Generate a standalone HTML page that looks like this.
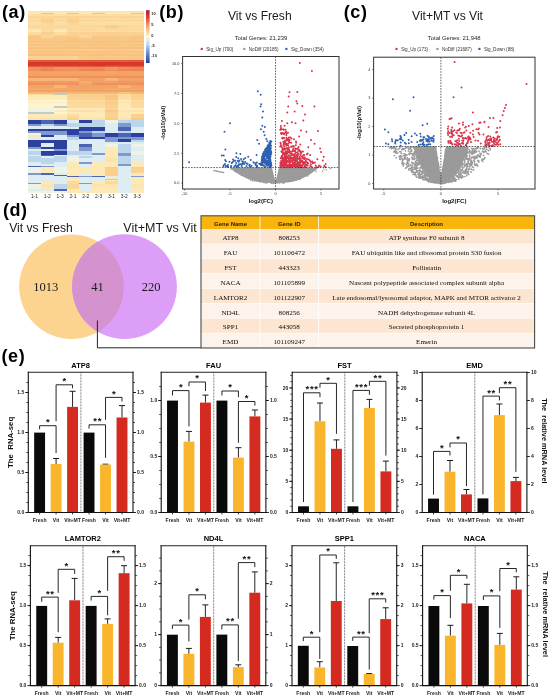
<!DOCTYPE html>
<html><head><meta charset="utf-8"><style>
html,body{margin:0;padding:0;background:#fff;overflow:hidden;}
svg{display:block;filter:blur(0.3px);}
</style></head><body>
<svg width="550" height="699" viewBox="0 0 550 699">
<rect x="0" y="0" width="550" height="699" fill="#fff"/>
<text x="2.00" y="17.90" font-size="18" font-weight="bold" text-anchor="start" font-family="'Liberation Sans', sans-serif" fill="#000" letter-spacing="0.6">(a)</text>
<text x="159.20" y="17.70" font-size="18" font-weight="bold" text-anchor="start" font-family="'Liberation Sans', sans-serif" fill="#000" letter-spacing="0.6">(b)</text>
<text x="343.70" y="17.90" font-size="18" font-weight="bold" text-anchor="start" font-family="'Liberation Sans', sans-serif" fill="#000" letter-spacing="0.6">(c)</text>
<text x="2.90" y="215.70" font-size="18" font-weight="bold" text-anchor="start" font-family="'Liberation Sans', sans-serif" fill="#000" letter-spacing="0.6">(d)</text>
<text x="1.50" y="362.20" font-size="18" font-weight="bold" text-anchor="start" font-family="'Liberation Sans', sans-serif" fill="#000" letter-spacing="0.6">(e)</text>
<filter id="hb" x="-2%" y="-2%" width="104%" height="104%"><feGaussianBlur stdDeviation="0.6"/></filter>
<g filter="url(#hb)" shape-rendering="crispEdges">
<rect x="28.00" y="10.50" width="13.03" height="1.60" fill="#fce1ac" />
<rect x="40.83" y="10.50" width="13.03" height="1.60" fill="#fce3ae" />
<rect x="53.67" y="10.50" width="13.03" height="1.60" fill="#fce2ae" />
<rect x="66.50" y="10.50" width="13.03" height="1.60" fill="#fce0ab" />
<rect x="79.33" y="10.50" width="13.03" height="1.60" fill="#fce2ad" />
<rect x="92.17" y="10.50" width="13.03" height="1.60" fill="#fce2ad" />
<rect x="105.00" y="10.50" width="13.03" height="1.60" fill="#fce0ac" />
<rect x="117.83" y="10.50" width="13.03" height="1.60" fill="#fce3ae" />
<rect x="130.67" y="10.50" width="13.03" height="1.60" fill="#fce0ab" />
<rect x="28.00" y="11.90" width="13.03" height="1.60" fill="#fde7b2" />
<rect x="40.83" y="11.90" width="13.03" height="1.60" fill="#fde7b2" />
<rect x="53.67" y="11.90" width="13.03" height="1.60" fill="#fde8b3" />
<rect x="66.50" y="11.90" width="13.03" height="1.60" fill="#fde8b3" />
<rect x="79.33" y="11.90" width="13.03" height="1.60" fill="#fde9b4" />
<rect x="92.17" y="11.90" width="13.03" height="1.60" fill="#fde6b1" />
<rect x="105.00" y="11.90" width="13.03" height="1.60" fill="#fde8b3" />
<rect x="117.83" y="11.90" width="13.03" height="1.60" fill="#fde8b3" />
<rect x="130.67" y="11.90" width="13.03" height="1.60" fill="#fde6b1" />
<rect x="28.00" y="13.30" width="13.03" height="1.20" fill="#fde9b4" />
<rect x="40.83" y="13.30" width="13.03" height="1.20" fill="#bfcccc" />
<rect x="53.67" y="13.30" width="13.03" height="1.20" fill="#fde9b4" />
<rect x="66.50" y="13.30" width="13.03" height="1.20" fill="#bfcccc" />
<rect x="79.33" y="13.30" width="13.03" height="1.20" fill="#fde9b4" />
<rect x="92.17" y="13.30" width="13.03" height="1.20" fill="#bfcccc" />
<rect x="105.00" y="13.30" width="13.03" height="1.20" fill="#fde9b4" />
<rect x="117.83" y="13.30" width="13.03" height="1.20" fill="#fde9b4" />
<rect x="130.67" y="13.30" width="13.03" height="1.20" fill="#bfcccc" />
<rect x="28.00" y="14.30" width="13.03" height="2.05" fill="#fcdea5" />
<rect x="40.83" y="14.30" width="13.03" height="2.05" fill="#fcdea5" />
<rect x="53.67" y="14.30" width="13.03" height="2.05" fill="#fde0a8" />
<rect x="66.50" y="14.30" width="13.03" height="2.05" fill="#fcdfa6" />
<rect x="79.33" y="14.30" width="13.03" height="2.05" fill="#fcdea6" />
<rect x="92.17" y="14.30" width="13.03" height="2.05" fill="#fcdfa7" />
<rect x="105.00" y="14.30" width="13.03" height="2.05" fill="#fcdda3" />
<rect x="117.83" y="14.30" width="13.03" height="2.05" fill="#fcdfa7" />
<rect x="130.67" y="14.30" width="13.03" height="2.05" fill="#fcdea5" />
<rect x="28.00" y="16.15" width="13.03" height="2.05" fill="#fbd597" />
<rect x="40.83" y="16.15" width="13.03" height="2.05" fill="#fbd698" />
<rect x="53.67" y="16.15" width="13.03" height="2.05" fill="#fbd396" />
<rect x="66.50" y="16.15" width="13.03" height="2.05" fill="#fbd497" />
<rect x="79.33" y="16.15" width="13.03" height="2.05" fill="#fbd396" />
<rect x="92.17" y="16.15" width="13.03" height="2.05" fill="#fbd598" />
<rect x="105.00" y="16.15" width="13.03" height="2.05" fill="#fbd597" />
<rect x="117.83" y="16.15" width="13.03" height="2.05" fill="#fbd396" />
<rect x="130.67" y="16.15" width="13.03" height="2.05" fill="#fbd598" />
<rect x="28.00" y="18.00" width="13.03" height="1.70" fill="#fcdca0" />
<rect x="40.83" y="18.00" width="13.03" height="1.70" fill="#fbd294" />
<rect x="53.67" y="18.00" width="13.03" height="1.70" fill="#fcdb9f" />
<rect x="66.50" y="18.00" width="13.03" height="1.70" fill="#fbd294" />
<rect x="79.33" y="18.00" width="13.03" height="1.70" fill="#fcdca1" />
<rect x="92.17" y="18.00" width="13.03" height="1.70" fill="#fcda9d" />
<rect x="105.00" y="18.00" width="13.03" height="1.70" fill="#fcdca1" />
<rect x="117.83" y="18.00" width="13.03" height="1.70" fill="#fcdb9f" />
<rect x="130.67" y="18.00" width="13.03" height="1.70" fill="#fcdb9f" />
<rect x="28.00" y="19.50" width="13.03" height="1.70" fill="#fbd698" />
<rect x="40.83" y="19.50" width="13.03" height="1.70" fill="#faca8a" />
<rect x="53.67" y="19.50" width="13.03" height="1.70" fill="#fbd699" />
<rect x="66.50" y="19.50" width="13.03" height="1.70" fill="#faca8a" />
<rect x="79.33" y="19.50" width="13.03" height="1.70" fill="#fbd598" />
<rect x="92.17" y="19.50" width="13.03" height="1.70" fill="#fbd497" />
<rect x="105.00" y="19.50" width="13.03" height="1.70" fill="#fbd598" />
<rect x="117.83" y="19.50" width="13.03" height="1.70" fill="#fbd496" />
<rect x="130.67" y="19.50" width="13.03" height="1.70" fill="#fbd496" />
<rect x="28.00" y="21.00" width="13.03" height="2.00" fill="#fcdda3" />
<rect x="40.83" y="21.00" width="13.03" height="2.00" fill="#fbd295" />
<rect x="53.67" y="21.00" width="13.03" height="2.00" fill="#fcdda3" />
<rect x="66.50" y="21.00" width="13.03" height="2.00" fill="#fbd192" />
<rect x="79.33" y="21.00" width="13.03" height="2.00" fill="#fcdda3" />
<rect x="92.17" y="21.00" width="13.03" height="2.00" fill="#fcdc9f" />
<rect x="105.00" y="21.00" width="13.03" height="2.00" fill="#fcdea4" />
<rect x="117.83" y="21.00" width="13.03" height="2.00" fill="#fcdda2" />
<rect x="130.67" y="21.00" width="13.03" height="2.00" fill="#fcdda2" />
<rect x="28.00" y="22.80" width="13.03" height="2.00" fill="#fcdfa7" />
<rect x="40.83" y="22.80" width="13.03" height="2.00" fill="#fcd69c" />
<rect x="53.67" y="22.80" width="13.03" height="2.00" fill="#fcdda3" />
<rect x="66.50" y="22.80" width="13.03" height="2.00" fill="#fcd599" />
<rect x="79.33" y="22.80" width="13.03" height="2.00" fill="#fcdda3" />
<rect x="92.17" y="22.80" width="13.03" height="2.00" fill="#fcdea4" />
<rect x="105.00" y="22.80" width="13.03" height="2.00" fill="#fcdea4" />
<rect x="117.83" y="22.80" width="13.03" height="2.00" fill="#fddfa8" />
<rect x="130.67" y="22.80" width="13.03" height="2.00" fill="#fcdea4" />
<rect x="28.00" y="24.60" width="13.03" height="1.67" fill="#fbd799" />
<rect x="40.83" y="24.60" width="13.03" height="1.67" fill="#fcd89b" />
<rect x="53.67" y="24.60" width="13.03" height="1.67" fill="#fcd99b" />
<rect x="66.50" y="24.60" width="13.03" height="1.67" fill="#fcd89a" />
<rect x="79.33" y="24.60" width="13.03" height="1.67" fill="#fbd698" />
<rect x="92.17" y="24.60" width="13.03" height="1.67" fill="#fcd79a" />
<rect x="105.00" y="24.60" width="13.03" height="1.67" fill="#fbcd8c" />
<rect x="117.83" y="24.60" width="13.03" height="1.67" fill="#fbd598" />
<rect x="130.67" y="24.60" width="13.03" height="1.67" fill="#fcd89a" />
<rect x="28.00" y="26.07" width="13.03" height="1.67" fill="#fcd89b" />
<rect x="40.83" y="26.07" width="13.03" height="1.67" fill="#fcd99b" />
<rect x="53.67" y="26.07" width="13.03" height="1.67" fill="#fcd99b" />
<rect x="66.50" y="26.07" width="13.03" height="1.67" fill="#fcd89a" />
<rect x="79.33" y="26.07" width="13.03" height="1.67" fill="#fcd89a" />
<rect x="92.17" y="26.07" width="13.03" height="1.67" fill="#fbd799" />
<rect x="105.00" y="26.07" width="13.03" height="1.67" fill="#fbcd8d" />
<rect x="117.83" y="26.07" width="13.03" height="1.67" fill="#fbd799" />
<rect x="130.67" y="26.07" width="13.03" height="1.67" fill="#fcd89a" />
<rect x="28.00" y="27.53" width="13.03" height="1.67" fill="#fcdb9e" />
<rect x="40.83" y="27.53" width="13.03" height="1.67" fill="#fcda9c" />
<rect x="53.67" y="27.53" width="13.03" height="1.67" fill="#fcd99b" />
<rect x="66.50" y="27.53" width="13.03" height="1.67" fill="#fcda9d" />
<rect x="79.33" y="27.53" width="13.03" height="1.67" fill="#fcd99b" />
<rect x="92.17" y="27.53" width="13.03" height="1.67" fill="#fcdb9e" />
<rect x="105.00" y="27.53" width="13.03" height="1.67" fill="#fbcf8e" />
<rect x="117.83" y="27.53" width="13.03" height="1.67" fill="#fcda9c" />
<rect x="130.67" y="27.53" width="13.03" height="1.67" fill="#fcdb9f" />
<rect x="28.00" y="29.00" width="13.03" height="1.70" fill="#fde7b2" />
<rect x="40.83" y="29.00" width="13.03" height="1.70" fill="#fcd89a" />
<rect x="53.67" y="29.00" width="13.03" height="1.70" fill="#fde7b2" />
<rect x="66.50" y="29.00" width="13.03" height="1.70" fill="#fbd799" />
<rect x="79.33" y="29.00" width="13.03" height="1.70" fill="#fcd99b" />
<rect x="92.17" y="29.00" width="13.03" height="1.70" fill="#fcda9c" />
<rect x="105.00" y="29.00" width="13.03" height="1.70" fill="#fcd99b" />
<rect x="117.83" y="29.00" width="13.03" height="1.70" fill="#fcd99b" />
<rect x="130.67" y="29.00" width="13.03" height="1.70" fill="#fcda9c" />
<rect x="28.00" y="30.50" width="13.03" height="1.70" fill="#fdebb9" />
<rect x="40.83" y="30.50" width="13.03" height="1.70" fill="#fcdea5" />
<rect x="53.67" y="30.50" width="13.03" height="1.70" fill="#fdebba" />
<rect x="66.50" y="30.50" width="13.03" height="1.70" fill="#fcdda2" />
<rect x="79.33" y="30.50" width="13.03" height="1.70" fill="#fcdda3" />
<rect x="92.17" y="30.50" width="13.03" height="1.70" fill="#fcdda2" />
<rect x="105.00" y="30.50" width="13.03" height="1.70" fill="#fcdda2" />
<rect x="117.83" y="30.50" width="13.03" height="1.70" fill="#fcdda3" />
<rect x="130.67" y="30.50" width="13.03" height="1.70" fill="#fcdda2" />
<rect x="28.00" y="32.00" width="13.03" height="1.70" fill="#fcdb9f" />
<rect x="40.83" y="32.00" width="13.03" height="1.70" fill="#fbcf8e" />
<rect x="53.67" y="32.00" width="13.03" height="1.70" fill="#fcdb9e" />
<rect x="66.50" y="32.00" width="13.03" height="1.70" fill="#fbd090" />
<rect x="79.33" y="32.00" width="13.03" height="1.70" fill="#fbd192" />
<rect x="92.17" y="32.00" width="13.03" height="1.70" fill="#fbcf8e" />
<rect x="105.00" y="32.00" width="13.03" height="1.70" fill="#fbcf8f" />
<rect x="117.83" y="32.00" width="13.03" height="1.70" fill="#fbd191" />
<rect x="130.67" y="32.00" width="13.03" height="1.70" fill="#fbd090" />
<rect x="28.00" y="33.50" width="13.03" height="1.70" fill="#fcdb9f" />
<rect x="40.83" y="33.50" width="13.03" height="1.70" fill="#fbd090" />
<rect x="53.67" y="33.50" width="13.03" height="1.70" fill="#fcdda2" />
<rect x="66.50" y="33.50" width="13.03" height="1.70" fill="#fbd090" />
<rect x="79.33" y="33.50" width="13.03" height="1.70" fill="#fbd090" />
<rect x="92.17" y="33.50" width="13.03" height="1.70" fill="#fbd091" />
<rect x="105.00" y="33.50" width="13.03" height="1.70" fill="#fbd191" />
<rect x="117.83" y="33.50" width="13.03" height="1.70" fill="#fbd090" />
<rect x="130.67" y="33.50" width="13.03" height="1.70" fill="#fbd192" />
<rect x="28.00" y="35.00" width="13.03" height="2.20" fill="#fac989" />
<rect x="40.83" y="35.00" width="13.03" height="2.20" fill="#fbd498" />
<rect x="53.67" y="35.00" width="13.03" height="2.20" fill="#facc8d" />
<rect x="66.50" y="35.00" width="13.03" height="2.20" fill="#facd8f" />
<rect x="79.33" y="35.00" width="13.03" height="2.20" fill="#fcd69c" />
<rect x="92.17" y="35.00" width="13.03" height="2.20" fill="#faca89" />
<rect x="105.00" y="35.00" width="13.03" height="2.20" fill="#facb8c" />
<rect x="117.83" y="35.00" width="13.03" height="2.20" fill="#facd8f" />
<rect x="130.67" y="35.00" width="13.03" height="2.20" fill="#fac988" />
<rect x="28.00" y="37.00" width="13.03" height="2.20" fill="#f9c47f" />
<rect x="40.83" y="37.00" width="13.03" height="2.20" fill="#fbd192" />
<rect x="53.67" y="37.00" width="13.03" height="2.20" fill="#f9c785" />
<rect x="66.50" y="37.00" width="13.03" height="2.20" fill="#f9c682" />
<rect x="79.33" y="37.00" width="13.03" height="2.20" fill="#fbce8e" />
<rect x="92.17" y="37.00" width="13.03" height="2.20" fill="#f9c47f" />
<rect x="105.00" y="37.00" width="13.03" height="2.20" fill="#f9c581" />
<rect x="117.83" y="37.00" width="13.03" height="2.20" fill="#f9c784" />
<rect x="130.67" y="37.00" width="13.03" height="2.20" fill="#f9c480" />
<rect x="28.00" y="39.00" width="13.03" height="1.87" fill="#f9c683" />
<rect x="40.83" y="39.00" width="13.03" height="1.87" fill="#f9c682" />
<rect x="53.67" y="39.00" width="13.03" height="1.87" fill="#f9c886" />
<rect x="66.50" y="39.00" width="13.03" height="1.87" fill="#f9c682" />
<rect x="79.33" y="39.00" width="13.03" height="1.87" fill="#f9c683" />
<rect x="92.17" y="39.00" width="13.03" height="1.87" fill="#f9c886" />
<rect x="105.00" y="39.00" width="13.03" height="1.87" fill="#f9c784" />
<rect x="117.83" y="39.00" width="13.03" height="1.87" fill="#f9c886" />
<rect x="130.67" y="39.00" width="13.03" height="1.87" fill="#f9c784" />
<rect x="28.00" y="40.67" width="13.03" height="1.87" fill="#f8c07c" />
<rect x="40.83" y="40.67" width="13.03" height="1.87" fill="#f8c17d" />
<rect x="53.67" y="40.67" width="13.03" height="1.87" fill="#f8c07c" />
<rect x="66.50" y="40.67" width="13.03" height="1.87" fill="#f9c27d" />
<rect x="79.33" y="40.67" width="13.03" height="1.87" fill="#f8bf7b" />
<rect x="92.17" y="40.67" width="13.03" height="1.87" fill="#f8c07c" />
<rect x="105.00" y="40.67" width="13.03" height="1.87" fill="#f8c17d" />
<rect x="117.83" y="40.67" width="13.03" height="1.87" fill="#f8c17d" />
<rect x="130.67" y="40.67" width="13.03" height="1.87" fill="#f8c07c" />
<rect x="28.00" y="42.33" width="13.03" height="1.87" fill="#f9c887" />
<rect x="40.83" y="42.33" width="13.03" height="1.87" fill="#f9c785" />
<rect x="53.67" y="42.33" width="13.03" height="1.87" fill="#f9c784" />
<rect x="66.50" y="42.33" width="13.03" height="1.87" fill="#f9c784" />
<rect x="79.33" y="42.33" width="13.03" height="1.87" fill="#f9c785" />
<rect x="92.17" y="42.33" width="13.03" height="1.87" fill="#f9c682" />
<rect x="105.00" y="42.33" width="13.03" height="1.87" fill="#f9c785" />
<rect x="117.83" y="42.33" width="13.03" height="1.87" fill="#f9c785" />
<rect x="130.67" y="42.33" width="13.03" height="1.87" fill="#f9c886" />
<rect x="28.00" y="44.00" width="13.03" height="1.87" fill="#f9c27e" />
<rect x="40.83" y="44.00" width="13.03" height="1.87" fill="#f9c47f" />
<rect x="53.67" y="44.00" width="13.03" height="1.87" fill="#f9c581" />
<rect x="66.50" y="44.00" width="13.03" height="1.87" fill="#f9c480" />
<rect x="79.33" y="44.00" width="13.03" height="1.87" fill="#f9c480" />
<rect x="92.17" y="44.00" width="13.03" height="1.87" fill="#f9c37f" />
<rect x="105.00" y="44.00" width="13.03" height="1.87" fill="#f9c37f" />
<rect x="117.83" y="44.00" width="13.03" height="1.87" fill="#f9c580" />
<rect x="130.67" y="44.00" width="13.03" height="1.87" fill="#f9c27e" />
<rect x="28.00" y="45.67" width="13.03" height="1.87" fill="#facc8d" />
<rect x="40.83" y="45.67" width="13.03" height="1.87" fill="#facc8d" />
<rect x="53.67" y="45.67" width="13.03" height="1.87" fill="#f9c887" />
<rect x="66.50" y="45.67" width="13.03" height="1.87" fill="#f9c887" />
<rect x="79.33" y="45.67" width="13.03" height="1.87" fill="#facc8d" />
<rect x="92.17" y="45.67" width="13.03" height="1.87" fill="#faca89" />
<rect x="105.00" y="45.67" width="13.03" height="1.87" fill="#fac988" />
<rect x="117.83" y="45.67" width="13.03" height="1.87" fill="#fac989" />
<rect x="130.67" y="45.67" width="13.03" height="1.87" fill="#facb8b" />
<rect x="28.00" y="47.33" width="13.03" height="1.87" fill="#f8c07c" />
<rect x="40.83" y="47.33" width="13.03" height="1.87" fill="#f8c17c" />
<rect x="53.67" y="47.33" width="13.03" height="1.87" fill="#f8c17d" />
<rect x="66.50" y="47.33" width="13.03" height="1.87" fill="#f8bf7b" />
<rect x="79.33" y="47.33" width="13.03" height="1.87" fill="#f8c17d" />
<rect x="92.17" y="47.33" width="13.03" height="1.87" fill="#f8c07c" />
<rect x="105.00" y="47.33" width="13.03" height="1.87" fill="#f8c07c" />
<rect x="117.83" y="47.33" width="13.03" height="1.87" fill="#f8c07c" />
<rect x="130.67" y="47.33" width="13.03" height="1.87" fill="#f8bf7c" />
<rect x="28.00" y="49.00" width="13.03" height="1.82" fill="#fac988" />
<rect x="40.83" y="49.00" width="13.03" height="1.82" fill="#faca8b" />
<rect x="53.67" y="49.00" width="13.03" height="1.82" fill="#fac988" />
<rect x="66.50" y="49.00" width="13.03" height="1.82" fill="#facb8b" />
<rect x="79.33" y="49.00" width="13.03" height="1.82" fill="#facc8e" />
<rect x="92.17" y="49.00" width="13.03" height="1.82" fill="#facc8d" />
<rect x="105.00" y="49.00" width="13.03" height="1.82" fill="#fac988" />
<rect x="117.83" y="49.00" width="13.03" height="1.82" fill="#facb8b" />
<rect x="130.67" y="49.00" width="13.03" height="1.82" fill="#facc8d" />
<rect x="28.00" y="50.62" width="13.03" height="1.82" fill="#f8c07c" />
<rect x="40.83" y="50.62" width="13.03" height="1.82" fill="#f8c17d" />
<rect x="53.67" y="50.62" width="13.03" height="1.82" fill="#f9c17d" />
<rect x="66.50" y="50.62" width="13.03" height="1.82" fill="#f8c07c" />
<rect x="79.33" y="50.62" width="13.03" height="1.82" fill="#f8c17d" />
<rect x="92.17" y="50.62" width="13.03" height="1.82" fill="#f8c17d" />
<rect x="105.00" y="50.62" width="13.03" height="1.82" fill="#f8c07c" />
<rect x="117.83" y="50.62" width="13.03" height="1.82" fill="#f8c17d" />
<rect x="130.67" y="50.62" width="13.03" height="1.82" fill="#f8c17d" />
<rect x="28.00" y="52.25" width="13.03" height="1.82" fill="#f9c785" />
<rect x="40.83" y="52.25" width="13.03" height="1.82" fill="#f9c684" />
<rect x="53.67" y="52.25" width="13.03" height="1.82" fill="#f9c784" />
<rect x="66.50" y="52.25" width="13.03" height="1.82" fill="#fac988" />
<rect x="79.33" y="52.25" width="13.03" height="1.82" fill="#f9c682" />
<rect x="92.17" y="52.25" width="13.03" height="1.82" fill="#f9c682" />
<rect x="105.00" y="52.25" width="13.03" height="1.82" fill="#f9c581" />
<rect x="117.83" y="52.25" width="13.03" height="1.82" fill="#fac988" />
<rect x="130.67" y="52.25" width="13.03" height="1.82" fill="#fac989" />
<rect x="28.00" y="53.88" width="13.03" height="1.82" fill="#f8c07c" />
<rect x="40.83" y="53.88" width="13.03" height="1.82" fill="#f8c07c" />
<rect x="53.67" y="53.88" width="13.03" height="1.82" fill="#f9c17d" />
<rect x="66.50" y="53.88" width="13.03" height="1.82" fill="#f8c17d" />
<rect x="79.33" y="53.88" width="13.03" height="1.82" fill="#f9c27d" />
<rect x="92.17" y="53.88" width="13.03" height="1.82" fill="#f8c07c" />
<rect x="105.00" y="53.88" width="13.03" height="1.82" fill="#f9c27e" />
<rect x="117.83" y="53.88" width="13.03" height="1.82" fill="#f8c17d" />
<rect x="130.67" y="53.88" width="13.03" height="1.82" fill="#f9c27d" />
<rect x="28.00" y="55.50" width="13.03" height="1.77" fill="#fbd498" />
<rect x="40.83" y="55.50" width="13.03" height="1.77" fill="#fbd396" />
<rect x="53.67" y="55.50" width="13.03" height="1.77" fill="#fbd396" />
<rect x="66.50" y="55.50" width="13.03" height="1.77" fill="#fbd396" />
<rect x="79.33" y="55.50" width="13.03" height="1.77" fill="#f9c885" />
<rect x="92.17" y="55.50" width="13.03" height="1.77" fill="#fac988" />
<rect x="105.00" y="55.50" width="13.03" height="1.77" fill="#facb8b" />
<rect x="117.83" y="55.50" width="13.03" height="1.77" fill="#facb8b" />
<rect x="130.67" y="55.50" width="13.03" height="1.77" fill="#f9c784" />
<rect x="28.00" y="57.07" width="13.03" height="1.77" fill="#fbd191" />
<rect x="40.83" y="57.07" width="13.03" height="1.77" fill="#fbd090" />
<rect x="53.67" y="57.07" width="13.03" height="1.77" fill="#fbd090" />
<rect x="66.50" y="57.07" width="13.03" height="1.77" fill="#fbd294" />
<rect x="79.33" y="57.07" width="13.03" height="1.77" fill="#fac987" />
<rect x="92.17" y="57.07" width="13.03" height="1.77" fill="#f9c784" />
<rect x="105.00" y="57.07" width="13.03" height="1.77" fill="#f9c683" />
<rect x="117.83" y="57.07" width="13.03" height="1.77" fill="#f9c784" />
<rect x="130.67" y="57.07" width="13.03" height="1.77" fill="#f9c886" />
<rect x="28.00" y="58.63" width="13.03" height="1.77" fill="#fbd191" />
<rect x="40.83" y="58.63" width="13.03" height="1.77" fill="#fbd192" />
<rect x="53.67" y="58.63" width="13.03" height="1.77" fill="#fbd397" />
<rect x="66.50" y="58.63" width="13.03" height="1.77" fill="#fbd294" />
<rect x="79.33" y="58.63" width="13.03" height="1.77" fill="#fac987" />
<rect x="92.17" y="58.63" width="13.03" height="1.77" fill="#fac988" />
<rect x="105.00" y="58.63" width="13.03" height="1.77" fill="#fac987" />
<rect x="117.83" y="58.63" width="13.03" height="1.77" fill="#fac988" />
<rect x="130.67" y="58.63" width="13.03" height="1.77" fill="#f9c887" />
<rect x="28.00" y="60.20" width="13.03" height="1.50" fill="#e4583a" />
<rect x="40.83" y="60.20" width="13.03" height="1.50" fill="#e4583a" />
<rect x="53.67" y="60.20" width="13.03" height="1.50" fill="#e4583a" />
<rect x="66.50" y="60.20" width="13.03" height="1.50" fill="#e4583a" />
<rect x="79.33" y="60.20" width="13.03" height="1.50" fill="#e4583a" />
<rect x="92.17" y="60.20" width="13.03" height="1.50" fill="#e4583a" />
<rect x="105.00" y="60.20" width="13.03" height="1.50" fill="#e4583a" />
<rect x="117.83" y="60.20" width="13.03" height="1.50" fill="#e4583a" />
<rect x="130.67" y="60.20" width="13.03" height="1.50" fill="#e4583a" />
<rect x="28.00" y="61.50" width="13.03" height="1.70" fill="#d6382b" />
<rect x="40.83" y="61.50" width="13.03" height="1.70" fill="#d63a2c" />
<rect x="53.67" y="61.50" width="13.03" height="1.70" fill="#d6392b" />
<rect x="66.50" y="61.50" width="13.03" height="1.70" fill="#d6382b" />
<rect x="79.33" y="61.50" width="13.03" height="1.70" fill="#d63a2c" />
<rect x="92.17" y="61.50" width="13.03" height="1.70" fill="#d63a2c" />
<rect x="105.00" y="61.50" width="13.03" height="1.70" fill="#d6392b" />
<rect x="117.83" y="61.50" width="13.03" height="1.70" fill="#d63a2c" />
<rect x="130.67" y="61.50" width="13.03" height="1.70" fill="#d6392b" />
<rect x="28.00" y="63.00" width="13.03" height="1.70" fill="#d6392c" />
<rect x="40.83" y="63.00" width="13.03" height="1.70" fill="#d6382b" />
<rect x="53.67" y="63.00" width="13.03" height="1.70" fill="#d6392d" />
<rect x="66.50" y="63.00" width="13.03" height="1.70" fill="#d6382b" />
<rect x="79.33" y="63.00" width="13.03" height="1.70" fill="#d6392c" />
<rect x="92.17" y="63.00" width="13.03" height="1.70" fill="#d5372a" />
<rect x="105.00" y="63.00" width="13.03" height="1.70" fill="#d5362a" />
<rect x="117.83" y="63.00" width="13.03" height="1.70" fill="#d6382b" />
<rect x="130.67" y="63.00" width="13.03" height="1.70" fill="#d5372a" />
<rect x="28.00" y="64.50" width="13.03" height="1.70" fill="#d84236" />
<rect x="40.83" y="64.50" width="13.03" height="1.70" fill="#d84538" />
<rect x="53.67" y="64.50" width="13.03" height="1.70" fill="#d63b2f" />
<rect x="66.50" y="64.50" width="13.03" height="1.70" fill="#d73f32" />
<rect x="79.33" y="64.50" width="13.03" height="1.70" fill="#d84235" />
<rect x="92.17" y="64.50" width="13.03" height="1.70" fill="#d6392d" />
<rect x="105.00" y="64.50" width="13.03" height="1.70" fill="#d84639" />
<rect x="117.83" y="64.50" width="13.03" height="1.70" fill="#d73f33" />
<rect x="130.67" y="64.50" width="13.03" height="1.70" fill="#d63c30" />
<rect x="28.00" y="66.00" width="13.03" height="1.20" fill="#e4583a" />
<rect x="40.83" y="66.00" width="13.03" height="1.20" fill="#e4583a" />
<rect x="53.67" y="66.00" width="13.03" height="1.20" fill="#e4583a" />
<rect x="66.50" y="66.00" width="13.03" height="1.20" fill="#e4583a" />
<rect x="79.33" y="66.00" width="13.03" height="1.20" fill="#e4583a" />
<rect x="92.17" y="66.00" width="13.03" height="1.20" fill="#e4583a" />
<rect x="105.00" y="66.00" width="13.03" height="1.20" fill="#e4583a" />
<rect x="117.83" y="66.00" width="13.03" height="1.20" fill="#e4583a" />
<rect x="130.67" y="66.00" width="13.03" height="1.20" fill="#e4583a" />
<rect x="28.00" y="67.00" width="13.03" height="2.05" fill="#f1915b" />
<rect x="40.83" y="67.00" width="13.03" height="2.05" fill="#ee8656" />
<rect x="53.67" y="67.00" width="13.03" height="2.05" fill="#f1935e" />
<rect x="66.50" y="67.00" width="13.03" height="2.05" fill="#f1935e" />
<rect x="79.33" y="67.00" width="13.03" height="2.05" fill="#ef8b5b" />
<rect x="92.17" y="67.00" width="13.03" height="2.05" fill="#ef895a" />
<rect x="105.00" y="67.00" width="13.03" height="2.05" fill="#f29864" />
<rect x="117.83" y="67.00" width="13.03" height="2.05" fill="#ef8a5b" />
<rect x="130.67" y="67.00" width="13.03" height="2.05" fill="#ee8656" />
<rect x="28.00" y="68.85" width="13.03" height="2.05" fill="#f18f59" />
<rect x="40.83" y="68.85" width="13.03" height="2.05" fill="#ee8352" />
<rect x="53.67" y="68.85" width="13.03" height="2.05" fill="#f18f5a" />
<rect x="66.50" y="68.85" width="13.03" height="2.05" fill="#f1905a" />
<rect x="79.33" y="68.85" width="13.03" height="2.05" fill="#ee8352" />
<rect x="92.17" y="68.85" width="13.03" height="2.05" fill="#ee8352" />
<rect x="105.00" y="68.85" width="13.03" height="2.05" fill="#f1905a" />
<rect x="117.83" y="68.85" width="13.03" height="2.05" fill="#ee8352" />
<rect x="130.67" y="68.85" width="13.03" height="2.05" fill="#ee8351" />
<rect x="28.00" y="70.70" width="13.03" height="1.97" fill="#f4a264" />
<rect x="40.83" y="70.70" width="13.03" height="1.97" fill="#f3a164" />
<rect x="53.67" y="70.70" width="13.03" height="1.97" fill="#f3a164" />
<rect x="66.50" y="70.70" width="13.03" height="1.97" fill="#f3a164" />
<rect x="79.33" y="70.70" width="13.03" height="1.97" fill="#f4a264" />
<rect x="92.17" y="70.70" width="13.03" height="1.97" fill="#f3a063" />
<rect x="105.00" y="70.70" width="13.03" height="1.97" fill="#f4a265" />
<rect x="117.83" y="70.70" width="13.03" height="1.97" fill="#f4a265" />
<rect x="130.67" y="70.70" width="13.03" height="1.97" fill="#f3a164" />
<rect x="28.00" y="72.47" width="13.03" height="1.97" fill="#f4a366" />
<rect x="40.83" y="72.47" width="13.03" height="1.97" fill="#f4a466" />
<rect x="53.67" y="72.47" width="13.03" height="1.97" fill="#f4a365" />
<rect x="66.50" y="72.47" width="13.03" height="1.97" fill="#f4a466" />
<rect x="79.33" y="72.47" width="13.03" height="1.97" fill="#f4a669" />
<rect x="92.17" y="72.47" width="13.03" height="1.97" fill="#f4a466" />
<rect x="105.00" y="72.47" width="13.03" height="1.97" fill="#f4a568" />
<rect x="117.83" y="72.47" width="13.03" height="1.97" fill="#f4a365" />
<rect x="130.67" y="72.47" width="13.03" height="1.97" fill="#f4a669" />
<rect x="28.00" y="74.23" width="13.03" height="1.97" fill="#f3a164" />
<rect x="40.83" y="74.23" width="13.03" height="1.97" fill="#f4a264" />
<rect x="53.67" y="74.23" width="13.03" height="1.97" fill="#f3a164" />
<rect x="66.50" y="74.23" width="13.03" height="1.97" fill="#f3a164" />
<rect x="79.33" y="74.23" width="13.03" height="1.97" fill="#f3a164" />
<rect x="92.17" y="74.23" width="13.03" height="1.97" fill="#f4a265" />
<rect x="105.00" y="74.23" width="13.03" height="1.97" fill="#f3a164" />
<rect x="117.83" y="74.23" width="13.03" height="1.97" fill="#f3a164" />
<rect x="130.67" y="74.23" width="13.03" height="1.97" fill="#f4a265" />
<rect x="28.00" y="76.00" width="13.03" height="2.20" fill="#f1905a" />
<rect x="40.83" y="76.00" width="13.03" height="2.20" fill="#f1905a" />
<rect x="53.67" y="76.00" width="13.03" height="2.20" fill="#f1905a" />
<rect x="66.50" y="76.00" width="13.03" height="2.20" fill="#f1905a" />
<rect x="79.33" y="76.00" width="13.03" height="2.20" fill="#f1905a" />
<rect x="92.17" y="76.00" width="13.03" height="2.20" fill="#f1905a" />
<rect x="105.00" y="76.00" width="13.03" height="2.20" fill="#f1905a" />
<rect x="117.83" y="76.00" width="13.03" height="2.20" fill="#f1905a" />
<rect x="130.67" y="76.00" width="13.03" height="2.20" fill="#f1905a" />
<rect x="28.00" y="78.00" width="13.03" height="1.70" fill="#f7b673" />
<rect x="40.83" y="78.00" width="13.03" height="1.70" fill="#f7b874" />
<rect x="53.67" y="78.00" width="13.03" height="1.70" fill="#f7b774" />
<rect x="66.50" y="78.00" width="13.03" height="1.70" fill="#f7b773" />
<rect x="79.33" y="78.00" width="13.03" height="1.70" fill="#f4a365" />
<rect x="92.17" y="78.00" width="13.03" height="1.70" fill="#f4a365" />
<rect x="105.00" y="78.00" width="13.03" height="1.70" fill="#f7b874" />
<rect x="117.83" y="78.00" width="13.03" height="1.70" fill="#f4a365" />
<rect x="130.67" y="78.00" width="13.03" height="1.70" fill="#f4a265" />
<rect x="28.00" y="79.50" width="13.03" height="1.70" fill="#f6b471" />
<rect x="40.83" y="79.50" width="13.03" height="1.70" fill="#f6b571" />
<rect x="53.67" y="79.50" width="13.03" height="1.70" fill="#f6b471" />
<rect x="66.50" y="79.50" width="13.03" height="1.70" fill="#f6b572" />
<rect x="79.33" y="79.50" width="13.03" height="1.70" fill="#f3a164" />
<rect x="92.17" y="79.50" width="13.03" height="1.70" fill="#f3a164" />
<rect x="105.00" y="79.50" width="13.03" height="1.70" fill="#f6b371" />
<rect x="117.83" y="79.50" width="13.03" height="1.70" fill="#f3a164" />
<rect x="130.67" y="79.50" width="13.03" height="1.70" fill="#f3a164" />
<rect x="28.00" y="81.00" width="13.03" height="1.95" fill="#f29864" />
<rect x="40.83" y="81.00" width="13.03" height="1.95" fill="#f29864" />
<rect x="53.67" y="81.00" width="13.03" height="1.95" fill="#f39c6a" />
<rect x="66.50" y="81.00" width="13.03" height="1.95" fill="#f29a66" />
<rect x="79.33" y="81.00" width="13.03" height="1.95" fill="#f5ac71" />
<rect x="92.17" y="81.00" width="13.03" height="1.95" fill="#f39f6d" />
<rect x="105.00" y="81.00" width="13.03" height="1.95" fill="#f39e6c" />
<rect x="117.83" y="81.00" width="13.03" height="1.95" fill="#f29864" />
<rect x="130.67" y="81.00" width="13.03" height="1.95" fill="#f29864" />
<rect x="28.00" y="82.75" width="13.03" height="1.95" fill="#f1905a" />
<rect x="40.83" y="82.75" width="13.03" height="1.95" fill="#f1905a" />
<rect x="53.67" y="82.75" width="13.03" height="1.95" fill="#f1915b" />
<rect x="66.50" y="82.75" width="13.03" height="1.95" fill="#f1915c" />
<rect x="79.33" y="82.75" width="13.03" height="1.95" fill="#f4a669" />
<rect x="92.17" y="82.75" width="13.03" height="1.95" fill="#f1905a" />
<rect x="105.00" y="82.75" width="13.03" height="1.95" fill="#f1915b" />
<rect x="117.83" y="82.75" width="13.03" height="1.95" fill="#f1905a" />
<rect x="130.67" y="82.75" width="13.03" height="1.95" fill="#f1905a" />
<rect x="28.00" y="84.50" width="13.03" height="1.95" fill="#f3a063" />
<rect x="40.83" y="84.50" width="13.03" height="1.95" fill="#f4a264" />
<rect x="53.67" y="84.50" width="13.03" height="1.95" fill="#f6b371" />
<rect x="66.50" y="84.50" width="13.03" height="1.95" fill="#f3a164" />
<rect x="79.33" y="84.50" width="13.03" height="1.95" fill="#f3a164" />
<rect x="92.17" y="84.50" width="13.03" height="1.95" fill="#f3a163" />
<rect x="105.00" y="84.50" width="13.03" height="1.95" fill="#f3a063" />
<rect x="117.83" y="84.50" width="13.03" height="1.95" fill="#f6b370" />
<rect x="130.67" y="84.50" width="13.03" height="1.95" fill="#f4a264" />
<rect x="28.00" y="86.25" width="13.03" height="1.95" fill="#f4a365" />
<rect x="40.83" y="86.25" width="13.03" height="1.95" fill="#f4a365" />
<rect x="53.67" y="86.25" width="13.03" height="1.95" fill="#f7b773" />
<rect x="66.50" y="86.25" width="13.03" height="1.95" fill="#f4a365" />
<rect x="79.33" y="86.25" width="13.03" height="1.95" fill="#f4a365" />
<rect x="92.17" y="86.25" width="13.03" height="1.95" fill="#f4a365" />
<rect x="105.00" y="86.25" width="13.03" height="1.95" fill="#f4a365" />
<rect x="117.83" y="86.25" width="13.03" height="1.95" fill="#f7b773" />
<rect x="130.67" y="86.25" width="13.03" height="1.95" fill="#f4a365" />
<rect x="28.00" y="88.00" width="13.03" height="2.20" fill="#f5a96d" />
<rect x="40.83" y="88.00" width="13.03" height="2.20" fill="#f5a96d" />
<rect x="53.67" y="88.00" width="13.03" height="2.20" fill="#f4a466" />
<rect x="66.50" y="88.00" width="13.03" height="2.20" fill="#f4a568" />
<rect x="79.33" y="88.00" width="13.03" height="2.20" fill="#f4a466" />
<rect x="92.17" y="88.00" width="13.03" height="2.20" fill="#f4a568" />
<rect x="105.00" y="88.00" width="13.03" height="2.20" fill="#f5a86c" />
<rect x="117.83" y="88.00" width="13.03" height="2.20" fill="#f4a76b" />
<rect x="130.67" y="88.00" width="13.03" height="2.20" fill="#f4a66a" />
<rect x="28.00" y="90.00" width="13.03" height="2.20" fill="#f4a264" />
<rect x="40.83" y="90.00" width="13.03" height="2.20" fill="#f3a164" />
<rect x="53.67" y="90.00" width="13.03" height="2.20" fill="#f3a164" />
<rect x="66.50" y="90.00" width="13.03" height="2.20" fill="#f4a264" />
<rect x="79.33" y="90.00" width="13.03" height="2.20" fill="#f3a063" />
<rect x="92.17" y="90.00" width="13.03" height="2.20" fill="#f3a164" />
<rect x="105.00" y="90.00" width="13.03" height="2.20" fill="#f4a264" />
<rect x="117.83" y="90.00" width="13.03" height="2.20" fill="#f3a063" />
<rect x="130.67" y="90.00" width="13.03" height="2.20" fill="#f3a164" />
<rect x="28.00" y="92.00" width="13.03" height="1.70" fill="#f7b874" />
<rect x="40.83" y="92.00" width="13.03" height="1.70" fill="#f7b874" />
<rect x="53.67" y="92.00" width="13.03" height="1.70" fill="#f7b874" />
<rect x="66.50" y="92.00" width="13.03" height="1.70" fill="#f7b874" />
<rect x="79.33" y="92.00" width="13.03" height="1.70" fill="#f7b874" />
<rect x="92.17" y="92.00" width="13.03" height="1.70" fill="#f7b874" />
<rect x="105.00" y="92.00" width="13.03" height="1.70" fill="#f7b874" />
<rect x="117.83" y="92.00" width="13.03" height="1.70" fill="#f9c47f" />
<rect x="130.67" y="92.00" width="13.03" height="1.70" fill="#f7b874" />
<rect x="28.00" y="93.50" width="13.03" height="1.70" fill="#fcda9c" />
<rect x="40.83" y="93.50" width="13.03" height="1.70" fill="#fcda9c" />
<rect x="53.67" y="93.50" width="13.03" height="1.70" fill="#bfcccc" />
<rect x="66.50" y="93.50" width="13.03" height="1.70" fill="#fbcf8e" />
<rect x="79.33" y="93.50" width="13.03" height="1.70" fill="#fbcf8e" />
<rect x="92.17" y="93.50" width="13.03" height="1.70" fill="#fbcf8e" />
<rect x="105.00" y="93.50" width="13.03" height="1.70" fill="#fbcf8e" />
<rect x="117.83" y="93.50" width="13.03" height="1.70" fill="#fcda9c" />
<rect x="130.67" y="93.50" width="13.03" height="1.70" fill="#fbcf8e" />
<rect x="28.00" y="95.00" width="13.03" height="1.87" fill="#fde8b3" />
<rect x="40.83" y="95.00" width="13.03" height="1.87" fill="#fde9b4" />
<rect x="53.67" y="95.00" width="13.03" height="1.87" fill="#fdeab6" />
<rect x="66.50" y="95.00" width="13.03" height="1.87" fill="#fbd08f" />
<rect x="79.33" y="95.00" width="13.03" height="1.87" fill="#fbcf8e" />
<rect x="92.17" y="95.00" width="13.03" height="1.87" fill="#fbce8e" />
<rect x="105.00" y="95.00" width="13.03" height="1.87" fill="#f9c480" />
<rect x="117.83" y="95.00" width="13.03" height="1.87" fill="#fcdca0" />
<rect x="130.67" y="95.00" width="13.03" height="1.87" fill="#fbcf8e" />
<rect x="28.00" y="96.67" width="13.03" height="1.87" fill="#fdeab6" />
<rect x="40.83" y="96.67" width="13.03" height="1.87" fill="#fdeab5" />
<rect x="53.67" y="96.67" width="13.03" height="1.87" fill="#fde9b4" />
<rect x="66.50" y="96.67" width="13.03" height="1.87" fill="#fbd090" />
<rect x="79.33" y="96.67" width="13.03" height="1.87" fill="#fbce8d" />
<rect x="92.17" y="96.67" width="13.03" height="1.87" fill="#fbd08f" />
<rect x="105.00" y="96.67" width="13.03" height="1.87" fill="#f9c47f" />
<rect x="117.83" y="96.67" width="13.03" height="1.87" fill="#fcdb9f" />
<rect x="130.67" y="96.67" width="13.03" height="1.87" fill="#fbd192" />
<rect x="28.00" y="98.33" width="13.03" height="1.87" fill="#fdeab7" />
<rect x="40.83" y="98.33" width="13.03" height="1.87" fill="#fdebb9" />
<rect x="53.67" y="98.33" width="13.03" height="1.87" fill="#fdebb9" />
<rect x="66.50" y="98.33" width="13.03" height="1.87" fill="#fbd294" />
<rect x="79.33" y="98.33" width="13.03" height="1.87" fill="#fbd295" />
<rect x="92.17" y="98.33" width="13.03" height="1.87" fill="#fbd192" />
<rect x="105.00" y="98.33" width="13.03" height="1.87" fill="#f9c784" />
<rect x="117.83" y="98.33" width="13.03" height="1.87" fill="#fcdda3" />
<rect x="130.67" y="98.33" width="13.03" height="1.87" fill="#fbd192" />
<rect x="28.00" y="100.00" width="13.03" height="1.70" fill="#fef4cc" />
<rect x="40.83" y="100.00" width="13.03" height="1.70" fill="#fef4cd" />
<rect x="53.67" y="100.00" width="13.03" height="1.70" fill="#fef4cd" />
<rect x="66.50" y="100.00" width="13.03" height="1.70" fill="#fcdca1" />
<rect x="79.33" y="100.00" width="13.03" height="1.70" fill="#fcdb9d" />
<rect x="92.17" y="100.00" width="13.03" height="1.70" fill="#fcdb9d" />
<rect x="105.00" y="100.00" width="13.03" height="1.70" fill="#fbd090" />
<rect x="117.83" y="100.00" width="13.03" height="1.70" fill="#fdeab6" />
<rect x="130.67" y="100.00" width="13.03" height="1.70" fill="#fcdca0" />
<rect x="28.00" y="101.50" width="13.03" height="1.70" fill="#fdecc3" />
<rect x="40.83" y="101.50" width="13.03" height="1.70" fill="#fdebc2" />
<rect x="53.67" y="101.50" width="13.03" height="1.70" fill="#fdecc3" />
<rect x="66.50" y="101.50" width="13.03" height="1.70" fill="#fbd598" />
<rect x="79.33" y="101.50" width="13.03" height="1.70" fill="#fbd699" />
<rect x="92.17" y="101.50" width="13.03" height="1.70" fill="#fbd699" />
<rect x="105.00" y="101.50" width="13.03" height="1.70" fill="#fac889" />
<rect x="117.83" y="101.50" width="13.03" height="1.70" fill="#fce2ad" />
<rect x="130.67" y="101.50" width="13.03" height="1.70" fill="#fbd698" />
<rect x="28.00" y="103.00" width="13.03" height="1.70" fill="#fef3cb" />
<rect x="40.83" y="103.00" width="13.03" height="1.70" fill="#fef4cd" />
<rect x="53.67" y="103.00" width="13.03" height="1.70" fill="#fef4cd" />
<rect x="66.50" y="103.00" width="13.03" height="1.70" fill="#fcd99b" />
<rect x="79.33" y="103.00" width="13.03" height="1.70" fill="#fcda9c" />
<rect x="92.17" y="103.00" width="13.03" height="1.70" fill="#fcd99b" />
<rect x="105.00" y="103.00" width="13.03" height="1.70" fill="#fbce8d" />
<rect x="117.83" y="103.00" width="13.03" height="1.70" fill="#fde9b4" />
<rect x="130.67" y="103.00" width="13.03" height="1.70" fill="#fcd99b" />
<rect x="28.00" y="104.50" width="13.03" height="1.70" fill="#fef4ce" />
<rect x="40.83" y="104.50" width="13.03" height="1.70" fill="#fef4cd" />
<rect x="53.67" y="104.50" width="13.03" height="1.70" fill="#fef5ce" />
<rect x="66.50" y="104.50" width="13.03" height="1.70" fill="#fcdca1" />
<rect x="79.33" y="104.50" width="13.03" height="1.70" fill="#fcdca0" />
<rect x="92.17" y="104.50" width="13.03" height="1.70" fill="#fcdea5" />
<rect x="105.00" y="104.50" width="13.03" height="1.70" fill="#fbd293" />
<rect x="117.83" y="104.50" width="13.03" height="1.70" fill="#fdeab7" />
<rect x="130.67" y="104.50" width="13.03" height="1.70" fill="#fcdda2" />
<rect x="28.00" y="106.00" width="13.03" height="2.20" fill="#fef4cc" />
<rect x="40.83" y="106.00" width="13.03" height="2.20" fill="#fef4cc" />
<rect x="53.67" y="106.00" width="13.03" height="2.20" fill="#bfcccc" />
<rect x="66.50" y="106.00" width="13.03" height="2.20" fill="#fcda9c" />
<rect x="79.33" y="106.00" width="13.03" height="2.20" fill="#fcda9c" />
<rect x="92.17" y="106.00" width="13.03" height="2.20" fill="#fcda9c" />
<rect x="105.00" y="106.00" width="13.03" height="2.20" fill="#fbcf8e" />
<rect x="117.83" y="106.00" width="13.03" height="2.20" fill="#fde9b4" />
<rect x="130.67" y="106.00" width="13.03" height="2.20" fill="#fcda9c" />
<rect x="28.00" y="108.00" width="13.03" height="2.20" fill="#eef3e4" />
<rect x="40.83" y="108.00" width="13.03" height="2.20" fill="#eef3e4" />
<rect x="53.67" y="108.00" width="13.03" height="2.20" fill="#fef4cd" />
<rect x="66.50" y="108.00" width="13.03" height="2.20" fill="#fdeab6" />
<rect x="79.33" y="108.00" width="13.03" height="2.20" fill="#fdebba" />
<rect x="92.17" y="108.00" width="13.03" height="2.20" fill="#fdeab8" />
<rect x="105.00" y="108.00" width="13.03" height="2.20" fill="#fbd498" />
<rect x="117.83" y="108.00" width="13.03" height="2.20" fill="#fdebb9" />
<rect x="130.67" y="108.00" width="13.03" height="2.20" fill="#fdebb9" />
<rect x="28.00" y="110.00" width="13.03" height="2.20" fill="#eef3e4" />
<rect x="40.83" y="110.00" width="13.03" height="2.20" fill="#eef3e4" />
<rect x="53.67" y="110.00" width="13.03" height="2.20" fill="#fdecc3" />
<rect x="66.50" y="110.00" width="13.03" height="2.20" fill="#fbdfaa" />
<rect x="79.33" y="110.00" width="13.03" height="2.20" fill="#fbdfaa" />
<rect x="92.17" y="110.00" width="13.03" height="2.20" fill="#fce3ae" />
<rect x="105.00" y="110.00" width="13.03" height="2.20" fill="#fac888" />
<rect x="117.83" y="110.00" width="13.03" height="2.20" fill="#fce2ad" />
<rect x="130.67" y="110.00" width="13.03" height="2.20" fill="#fce1ac" />
<rect x="28.00" y="112.00" width="13.03" height="2.20" fill="#bfcccc" />
<rect x="40.83" y="112.00" width="13.03" height="2.20" fill="#bfcccc" />
<rect x="53.67" y="112.00" width="13.03" height="2.20" fill="#fef4cc" />
<rect x="66.50" y="112.00" width="13.03" height="2.20" fill="#fde9b4" />
<rect x="79.33" y="112.00" width="13.03" height="2.20" fill="#fde9b4" />
<rect x="92.17" y="112.00" width="13.03" height="2.20" fill="#fde9b4" />
<rect x="105.00" y="112.00" width="13.03" height="2.20" fill="#fbcf8e" />
<rect x="117.83" y="112.00" width="13.03" height="2.20" fill="#fde9b4" />
<rect x="130.67" y="112.00" width="13.03" height="2.20" fill="#fde9b4" />
<rect x="28.00" y="114.00" width="13.03" height="2.03" fill="#fdeab8" />
<rect x="40.83" y="114.00" width="13.03" height="2.03" fill="#fdeab6" />
<rect x="53.67" y="114.00" width="13.03" height="2.03" fill="#fdeab7" />
<rect x="66.50" y="114.00" width="13.03" height="2.03" fill="#fcdca1" />
<rect x="79.33" y="114.00" width="13.03" height="2.03" fill="#fdeab6" />
<rect x="92.17" y="114.00" width="13.03" height="2.03" fill="#fdeab6" />
<rect x="105.00" y="114.00" width="13.03" height="2.03" fill="#fbd191" />
<rect x="117.83" y="114.00" width="13.03" height="2.03" fill="#fdeab6" />
<rect x="130.67" y="114.00" width="13.03" height="2.03" fill="#fbd08f" />
<rect x="28.00" y="115.83" width="13.03" height="2.03" fill="#fde9b4" />
<rect x="40.83" y="115.83" width="13.03" height="2.03" fill="#fde7b2" />
<rect x="53.67" y="115.83" width="13.03" height="2.03" fill="#fde7b2" />
<rect x="66.50" y="115.83" width="13.03" height="2.03" fill="#fcd89a" />
<rect x="79.33" y="115.83" width="13.03" height="2.03" fill="#fde9b4" />
<rect x="92.17" y="115.83" width="13.03" height="2.03" fill="#fde9b5" />
<rect x="105.00" y="115.83" width="13.03" height="2.03" fill="#fbcf8f" />
<rect x="117.83" y="115.83" width="13.03" height="2.03" fill="#fde9b4" />
<rect x="130.67" y="115.83" width="13.03" height="2.03" fill="#fbcf8e" />
<rect x="28.00" y="117.67" width="13.03" height="2.03" fill="#fce3ae" />
<rect x="40.83" y="117.67" width="13.03" height="2.03" fill="#fce1ad" />
<rect x="53.67" y="117.67" width="13.03" height="2.03" fill="#fce2ae" />
<rect x="66.50" y="117.67" width="13.03" height="2.03" fill="#fbd295" />
<rect x="79.33" y="117.67" width="13.03" height="2.03" fill="#fce3ae" />
<rect x="92.17" y="117.67" width="13.03" height="2.03" fill="#fce0ab" />
<rect x="105.00" y="117.67" width="13.03" height="2.03" fill="#facb8b" />
<rect x="117.83" y="117.67" width="13.03" height="2.03" fill="#fce2ae" />
<rect x="130.67" y="117.67" width="13.03" height="2.03" fill="#fac989" />
<rect x="28.00" y="119.50" width="13.03" height="1.00" fill="#ddedf2" />
<rect x="40.83" y="119.50" width="13.03" height="1.00" fill="#ddedf2" />
<rect x="53.67" y="119.50" width="13.03" height="1.00" fill="#ddedf2" />
<rect x="66.50" y="119.50" width="13.03" height="1.00" fill="#ddedf2" />
<rect x="79.33" y="119.50" width="13.03" height="1.00" fill="#ddedf2" />
<rect x="92.17" y="119.50" width="13.03" height="1.00" fill="#eef3e4" />
<rect x="105.00" y="119.50" width="13.03" height="1.00" fill="#eef3e4" />
<rect x="117.83" y="119.50" width="13.03" height="1.00" fill="#ddedf2" />
<rect x="130.67" y="119.50" width="13.03" height="1.00" fill="#ddedf2" />
<rect x="28.00" y="120.30" width="13.03" height="1.65" fill="#2e3f9e" />
<rect x="40.83" y="120.30" width="13.03" height="1.65" fill="#4b63b5" />
<rect x="53.67" y="120.30" width="13.03" height="1.65" fill="#2e3f9e" />
<rect x="66.50" y="120.30" width="13.03" height="1.65" fill="#ddedf2" />
<rect x="79.33" y="120.30" width="13.03" height="1.65" fill="#2e3f9e" />
<rect x="92.17" y="120.30" width="13.03" height="1.65" fill="#bbd5ea" />
<rect x="105.00" y="120.30" width="13.03" height="1.65" fill="#eef3e4" />
<rect x="117.83" y="120.30" width="13.03" height="1.65" fill="#bbd5ea" />
<rect x="130.67" y="120.30" width="13.03" height="1.65" fill="#bbd5ea" />
<rect x="28.00" y="121.75" width="13.03" height="1.65" fill="#2e3f9e" />
<rect x="40.83" y="121.75" width="13.03" height="1.65" fill="#4b63b5" />
<rect x="53.67" y="121.75" width="13.03" height="1.65" fill="#2e3f9e" />
<rect x="66.50" y="121.75" width="13.03" height="1.65" fill="#ddedf2" />
<rect x="79.33" y="121.75" width="13.03" height="1.65" fill="#2e3f9e" />
<rect x="92.17" y="121.75" width="13.03" height="1.65" fill="#bbd5ea" />
<rect x="105.00" y="121.75" width="13.03" height="1.65" fill="#eef3e4" />
<rect x="117.83" y="121.75" width="13.03" height="1.65" fill="#bbd5ea" />
<rect x="130.67" y="121.75" width="13.03" height="1.65" fill="#bbd5ea" />
<rect x="28.00" y="123.20" width="13.03" height="1.30" fill="#2e3f9e" />
<rect x="40.83" y="123.20" width="13.03" height="1.30" fill="#4b63b5" />
<rect x="53.67" y="123.20" width="13.03" height="1.30" fill="#2e3f9e" />
<rect x="66.50" y="123.20" width="13.03" height="1.30" fill="#bbd5ea" />
<rect x="79.33" y="123.20" width="13.03" height="1.30" fill="#bbd5ea" />
<rect x="92.17" y="123.20" width="13.03" height="1.30" fill="#bbd5ea" />
<rect x="105.00" y="123.20" width="13.03" height="1.30" fill="#ddedf2" />
<rect x="117.83" y="123.20" width="13.03" height="1.30" fill="#7f98cd" />
<rect x="130.67" y="123.20" width="13.03" height="1.30" fill="#bbd5ea" />
<rect x="28.00" y="124.30" width="13.03" height="1.90" fill="#7f98cd" />
<rect x="40.83" y="124.30" width="13.03" height="1.90" fill="#bbd5ea" />
<rect x="53.67" y="124.30" width="13.03" height="1.90" fill="#7f98cd" />
<rect x="66.50" y="124.30" width="13.03" height="1.90" fill="#bbd5ea" />
<rect x="79.33" y="124.30" width="13.03" height="1.90" fill="#bbd5ea" />
<rect x="92.17" y="124.30" width="13.03" height="1.90" fill="#bbd5ea" />
<rect x="105.00" y="124.30" width="13.03" height="1.90" fill="#ddedf2" />
<rect x="117.83" y="124.30" width="13.03" height="1.90" fill="#7f98cd" />
<rect x="130.67" y="124.30" width="13.03" height="1.90" fill="#bbd5ea" />
<rect x="28.00" y="126.00" width="13.03" height="1.20" fill="#ddedf2" />
<rect x="40.83" y="126.00" width="13.03" height="1.20" fill="#ddedf2" />
<rect x="53.67" y="126.00" width="13.03" height="1.20" fill="#ddedf2" />
<rect x="66.50" y="126.00" width="13.03" height="1.20" fill="#bbd5ea" />
<rect x="79.33" y="126.00" width="13.03" height="1.20" fill="#bbd5ea" />
<rect x="92.17" y="126.00" width="13.03" height="1.20" fill="#bbd5ea" />
<rect x="105.00" y="126.00" width="13.03" height="1.20" fill="#ddedf2" />
<rect x="117.83" y="126.00" width="13.03" height="1.20" fill="#7f98cd" />
<rect x="130.67" y="126.00" width="13.03" height="1.20" fill="#bbd5ea" />
<rect x="28.00" y="127.00" width="13.03" height="2.20" fill="#ddedf2" />
<rect x="40.83" y="127.00" width="13.03" height="2.20" fill="#ddedf2" />
<rect x="53.67" y="127.00" width="13.03" height="2.20" fill="#ddedf2" />
<rect x="66.50" y="127.00" width="13.03" height="2.20" fill="#ddedf2" />
<rect x="79.33" y="127.00" width="13.03" height="2.20" fill="#2e3f9e" />
<rect x="92.17" y="127.00" width="13.03" height="2.20" fill="#2e3f9e" />
<rect x="105.00" y="127.00" width="13.03" height="2.20" fill="#ddedf2" />
<rect x="117.83" y="127.00" width="13.03" height="2.20" fill="#4b63b5" />
<rect x="130.67" y="127.00" width="13.03" height="2.20" fill="#ddedf2" />
<rect x="28.00" y="129.00" width="13.03" height="2.00" fill="#2e3f9e" />
<rect x="40.83" y="129.00" width="13.03" height="2.00" fill="#2e3f9e" />
<rect x="53.67" y="129.00" width="13.03" height="2.00" fill="#2e3f9e" />
<rect x="66.50" y="129.00" width="13.03" height="2.00" fill="#2e3f9e" />
<rect x="79.33" y="129.00" width="13.03" height="2.00" fill="#2e3f9e" />
<rect x="92.17" y="129.00" width="13.03" height="2.00" fill="#2e3f9e" />
<rect x="105.00" y="129.00" width="13.03" height="2.00" fill="#ddedf2" />
<rect x="117.83" y="129.00" width="13.03" height="2.00" fill="#4b63b5" />
<rect x="130.67" y="129.00" width="13.03" height="2.00" fill="#ddedf2" />
<rect x="28.00" y="130.80" width="13.03" height="2.40" fill="#7f98cd" />
<rect x="40.83" y="130.80" width="13.03" height="2.40" fill="#7f98cd" />
<rect x="53.67" y="130.80" width="13.03" height="2.40" fill="#7f98cd" />
<rect x="66.50" y="130.80" width="13.03" height="2.40" fill="#2e3f9e" />
<rect x="79.33" y="130.80" width="13.03" height="2.40" fill="#7f98cd" />
<rect x="92.17" y="130.80" width="13.03" height="2.40" fill="#bbd5ea" />
<rect x="105.00" y="130.80" width="13.03" height="2.40" fill="#ddedf2" />
<rect x="117.83" y="130.80" width="13.03" height="2.40" fill="#bbd5ea" />
<rect x="130.67" y="130.80" width="13.03" height="2.40" fill="#ddedf2" />
<rect x="28.00" y="133.00" width="13.03" height="2.40" fill="#eef3e4" />
<rect x="40.83" y="133.00" width="13.03" height="2.40" fill="#7f98cd" />
<rect x="53.67" y="133.00" width="13.03" height="2.40" fill="#7f98cd" />
<rect x="66.50" y="133.00" width="13.03" height="2.40" fill="#2e3f9e" />
<rect x="79.33" y="133.00" width="13.03" height="2.40" fill="#4b63b5" />
<rect x="92.17" y="133.00" width="13.03" height="2.40" fill="#7f98cd" />
<rect x="105.00" y="133.00" width="13.03" height="2.40" fill="#2e3f9e" />
<rect x="117.83" y="133.00" width="13.03" height="2.40" fill="#4b63b5" />
<rect x="130.67" y="133.00" width="13.03" height="2.40" fill="#2e3f9e" />
<rect x="28.00" y="135.20" width="13.03" height="1.80" fill="#fde9b4" />
<rect x="40.83" y="135.20" width="13.03" height="1.80" fill="#2e3f9e" />
<rect x="53.67" y="135.20" width="13.03" height="1.80" fill="#ddedf2" />
<rect x="66.50" y="135.20" width="13.03" height="1.80" fill="#7f98cd" />
<rect x="79.33" y="135.20" width="13.03" height="1.80" fill="#4b63b5" />
<rect x="92.17" y="135.20" width="13.03" height="1.80" fill="#7f98cd" />
<rect x="105.00" y="135.20" width="13.03" height="1.80" fill="#2e3f9e" />
<rect x="117.83" y="135.20" width="13.03" height="1.80" fill="#4b63b5" />
<rect x="130.67" y="135.20" width="13.03" height="1.80" fill="#2e3f9e" />
<rect x="28.00" y="136.80" width="13.03" height="0.80" fill="#fde9b4" />
<rect x="40.83" y="136.80" width="13.03" height="0.80" fill="#2e3f9e" />
<rect x="53.67" y="136.80" width="13.03" height="0.80" fill="#ddedf2" />
<rect x="66.50" y="136.80" width="13.03" height="0.80" fill="#7f98cd" />
<rect x="79.33" y="136.80" width="13.03" height="0.80" fill="#2e3f9e" />
<rect x="92.17" y="136.80" width="13.03" height="0.80" fill="#2e3f9e" />
<rect x="105.00" y="136.80" width="13.03" height="0.80" fill="#7f98cd" />
<rect x="117.83" y="136.80" width="13.03" height="0.80" fill="#7f98cd" />
<rect x="130.67" y="136.80" width="13.03" height="0.80" fill="#7f98cd" />
<rect x="28.00" y="137.40" width="13.03" height="1.30" fill="#ddedf2" />
<rect x="40.83" y="137.40" width="13.03" height="1.30" fill="#ddedf2" />
<rect x="53.67" y="137.40" width="13.03" height="1.30" fill="#ddedf2" />
<rect x="66.50" y="137.40" width="13.03" height="1.30" fill="#bbd5ea" />
<rect x="79.33" y="137.40" width="13.03" height="1.30" fill="#2e3f9e" />
<rect x="92.17" y="137.40" width="13.03" height="1.30" fill="#2e3f9e" />
<rect x="105.00" y="137.40" width="13.03" height="1.30" fill="#7f98cd" />
<rect x="117.83" y="137.40" width="13.03" height="1.30" fill="#7f98cd" />
<rect x="130.67" y="137.40" width="13.03" height="1.30" fill="#7f98cd" />
<rect x="28.00" y="138.50" width="13.03" height="1.20" fill="#ddedf2" />
<rect x="40.83" y="138.50" width="13.03" height="1.20" fill="#ddedf2" />
<rect x="53.67" y="138.50" width="13.03" height="1.20" fill="#ddedf2" />
<rect x="66.50" y="138.50" width="13.03" height="1.20" fill="#bbd5ea" />
<rect x="79.33" y="138.50" width="13.03" height="1.20" fill="#ddedf2" />
<rect x="92.17" y="138.50" width="13.03" height="1.20" fill="#ddedf2" />
<rect x="105.00" y="138.50" width="13.03" height="1.20" fill="#7f98cd" />
<rect x="117.83" y="138.50" width="13.03" height="1.20" fill="#2e3f9e" />
<rect x="130.67" y="138.50" width="13.03" height="1.20" fill="#7f98cd" />
<rect x="28.00" y="139.50" width="13.03" height="2.40" fill="#2e3f9e" />
<rect x="40.83" y="139.50" width="13.03" height="2.40" fill="#2e3f9e" />
<rect x="53.67" y="139.50" width="13.03" height="2.40" fill="#2e3f9e" />
<rect x="66.50" y="139.50" width="13.03" height="2.40" fill="#ddedf2" />
<rect x="79.33" y="139.50" width="13.03" height="2.40" fill="#ddedf2" />
<rect x="92.17" y="139.50" width="13.03" height="2.40" fill="#ddedf2" />
<rect x="105.00" y="139.50" width="13.03" height="2.40" fill="#7f98cd" />
<rect x="117.83" y="139.50" width="13.03" height="2.40" fill="#2e3f9e" />
<rect x="130.67" y="139.50" width="13.03" height="2.40" fill="#bbd5ea" />
<rect x="28.00" y="141.70" width="13.03" height="1.30" fill="#2e3f9e" />
<rect x="40.83" y="141.70" width="13.03" height="1.30" fill="#2e3f9e" />
<rect x="53.67" y="141.70" width="13.03" height="1.30" fill="#2e3f9e" />
<rect x="66.50" y="141.70" width="13.03" height="1.30" fill="#ddedf2" />
<rect x="79.33" y="141.70" width="13.03" height="1.30" fill="#ddedf2" />
<rect x="92.17" y="141.70" width="13.03" height="1.30" fill="#ddedf2" />
<rect x="105.00" y="141.70" width="13.03" height="1.30" fill="#ddedf2" />
<rect x="117.83" y="141.70" width="13.03" height="1.30" fill="#ddedf2" />
<rect x="130.67" y="141.70" width="13.03" height="1.30" fill="#ddedf2" />
<rect x="28.00" y="142.80" width="13.03" height="1.30" fill="#2e3f9e" />
<rect x="40.83" y="142.80" width="13.03" height="1.30" fill="#ddedf2" />
<rect x="53.67" y="142.80" width="13.03" height="1.30" fill="#2e3f9e" />
<rect x="66.50" y="142.80" width="13.03" height="1.30" fill="#ddedf2" />
<rect x="79.33" y="142.80" width="13.03" height="1.30" fill="#ddedf2" />
<rect x="92.17" y="142.80" width="13.03" height="1.30" fill="#ddedf2" />
<rect x="105.00" y="142.80" width="13.03" height="1.30" fill="#ddedf2" />
<rect x="117.83" y="142.80" width="13.03" height="1.30" fill="#ddedf2" />
<rect x="130.67" y="142.80" width="13.03" height="1.30" fill="#ddedf2" />
<rect x="28.00" y="143.90" width="13.03" height="1.55" fill="#2e3f9e" />
<rect x="40.83" y="143.90" width="13.03" height="1.55" fill="#ddedf2" />
<rect x="53.67" y="143.90" width="13.03" height="1.55" fill="#2e3f9e" />
<rect x="66.50" y="143.90" width="13.03" height="1.55" fill="#ddedf2" />
<rect x="79.33" y="143.90" width="13.03" height="1.55" fill="#4b63b5" />
<rect x="92.17" y="143.90" width="13.03" height="1.55" fill="#ddedf2" />
<rect x="105.00" y="143.90" width="13.03" height="1.55" fill="#eef3e4" />
<rect x="117.83" y="143.90" width="13.03" height="1.55" fill="#bbd5ea" />
<rect x="130.67" y="143.90" width="13.03" height="1.55" fill="#eef3e4" />
<rect x="28.00" y="145.25" width="13.03" height="1.55" fill="#2e3f9e" />
<rect x="40.83" y="145.25" width="13.03" height="1.55" fill="#ddedf2" />
<rect x="53.67" y="145.25" width="13.03" height="1.55" fill="#2e3f9e" />
<rect x="66.50" y="145.25" width="13.03" height="1.55" fill="#ddedf2" />
<rect x="79.33" y="145.25" width="13.03" height="1.55" fill="#4b63b5" />
<rect x="92.17" y="145.25" width="13.03" height="1.55" fill="#ddedf2" />
<rect x="105.00" y="145.25" width="13.03" height="1.55" fill="#eef3e4" />
<rect x="117.83" y="145.25" width="13.03" height="1.55" fill="#bbd5ea" />
<rect x="130.67" y="145.25" width="13.03" height="1.55" fill="#eef3e4" />
<rect x="28.00" y="146.60" width="13.03" height="0.80" fill="#7f98cd" />
<rect x="40.83" y="146.60" width="13.03" height="0.80" fill="#2e3f9e" />
<rect x="53.67" y="146.60" width="13.03" height="0.80" fill="#2e3f9e" />
<rect x="66.50" y="146.60" width="13.03" height="0.80" fill="#ddedf2" />
<rect x="79.33" y="146.60" width="13.03" height="0.80" fill="#4b63b5" />
<rect x="92.17" y="146.60" width="13.03" height="0.80" fill="#ddedf2" />
<rect x="105.00" y="146.60" width="13.03" height="0.80" fill="#eef3e4" />
<rect x="117.83" y="146.60" width="13.03" height="0.80" fill="#bbd5ea" />
<rect x="130.67" y="146.60" width="13.03" height="0.80" fill="#eef3e4" />
<rect x="28.00" y="147.20" width="13.03" height="1.80" fill="#7f98cd" />
<rect x="40.83" y="147.20" width="13.03" height="1.80" fill="#2e3f9e" />
<rect x="53.67" y="147.20" width="13.03" height="1.80" fill="#2e3f9e" />
<rect x="66.50" y="147.20" width="13.03" height="1.80" fill="#ddedf2" />
<rect x="79.33" y="147.20" width="13.03" height="1.80" fill="#7f98cd" />
<rect x="92.17" y="147.20" width="13.03" height="1.80" fill="#ddedf2" />
<rect x="105.00" y="147.20" width="13.03" height="1.80" fill="#fde9b4" />
<rect x="117.83" y="147.20" width="13.03" height="1.80" fill="#bbd5ea" />
<rect x="130.67" y="147.20" width="13.03" height="1.80" fill="#ddedf2" />
<rect x="28.00" y="148.80" width="13.03" height="2.40" fill="#ddedf2" />
<rect x="40.83" y="148.80" width="13.03" height="2.40" fill="#ddedf2" />
<rect x="53.67" y="148.80" width="13.03" height="2.40" fill="#7f98cd" />
<rect x="66.50" y="148.80" width="13.03" height="2.40" fill="#ddedf2" />
<rect x="79.33" y="148.80" width="13.03" height="2.40" fill="#7f98cd" />
<rect x="92.17" y="148.80" width="13.03" height="2.40" fill="#ddedf2" />
<rect x="105.00" y="148.80" width="13.03" height="2.40" fill="#fde9b4" />
<rect x="117.83" y="148.80" width="13.03" height="2.40" fill="#bbd5ea" />
<rect x="130.67" y="148.80" width="13.03" height="2.40" fill="#ddedf2" />
<rect x="28.00" y="151.00" width="13.03" height="1.70" fill="#bbd5ea" />
<rect x="40.83" y="151.00" width="13.03" height="1.70" fill="#2e3f9e" />
<rect x="53.67" y="151.00" width="13.03" height="1.70" fill="#2e3f9e" />
<rect x="66.50" y="151.00" width="13.03" height="1.70" fill="#bbd5ea" />
<rect x="79.33" y="151.00" width="13.03" height="1.70" fill="#bbd5ea" />
<rect x="92.17" y="151.00" width="13.03" height="1.70" fill="#ddedf2" />
<rect x="105.00" y="151.00" width="13.03" height="1.70" fill="#fde9b4" />
<rect x="117.83" y="151.00" width="13.03" height="1.70" fill="#bbd5ea" />
<rect x="130.67" y="151.00" width="13.03" height="1.70" fill="#eef3e4" />
<rect x="28.00" y="152.50" width="13.03" height="2.50" fill="#bbd5ea" />
<rect x="40.83" y="152.50" width="13.03" height="2.50" fill="#2e3f9e" />
<rect x="53.67" y="152.50" width="13.03" height="2.50" fill="#2e3f9e" />
<rect x="66.50" y="152.50" width="13.03" height="2.50" fill="#bbd5ea" />
<rect x="79.33" y="152.50" width="13.03" height="2.50" fill="#bbd5ea" />
<rect x="92.17" y="152.50" width="13.03" height="2.50" fill="#7f98cd" />
<rect x="105.00" y="152.50" width="13.03" height="2.50" fill="#fde9b4" />
<rect x="117.83" y="152.50" width="13.03" height="2.50" fill="#7f98cd" />
<rect x="130.67" y="152.50" width="13.03" height="2.50" fill="#eef3e4" />
<rect x="28.00" y="154.80" width="13.03" height="0.40" fill="#ddedf2" />
<rect x="40.83" y="154.80" width="13.03" height="0.40" fill="#ddedf2" />
<rect x="53.67" y="154.80" width="13.03" height="0.40" fill="#ddedf2" />
<rect x="66.50" y="154.80" width="13.03" height="0.40" fill="#7f98cd" />
<rect x="79.33" y="154.80" width="13.03" height="0.40" fill="#ddedf2" />
<rect x="92.17" y="154.80" width="13.03" height="0.40" fill="#ddedf2" />
<rect x="105.00" y="154.80" width="13.03" height="0.40" fill="#fde9b4" />
<rect x="117.83" y="154.80" width="13.03" height="0.40" fill="#bbd5ea" />
<rect x="130.67" y="154.80" width="13.03" height="0.40" fill="#eef3e4" />
<rect x="28.00" y="155.00" width="13.03" height="1.20" fill="#ddedf2" />
<rect x="40.83" y="155.00" width="13.03" height="1.20" fill="#4b63b5" />
<rect x="53.67" y="155.00" width="13.03" height="1.20" fill="#ddedf2" />
<rect x="66.50" y="155.00" width="13.03" height="1.20" fill="#ddedf2" />
<rect x="79.33" y="155.00" width="13.03" height="1.20" fill="#ddedf2" />
<rect x="92.17" y="155.00" width="13.03" height="1.20" fill="#ddedf2" />
<rect x="105.00" y="155.00" width="13.03" height="1.20" fill="#fde9b4" />
<rect x="117.83" y="155.00" width="13.03" height="1.20" fill="#7f98cd" />
<rect x="130.67" y="155.00" width="13.03" height="1.20" fill="#ddedf2" />
<rect x="28.00" y="156.00" width="13.03" height="1.90" fill="#bbd5ea" />
<rect x="40.83" y="156.00" width="13.03" height="1.90" fill="#ddedf2" />
<rect x="53.67" y="156.00" width="13.03" height="1.90" fill="#bbd5ea" />
<rect x="66.50" y="156.00" width="13.03" height="1.90" fill="#eef3e4" />
<rect x="79.33" y="156.00" width="13.03" height="1.90" fill="#bbd5ea" />
<rect x="92.17" y="156.00" width="13.03" height="1.90" fill="#ddedf2" />
<rect x="105.00" y="156.00" width="13.03" height="1.90" fill="#fde9b4" />
<rect x="117.83" y="156.00" width="13.03" height="1.90" fill="#bbd5ea" />
<rect x="130.67" y="156.00" width="13.03" height="1.90" fill="#ddedf2" />
<rect x="28.00" y="157.70" width="13.03" height="2.10" fill="#bbd5ea" />
<rect x="40.83" y="157.70" width="13.03" height="2.10" fill="#bbd5ea" />
<rect x="53.67" y="157.70" width="13.03" height="2.10" fill="#bbd5ea" />
<rect x="66.50" y="157.70" width="13.03" height="2.10" fill="#eef3e4" />
<rect x="79.33" y="157.70" width="13.03" height="2.10" fill="#ddedf2" />
<rect x="92.17" y="157.70" width="13.03" height="2.10" fill="#ddedf2" />
<rect x="105.00" y="157.70" width="13.03" height="2.10" fill="#fce1ac" />
<rect x="117.83" y="157.70" width="13.03" height="2.10" fill="#bbd5ea" />
<rect x="130.67" y="157.70" width="13.03" height="2.10" fill="#ddedf2" />
<rect x="28.00" y="159.60" width="13.03" height="2.10" fill="#bbd5ea" />
<rect x="40.83" y="159.60" width="13.03" height="2.10" fill="#bbd5ea" />
<rect x="53.67" y="159.60" width="13.03" height="2.10" fill="#bbd5ea" />
<rect x="66.50" y="159.60" width="13.03" height="2.10" fill="#eef3e4" />
<rect x="79.33" y="159.60" width="13.03" height="2.10" fill="#ddedf2" />
<rect x="92.17" y="159.60" width="13.03" height="2.10" fill="#ddedf2" />
<rect x="105.00" y="159.60" width="13.03" height="2.10" fill="#fce3ae" />
<rect x="117.83" y="159.60" width="13.03" height="2.10" fill="#bbd5ea" />
<rect x="130.67" y="159.60" width="13.03" height="2.10" fill="#ddedf2" />
<rect x="28.00" y="161.50" width="13.03" height="2.40" fill="#ddedf2" />
<rect x="40.83" y="161.50" width="13.03" height="2.40" fill="#bbd5ea" />
<rect x="53.67" y="161.50" width="13.03" height="2.40" fill="#ddedf2" />
<rect x="66.50" y="161.50" width="13.03" height="2.40" fill="#fde9b4" />
<rect x="79.33" y="161.50" width="13.03" height="2.40" fill="#7f98cd" />
<rect x="92.17" y="161.50" width="13.03" height="2.40" fill="#fde9b4" />
<rect x="105.00" y="161.50" width="13.03" height="2.40" fill="#fde9b4" />
<rect x="117.83" y="161.50" width="13.03" height="2.40" fill="#bbd5ea" />
<rect x="130.67" y="161.50" width="13.03" height="2.40" fill="#fde9b4" />
<rect x="28.00" y="163.70" width="13.03" height="2.00" fill="#ddedf2" />
<rect x="40.83" y="163.70" width="13.03" height="2.00" fill="#ddedf2" />
<rect x="53.67" y="163.70" width="13.03" height="2.00" fill="#ddedf2" />
<rect x="66.50" y="163.70" width="13.03" height="2.00" fill="#fde9b4" />
<rect x="79.33" y="163.70" width="13.03" height="2.00" fill="#ddedf2" />
<rect x="92.17" y="163.70" width="13.03" height="2.00" fill="#fde9b4" />
<rect x="105.00" y="163.70" width="13.03" height="2.00" fill="#fde9b4" />
<rect x="117.83" y="163.70" width="13.03" height="2.00" fill="#7f98cd" />
<rect x="130.67" y="163.70" width="13.03" height="2.00" fill="#fde9b4" />
<rect x="28.00" y="165.50" width="13.03" height="1.20" fill="#4b63b5" />
<rect x="40.83" y="165.50" width="13.03" height="1.20" fill="#7f98cd" />
<rect x="53.67" y="165.50" width="13.03" height="1.20" fill="#ddedf2" />
<rect x="66.50" y="165.50" width="13.03" height="1.20" fill="#fde9b4" />
<rect x="79.33" y="165.50" width="13.03" height="1.20" fill="#ddedf2" />
<rect x="92.17" y="165.50" width="13.03" height="1.20" fill="#fde9b4" />
<rect x="105.00" y="165.50" width="13.03" height="1.20" fill="#fde9b4" />
<rect x="117.83" y="165.50" width="13.03" height="1.20" fill="#ddedf2" />
<rect x="130.67" y="165.50" width="13.03" height="1.20" fill="#fde9b4" />
<rect x="28.00" y="166.50" width="13.03" height="1.70" fill="#eef3e4" />
<rect x="40.83" y="166.50" width="13.03" height="1.70" fill="#fde8b3" />
<rect x="53.67" y="166.50" width="13.03" height="1.70" fill="#eef3e4" />
<rect x="66.50" y="166.50" width="13.03" height="1.70" fill="#fde6b1" />
<rect x="79.33" y="166.50" width="13.03" height="1.70" fill="#fde8b3" />
<rect x="92.17" y="166.50" width="13.03" height="1.70" fill="#fde7b2" />
<rect x="105.00" y="166.50" width="13.03" height="1.70" fill="#fbcd8c" />
<rect x="117.83" y="166.50" width="13.03" height="1.70" fill="#ddedf2" />
<rect x="130.67" y="166.50" width="13.03" height="1.70" fill="#fbce8d" />
<rect x="28.00" y="168.00" width="13.03" height="1.70" fill="#eef3e4" />
<rect x="40.83" y="168.00" width="13.03" height="1.70" fill="#fdeab6" />
<rect x="53.67" y="168.00" width="13.03" height="1.70" fill="#eef3e4" />
<rect x="66.50" y="168.00" width="13.03" height="1.70" fill="#fdeab7" />
<rect x="79.33" y="168.00" width="13.03" height="1.70" fill="#fdeab7" />
<rect x="92.17" y="168.00" width="13.03" height="1.70" fill="#fde9b5" />
<rect x="105.00" y="168.00" width="13.03" height="1.70" fill="#fbd090" />
<rect x="117.83" y="168.00" width="13.03" height="1.70" fill="#ddedf2" />
<rect x="130.67" y="168.00" width="13.03" height="1.70" fill="#fbd091" />
<rect x="28.00" y="169.50" width="13.03" height="1.70" fill="#eef3e4" />
<rect x="40.83" y="169.50" width="13.03" height="1.70" fill="#fde9b5" />
<rect x="53.67" y="169.50" width="13.03" height="1.70" fill="#eef3e4" />
<rect x="66.50" y="169.50" width="13.03" height="1.70" fill="#fdeab5" />
<rect x="79.33" y="169.50" width="13.03" height="1.70" fill="#fde9b4" />
<rect x="92.17" y="169.50" width="13.03" height="1.70" fill="#fde9b4" />
<rect x="105.00" y="169.50" width="13.03" height="1.70" fill="#fbcf8e" />
<rect x="117.83" y="169.50" width="13.03" height="1.70" fill="#ddedf2" />
<rect x="130.67" y="169.50" width="13.03" height="1.70" fill="#fbd192" />
<rect x="28.00" y="171.00" width="13.03" height="1.70" fill="#eef3e4" />
<rect x="40.83" y="171.00" width="13.03" height="1.70" fill="#fdeab6" />
<rect x="53.67" y="171.00" width="13.03" height="1.70" fill="#eef3e4" />
<rect x="66.50" y="171.00" width="13.03" height="1.70" fill="#fdeab8" />
<rect x="79.33" y="171.00" width="13.03" height="1.70" fill="#fde9b5" />
<rect x="92.17" y="171.00" width="13.03" height="1.70" fill="#fde9b5" />
<rect x="105.00" y="171.00" width="13.03" height="1.70" fill="#fbd192" />
<rect x="117.83" y="171.00" width="13.03" height="1.70" fill="#ddedf2" />
<rect x="130.67" y="171.00" width="13.03" height="1.70" fill="#fbd294" />
<rect x="28.00" y="172.50" width="13.03" height="2.30" fill="#7f98cd" />
<rect x="40.83" y="172.50" width="13.03" height="2.30" fill="#4b63b5" />
<rect x="53.67" y="172.50" width="13.03" height="2.30" fill="#ddedf2" />
<rect x="66.50" y="172.50" width="13.03" height="2.30" fill="#fde9b4" />
<rect x="79.33" y="172.50" width="13.03" height="2.30" fill="#ddedf2" />
<rect x="92.17" y="172.50" width="13.03" height="2.30" fill="#fde9b4" />
<rect x="105.00" y="172.50" width="13.03" height="2.30" fill="#fbcf8e" />
<rect x="117.83" y="172.50" width="13.03" height="2.30" fill="#ddedf2" />
<rect x="130.67" y="172.50" width="13.03" height="2.30" fill="#fde9b4" />
<rect x="28.00" y="174.60" width="13.03" height="1.10" fill="#ddedf2" />
<rect x="40.83" y="174.60" width="13.03" height="1.10" fill="#ddedf2" />
<rect x="53.67" y="174.60" width="13.03" height="1.10" fill="#4b63b5" />
<rect x="66.50" y="174.60" width="13.03" height="1.10" fill="#fde9b4" />
<rect x="79.33" y="174.60" width="13.03" height="1.10" fill="#ddedf2" />
<rect x="92.17" y="174.60" width="13.03" height="1.10" fill="#fde9b4" />
<rect x="105.00" y="174.60" width="13.03" height="1.10" fill="#fbcf8e" />
<rect x="117.83" y="174.60" width="13.03" height="1.10" fill="#ddedf2" />
<rect x="130.67" y="174.60" width="13.03" height="1.10" fill="#fde9b4" />
<rect x="28.00" y="175.50" width="13.03" height="1.50" fill="#ddedf2" />
<rect x="40.83" y="175.50" width="13.03" height="1.50" fill="#ddedf2" />
<rect x="53.67" y="175.50" width="13.03" height="1.50" fill="#ddedf2" />
<rect x="66.50" y="175.50" width="13.03" height="1.50" fill="#4b63b5" />
<rect x="79.33" y="175.50" width="13.03" height="1.50" fill="#7f98cd" />
<rect x="92.17" y="175.50" width="13.03" height="1.50" fill="#4b63b5" />
<rect x="105.00" y="175.50" width="13.03" height="1.50" fill="#ddedf2" />
<rect x="117.83" y="175.50" width="13.03" height="1.50" fill="#ddedf2" />
<rect x="130.67" y="175.50" width="13.03" height="1.50" fill="#7f98cd" />
<rect x="28.00" y="176.80" width="13.03" height="2.40" fill="#ddedf2" />
<rect x="40.83" y="176.80" width="13.03" height="2.40" fill="#ddedf2" />
<rect x="53.67" y="176.80" width="13.03" height="2.40" fill="#ddedf2" />
<rect x="66.50" y="176.80" width="13.03" height="2.40" fill="#fde9b4" />
<rect x="79.33" y="176.80" width="13.03" height="2.40" fill="#ddedf2" />
<rect x="92.17" y="176.80" width="13.03" height="2.40" fill="#ddedf2" />
<rect x="105.00" y="176.80" width="13.03" height="2.40" fill="#fde9b4" />
<rect x="117.83" y="176.80" width="13.03" height="2.40" fill="#ddedf2" />
<rect x="130.67" y="176.80" width="13.03" height="2.40" fill="#fde9b4" />
<rect x="28.00" y="179.00" width="13.03" height="1.20" fill="#ddedf2" />
<rect x="40.83" y="179.00" width="13.03" height="1.20" fill="#ddedf2" />
<rect x="53.67" y="179.00" width="13.03" height="1.20" fill="#ddedf2" />
<rect x="66.50" y="179.00" width="13.03" height="1.20" fill="#fde9b4" />
<rect x="79.33" y="179.00" width="13.03" height="1.20" fill="#ddedf2" />
<rect x="92.17" y="179.00" width="13.03" height="1.20" fill="#ddedf2" />
<rect x="105.00" y="179.00" width="13.03" height="1.20" fill="#bfcccc" />
<rect x="117.83" y="179.00" width="13.03" height="1.20" fill="#ddedf2" />
<rect x="130.67" y="179.00" width="13.03" height="1.20" fill="#fde9b4" />
<rect x="28.00" y="180.00" width="13.03" height="1.40" fill="#ddedf2" />
<rect x="40.83" y="180.00" width="13.03" height="1.40" fill="#ddedf2" />
<rect x="53.67" y="180.00" width="13.03" height="1.40" fill="#ddedf2" />
<rect x="66.50" y="180.00" width="13.03" height="1.40" fill="#fde9b4" />
<rect x="79.33" y="180.00" width="13.03" height="1.40" fill="#ddedf2" />
<rect x="92.17" y="180.00" width="13.03" height="1.40" fill="#ddedf2" />
<rect x="105.00" y="180.00" width="13.03" height="1.40" fill="#fde9b4" />
<rect x="117.83" y="180.00" width="13.03" height="1.40" fill="#ddedf2" />
<rect x="130.67" y="180.00" width="13.03" height="1.40" fill="#fde9b4" />
<rect x="28.00" y="181.20" width="13.03" height="2.00" fill="#ddedf2" />
<rect x="40.83" y="181.20" width="13.03" height="2.00" fill="#fde9b4" />
<rect x="53.67" y="181.20" width="13.03" height="2.00" fill="#ddedf2" />
<rect x="66.50" y="181.20" width="13.03" height="2.00" fill="#fcda9c" />
<rect x="79.33" y="181.20" width="13.03" height="2.00" fill="#ddedf2" />
<rect x="92.17" y="181.20" width="13.03" height="2.00" fill="#fde9b4" />
<rect x="105.00" y="181.20" width="13.03" height="2.00" fill="#fcda9c" />
<rect x="117.83" y="181.20" width="13.03" height="2.00" fill="#ddedf2" />
<rect x="130.67" y="181.20" width="13.03" height="2.00" fill="#fde9b4" />
<rect x="28.00" y="183.00" width="13.03" height="1.20" fill="#7f98cd" />
<rect x="40.83" y="183.00" width="13.03" height="1.20" fill="#fde9b4" />
<rect x="53.67" y="183.00" width="13.03" height="1.20" fill="#ddedf2" />
<rect x="66.50" y="183.00" width="13.03" height="1.20" fill="#fcda9c" />
<rect x="79.33" y="183.00" width="13.03" height="1.20" fill="#7f98cd" />
<rect x="92.17" y="183.00" width="13.03" height="1.20" fill="#fde9b4" />
<rect x="105.00" y="183.00" width="13.03" height="1.20" fill="#fcda9c" />
<rect x="117.83" y="183.00" width="13.03" height="1.20" fill="#ddedf2" />
<rect x="130.67" y="183.00" width="13.03" height="1.20" fill="#fde9b4" />
<rect x="28.00" y="184.00" width="13.03" height="1.80" fill="#eef3e4" />
<rect x="40.83" y="184.00" width="13.03" height="1.80" fill="#fce5b0" />
<rect x="53.67" y="184.00" width="13.03" height="1.80" fill="#bbd5ea" />
<rect x="66.50" y="184.00" width="13.03" height="1.80" fill="#fbd699" />
<rect x="79.33" y="184.00" width="13.03" height="1.80" fill="#ddedf2" />
<rect x="92.17" y="184.00" width="13.03" height="1.80" fill="#fce2ad" />
<rect x="105.00" y="184.00" width="13.03" height="1.80" fill="#fce5b0" />
<rect x="117.83" y="184.00" width="13.03" height="1.80" fill="#ddedf2" />
<rect x="130.67" y="184.00" width="13.03" height="1.80" fill="#fce5b0" />
<rect x="28.00" y="185.60" width="13.03" height="1.80" fill="#eef3e4" />
<rect x="40.83" y="185.60" width="13.03" height="1.80" fill="#fce4af" />
<rect x="53.67" y="185.60" width="13.03" height="1.80" fill="#bbd5ea" />
<rect x="66.50" y="185.60" width="13.03" height="1.80" fill="#fbd699" />
<rect x="79.33" y="185.60" width="13.03" height="1.80" fill="#ddedf2" />
<rect x="92.17" y="185.60" width="13.03" height="1.80" fill="#fce6b1" />
<rect x="105.00" y="185.60" width="13.03" height="1.80" fill="#fce5b0" />
<rect x="117.83" y="185.60" width="13.03" height="1.80" fill="#ddedf2" />
<rect x="130.67" y="185.60" width="13.03" height="1.80" fill="#fce5b0" />
<rect x="28.00" y="187.20" width="13.03" height="1.80" fill="#eef3e4" />
<rect x="40.83" y="187.20" width="13.03" height="1.80" fill="#fde7b2" />
<rect x="53.67" y="187.20" width="13.03" height="1.80" fill="#bbd5ea" />
<rect x="66.50" y="187.20" width="13.03" height="1.80" fill="#fbd597" />
<rect x="79.33" y="187.20" width="13.03" height="1.80" fill="#ddedf2" />
<rect x="92.17" y="187.20" width="13.03" height="1.80" fill="#fde7b2" />
<rect x="105.00" y="187.20" width="13.03" height="1.80" fill="#fce5b0" />
<rect x="117.83" y="187.20" width="13.03" height="1.80" fill="#ddedf2" />
<rect x="130.67" y="187.20" width="13.03" height="1.80" fill="#fde6b1" />
<rect x="28.00" y="188.80" width="13.03" height="2.40" fill="#ddedf2" />
<rect x="40.83" y="188.80" width="13.03" height="2.40" fill="#ddedf2" />
<rect x="53.67" y="188.80" width="13.03" height="2.40" fill="#4b63b5" />
<rect x="66.50" y="188.80" width="13.03" height="2.40" fill="#fde9b4" />
<rect x="79.33" y="188.80" width="13.03" height="2.40" fill="#ddedf2" />
<rect x="92.17" y="188.80" width="13.03" height="2.40" fill="#fde9b4" />
<rect x="105.00" y="188.80" width="13.03" height="2.40" fill="#fde9b4" />
<rect x="117.83" y="188.80" width="13.03" height="2.40" fill="#ddedf2" />
<rect x="130.67" y="188.80" width="13.03" height="2.40" fill="#fde9b4" />
<rect x="28.00" y="191.00" width="13.03" height="2.20" fill="#eef3e4" />
<rect x="40.83" y="191.00" width="13.03" height="2.20" fill="#eef3e4" />
<rect x="53.67" y="191.00" width="13.03" height="2.20" fill="#eef3e4" />
<rect x="66.50" y="191.00" width="13.03" height="2.20" fill="#fde9b4" />
<rect x="79.33" y="191.00" width="13.03" height="2.20" fill="#fde9b4" />
<rect x="92.17" y="191.00" width="13.03" height="2.20" fill="#fde9b4" />
<rect x="105.00" y="191.00" width="13.03" height="2.20" fill="#fde9b4" />
<rect x="117.83" y="191.00" width="13.03" height="2.20" fill="#ddedf2" />
<rect x="130.67" y="191.00" width="13.03" height="2.20" fill="#fde9b4" />
</g>
<defs><linearGradient id="cb" x1="0" y1="0" x2="0" y2="1"><stop offset="0" stop-color="#b2182b"/><stop offset="0.15" stop-color="#e04a33"/><stop offset="0.3" stop-color="#f7a468"/><stop offset="0.5" stop-color="#fff8cc"/><stop offset="0.65" stop-color="#bcdcec"/><stop offset="0.8" stop-color="#6a94c8"/><stop offset="1" stop-color="#2c3c9a"/></linearGradient></defs>
<rect x="146.00" y="10.20" width="3.60" height="52.80" fill="url(#cb)" />
<text x="151.30" y="14.70" font-size="3.9" font-weight="bold" text-anchor="start" font-family="'Liberation Sans', sans-serif" fill="#222" >10</text>
<text x="151.30" y="25.80" font-size="3.9" font-weight="bold" text-anchor="start" font-family="'Liberation Sans', sans-serif" fill="#222" >5</text>
<text x="151.30" y="36.70" font-size="3.9" font-weight="bold" text-anchor="start" font-family="'Liberation Sans', sans-serif" fill="#222" >0</text>
<text x="151.30" y="47.10" font-size="3.9" font-weight="bold" text-anchor="start" font-family="'Liberation Sans', sans-serif" fill="#222" >-5</text>
<text x="151.30" y="57.20" font-size="3.9" font-weight="bold" text-anchor="start" font-family="'Liberation Sans', sans-serif" fill="#222" >-10</text>
<text x="34.42" y="198.10" font-size="4.9" font-weight="normal" text-anchor="middle" font-family="'Liberation Sans', sans-serif" fill="#222" >1-1</text>
<text x="47.25" y="198.10" font-size="4.9" font-weight="normal" text-anchor="middle" font-family="'Liberation Sans', sans-serif" fill="#222" >1-2</text>
<text x="60.08" y="198.10" font-size="4.9" font-weight="normal" text-anchor="middle" font-family="'Liberation Sans', sans-serif" fill="#222" >1-3</text>
<text x="72.92" y="198.10" font-size="4.9" font-weight="normal" text-anchor="middle" font-family="'Liberation Sans', sans-serif" fill="#222" >2-1</text>
<text x="85.75" y="198.10" font-size="4.9" font-weight="normal" text-anchor="middle" font-family="'Liberation Sans', sans-serif" fill="#222" >2-2</text>
<text x="98.58" y="198.10" font-size="4.9" font-weight="normal" text-anchor="middle" font-family="'Liberation Sans', sans-serif" fill="#222" >2-3</text>
<text x="111.42" y="198.10" font-size="4.9" font-weight="normal" text-anchor="middle" font-family="'Liberation Sans', sans-serif" fill="#222" >3-1</text>
<text x="124.25" y="198.10" font-size="4.9" font-weight="normal" text-anchor="middle" font-family="'Liberation Sans', sans-serif" fill="#222" >3-2</text>
<text x="137.08" y="198.10" font-size="4.9" font-weight="normal" text-anchor="middle" font-family="'Liberation Sans', sans-serif" fill="#222" >3-3</text>
<text x="259.80" y="19.50" font-size="12.1" font-weight="normal" text-anchor="middle" font-family="'Liberation Sans', sans-serif" fill="#1a1a1a" >Vit vs Fresh</text>
<text x="261.00" y="40.10" font-size="5.9" font-weight="normal" text-anchor="middle" font-family="'Liberation Sans', sans-serif" fill="#222" >Total Genes: 21,239</text>
<circle cx="201.80" cy="48.9" r="1.2" fill="#d6303f"/>
<text x="206.30" y="50.60" font-size="4.6" font-weight="normal" text-anchor="start" font-family="'Liberation Sans', sans-serif" fill="#333" >Sig_Up (700)</text>
<circle cx="244.30" cy="48.9" r="1.2" fill="#999"/>
<text x="248.80" y="50.60" font-size="4.6" font-weight="normal" text-anchor="start" font-family="'Liberation Sans', sans-serif" fill="#333" >NoDiff (20185)</text>
<circle cx="286.40" cy="48.9" r="1.2" fill="#2c64b4"/>
<text x="290.90" y="50.60" font-size="4.6" font-weight="normal" text-anchor="start" font-family="'Liberation Sans', sans-serif" fill="#333" >Sig_Down (354)</text>
<clipPath id="clipb"><rect x="182.6" y="56.5" width="156.4" height="132.5"/></clipPath>
<g clip-path="url(#clipb)">
<path d="M229.50,167.56 L230.28,168.22 L231.07,168.87 L231.89,169.52 L232.74,170.17 L233.60,170.82 L234.50,171.47 L235.43,172.13 L236.39,172.78 L237.38,173.43 L238.42,174.08 L239.50,174.73 L240.64,175.38 L241.83,176.03 L243.09,176.69 L244.43,177.34 L245.86,177.99 L247.40,178.64 L249.08,179.29 L250.94,179.94 L253.04,180.59 L255.48,181.25 L258.48,181.90 L262.60,182.55 L275.50,183.20 L275.50,183.20 L287.56,182.55 L291.41,181.90 L294.22,181.25 L296.50,180.59 L298.46,179.94 L300.20,179.29 L301.77,178.64 L303.21,177.99 L304.55,177.34 L305.80,176.69 L306.97,176.03 L308.09,175.38 L309.15,174.73 L310.16,174.08 L311.13,173.43 L312.06,172.78 L312.96,172.13 L313.83,171.47 L314.66,170.82 L315.48,170.17 L316.26,169.52 L317.03,168.87 L317.77,168.22 L318.50,167.56 L279.10,167.56 L275.50,181.64 L271.90,167.56Z" fill="#9a9a9a"/>
<path d="M266.2 177.5h0M261.0 178.2h0M283.2 180.1h0M277.1 180.6h0M278.7 171.0h0M281.4 173.4h0M292.6 180.3h0M258.2 175.1h0M272.3 181.8h0M234.8 171.2h0M271.8 173.2h0M265.3 178.7h0M248.7 178.6h0M278.7 181.0h0M241.4 172.8h0M305.2 168.2h0M295.2 169.8h0M283.0 168.8h0M302.1 168.3h0M230.9 169.3h0M274.2 179.2h0M258.6 171.2h0M284.0 183.1h0M260.6 174.6h0M234.4 168.5h0M302.9 171.7h0M285.4 176.3h0M296.3 180.0h0M252.1 177.6h0M294.5 180.1h0M261.1 168.4h0M273.2 183.4h0M253.4 177.8h0M284.0 169.1h0M238.8 168.5h0M263.6 177.8h0M245.4 173.3h0M305.7 174.0h0M279.6 169.2h0M282.1 182.0h0M283.6 180.4h0M291.7 179.0h0M298.0 172.0h0M264.5 170.0h0M282.8 172.3h0M284.4 171.6h0M263.2 179.3h0M278.3 174.3h0M258.4 169.4h0M242.3 168.3h0M281.6 180.0h0M264.0 179.6h0M293.9 173.1h0M306.9 170.2h0M277.8 179.4h0M279.1 174.8h0M295.6 176.5h0M274.5 180.3h0M307.4 169.5h0M284.7 169.3h0M300.5 174.5h0M269.0 177.4h0M248.6 175.6h0M261.0 181.3h0M270.4 168.9h0M266.9 169.7h0M276.9 179.0h0M304.5 171.8h0M267.3 174.6h0M265.6 182.9h0M248.5 168.7h0M280.6 179.3h0M269.6 168.6h0M270.3 182.1h0M272.0 182.3h0M247.4 173.5h0M288.7 169.2h0M273.1 182.1h0M285.7 177.1h0M256.3 170.7h0M289.4 172.9h0M308.6 174.8h0M262.4 175.5h0M267.9 177.1h0M264.0 168.4h0M284.3 182.4h0M267.3 176.0h0M301.3 168.5h0M270.9 168.3h0M264.3 174.6h0M299.5 176.1h0M250.5 180.1h0M256.8 177.2h0M263.1 169.8h0M300.3 176.6h0M280.8 170.7h0M260.3 173.8h0M299.1 179.5h0M271.0 178.1h0M294.2 180.6h0M246.2 168.1h0M271.0 178.5h0M252.1 179.7h0M251.1 168.6h0M269.0 178.5h0M264.4 180.7h0M315.9 169.8h0M281.0 172.6h0M243.8 173.8h0M248.6 168.3h0M255.5 172.2h0M266.8 181.6h0M291.0 179.0h0M246.7 170.6h0M297.1 178.8h0M279.0 178.7h0M262.3 173.8h0M289.3 175.4h0M269.9 181.0h0M271.5 182.3h0M269.7 169.3h0M292.8 180.4h0M282.7 177.5h0M277.2 180.8h0M281.2 177.8h0M273.4 181.7h0M303.7 172.7h0M278.2 179.9h0M271.7 179.1h0M303.5 175.2h0M266.8 182.8h0M262.5 171.4h0M284.0 173.5h0M291.2 179.4h0M246.8 176.2h0M258.0 171.3h0M263.4 176.8h0M252.5 180.8h0M307.2 168.8h0M299.9 179.2h0M266.2 182.2h0M292.1 178.4h0M241.7 175.3h0M282.9 183.1h0M294.9 180.1h0M274.2 183.1h0M280.8 176.1h0M296.0 175.8h0M272.5 181.8h0M284.1 172.8h0M281.4 178.9h0M238.4 169.2h0M280.1 182.7h0M269.5 169.5h0M283.0 175.1h0M266.4 181.5h0M308.4 173.3h0M309.0 172.2h0M247.5 171.6h0M304.6 170.1h0M252.3 168.2h0M279.1 182.5h0M247.1 177.0h0M259.0 179.7h0M243.0 174.7h0M261.8 172.6h0M269.2 170.5h0M263.9 182.6h0M250.3 170.8h0M247.9 169.0h0M284.9 175.3h0M239.1 170.5h0M257.9 179.0h0M268.2 168.9h0M250.1 178.5h0M278.5 178.5h0M260.7 181.9h0M278.8 176.7h0M277.0 183.0h0M253.4 178.7h0M262.9 172.6h0M306.8 168.0h0M263.4 179.6h0M282.9 170.6h0M296.7 180.0h0M253.2 178.8h0M262.4 173.3h0M267.7 175.3h0M255.1 171.3h0M310.8 172.6h0M286.0 179.2h0M267.7 181.3h0M269.6 168.6h0M302.2 172.1h0M254.3 181.0h0M269.6 170.3h0M301.0 174.0h0M267.4 177.3h0M291.7 175.7h0M270.3 177.4h0M284.3 182.0h0M268.8 171.3h0M300.2 171.7h0M263.6 171.3h0M288.0 178.3h0M295.9 172.5h0M295.3 176.2h0M310.2 169.8h0M263.3 176.6h0M245.2 173.9h0M243.9 168.6h0M279.5 177.7h0M255.9 180.6h0M266.7 169.1h0M238.2 168.9h0M263.3 179.7h0M256.4 171.5h0M269.4 169.0h0M279.6 176.7h0M266.0 181.5h0M302.4 176.2h0M271.6 183.3h0M263.4 176.4h0M279.9 171.2h0M256.2 169.8h0M247.4 177.1h0M270.8 174.8h0M267.3 182.6h0M282.2 171.3h0M272.2 172.8h0M286.6 177.2h0M252.0 169.3h0M269.0 177.3h0M282.7 169.4h0M287.5 175.9h0M261.6 170.3h0M290.1 169.3h0M267.7 177.4h0M268.5 180.3h0M307.4 176.1h0M266.7 172.5h0M270.4 179.2h0M268.8 177.9h0M271.1 177.7h0M307.9 174.0h0M282.2 181.3h0M284.2 179.6h0M294.3 170.2h0M270.9 182.9h0M279.1 182.9h0M271.3 180.4h0M267.6 181.9h0M260.1 172.1h0M252.0 176.3h0M248.3 169.9h0M294.7 176.9h0M284.5 179.4h0M249.1 173.2h0M285.6 174.2h0M243.2 173.5h0M214.0 170.6h0M215.2 170.8h0M216.4 171.1h0M217.6 171.3h0M218.8 171.6h0M220.0 171.8h0M221.2 172.1h0M222.4 172.3h0M223.6 172.6h0M326.5 170.0h0M322.5 171.2h0M330.5 168.6h0M324.0 169.2h0M316.0 171.5h0" stroke="#9c9c9c" stroke-width="1.6" stroke-linecap="round" fill="none"/>
<path d="M303.0 158.6h0M281.4 157.4h0M282.3 138.6h0M287.1 165.6h0M285.1 160.0h0M295.3 148.5h0M294.6 154.2h0M303.0 163.4h0M291.8 166.4h0M296.1 166.2h0M289.4 142.2h0M310.8 161.7h0M282.9 154.4h0M291.6 153.4h0M294.3 156.2h0M293.5 165.9h0M282.6 137.7h0M293.1 165.7h0M286.9 140.6h0M291.4 153.2h0M297.7 157.9h0M298.3 162.6h0M294.9 156.5h0M280.8 158.2h0M301.3 152.7h0M293.3 164.7h0M293.6 159.2h0M282.2 138.2h0M287.4 153.7h0M298.7 164.3h0M288.9 140.8h0M280.2 146.4h0M294.0 139.2h0M311.4 166.5h0M283.7 144.5h0M281.7 156.0h0M299.7 164.9h0M285.9 157.5h0M282.8 138.6h0M306.9 158.9h0M290.9 160.2h0M319.1 165.5h0M284.8 155.5h0M285.3 164.1h0M297.2 155.8h0M282.2 165.7h0M283.8 164.8h0M294.5 162.1h0M287.7 157.0h0M282.3 158.9h0M280.9 126.0h0M313.7 163.0h0M280.9 129.1h0M298.6 150.5h0M320.6 166.6h0M292.7 165.1h0M291.0 165.2h0M314.9 162.5h0M299.9 164.1h0M300.9 166.7h0M295.3 159.8h0M297.3 149.0h0M302.9 151.6h0M286.4 145.5h0M297.1 164.4h0M288.5 158.3h0M300.9 165.1h0M280.3 165.3h0M280.4 162.8h0M288.7 165.1h0M283.3 153.1h0M285.8 165.0h0M310.8 164.2h0M283.9 148.5h0M282.4 165.3h0M283.1 167.1h0M286.6 133.6h0M306.9 154.2h0M285.0 154.5h0M285.6 156.3h0M291.2 146.7h0M294.8 164.0h0M285.3 156.7h0M284.2 138.0h0M290.4 155.4h0M290.6 158.3h0M308.6 159.6h0M283.4 160.5h0M283.2 163.7h0M299.9 167.2h0M282.6 162.4h0M286.3 135.3h0M290.2 151.5h0M288.9 149.4h0M284.2 162.4h0M285.1 163.6h0M294.0 162.9h0M294.4 161.1h0M289.6 164.2h0M297.0 165.0h0M290.1 166.8h0M293.4 158.0h0M281.9 157.0h0M292.2 165.0h0M299.2 150.0h0M284.4 159.2h0M284.5 146.6h0M284.7 162.2h0M295.1 166.5h0M325.5 167.2h0M285.2 142.0h0M300.8 152.0h0M293.8 146.7h0M292.4 157.9h0M287.7 156.6h0M286.1 158.5h0M281.8 161.7h0M283.4 158.6h0M288.0 132.7h0M284.2 133.4h0M287.1 157.7h0M280.4 164.9h0M281.1 133.0h0M296.2 155.2h0M302.1 162.3h0M282.4 149.3h0M283.0 152.2h0M297.4 166.3h0M285.5 129.7h0M282.8 150.6h0M299.5 156.9h0M304.8 162.3h0M308.3 163.2h0M286.7 152.2h0M293.2 145.9h0M305.3 164.2h0M285.7 152.6h0M285.6 165.1h0M285.1 154.8h0M284.2 159.5h0M305.7 160.8h0M301.3 165.6h0M289.3 160.9h0M295.3 151.0h0M283.4 145.0h0M315.8 165.5h0M289.7 157.8h0M283.9 161.2h0M302.0 167.3h0M297.8 166.8h0M285.2 158.0h0M286.3 153.8h0M292.8 160.3h0M285.0 153.6h0M284.6 141.6h0M288.9 147.5h0M293.1 150.3h0M292.2 164.6h0M312.9 163.3h0M310.1 155.1h0M288.5 166.1h0M287.3 151.1h0M280.4 142.8h0M290.9 157.4h0M299.6 162.8h0M283.8 167.1h0M287.5 153.0h0M287.8 165.0h0M299.9 160.2h0M300.3 144.6h0M280.7 166.3h0M300.9 151.3h0M284.8 153.5h0M291.3 158.0h0M292.3 164.8h0M282.0 157.0h0M311.0 161.9h0M284.7 165.8h0M286.0 159.4h0M289.9 153.1h0M292.0 167.2h0M285.1 149.8h0M302.1 166.1h0M281.7 162.1h0M286.1 131.8h0M294.0 164.7h0M291.5 165.0h0M280.8 143.5h0M300.9 166.9h0M303.3 162.0h0M282.9 148.5h0M318.4 166.9h0M296.9 160.9h0M307.2 165.3h0M281.0 145.7h0M293.1 162.9h0M285.6 132.2h0M296.0 165.0h0M295.6 152.7h0M284.5 164.0h0M282.2 164.4h0M296.1 157.8h0M281.2 157.8h0M291.5 138.5h0M291.1 157.6h0M281.9 157.9h0M284.3 164.2h0M291.2 142.7h0M285.1 161.0h0M283.6 134.0h0M297.4 159.0h0M291.0 146.8h0M284.7 141.5h0M296.8 160.0h0M281.5 161.3h0M306.5 161.6h0M289.4 140.1h0M289.6 140.4h0M280.2 129.7h0M312.3 161.6h0M289.0 137.5h0M287.8 145.0h0M295.2 166.4h0M297.9 153.5h0M285.7 148.7h0M284.2 154.2h0M304.1 155.0h0M301.0 153.5h0M303.5 155.1h0M284.8 164.9h0M295.8 145.3h0M296.2 167.0h0M297.2 156.6h0M289.0 155.7h0M284.3 164.4h0M299.4 163.5h0M288.8 148.7h0M284.8 165.0h0M282.6 157.5h0M295.1 163.0h0M286.9 148.0h0M293.3 149.0h0M289.2 159.0h0M286.7 158.3h0M301.5 156.2h0M286.6 144.3h0M307.6 163.0h0M297.3 162.5h0M289.1 141.7h0M285.2 140.4h0M297.0 161.6h0M304.3 159.1h0M300.9 158.5h0M304.7 157.5h0M282.9 161.7h0M305.5 162.2h0M324.5 166.1h0M293.2 155.3h0M286.9 162.6h0M289.5 163.8h0M293.8 146.2h0M286.0 167.3h0M290.5 158.7h0M307.7 165.4h0M285.6 160.3h0M293.1 149.6h0M283.5 159.7h0M299.9 161.8h0M295.6 159.7h0M292.4 151.3h0M285.2 143.8h0M297.2 158.0h0M288.7 139.9h0M291.5 154.9h0M296.1 142.8h0M297.4 152.3h0M293.5 154.5h0M290.0 161.2h0M282.6 160.5h0M288.7 155.5h0M304.9 167.0h0M283.2 129.3h0M299.1 159.0h0M297.1 164.2h0M295.4 161.3h0M287.0 158.0h0M282.1 155.9h0M286.4 161.5h0M285.2 152.2h0M280.6 164.1h0M305.7 166.9h0M291.7 166.4h0M286.7 158.8h0M292.0 167.1h0M288.9 159.9h0M297.8 165.6h0M296.6 163.8h0M292.6 157.8h0M292.1 151.5h0M283.4 149.8h0M297.0 156.0h0M286.2 151.8h0M286.1 163.6h0M285.4 163.5h0M297.6 148.7h0M281.4 129.4h0M294.5 157.5h0M295.6 164.2h0M286.8 165.5h0M295.0 156.4h0M287.2 161.0h0M287.1 161.0h0M282.4 164.5h0M302.9 162.9h0M285.8 159.7h0M283.9 143.1h0M289.7 163.4h0M280.3 167.1h0M280.2 146.6h0M283.8 129.8h0M281.0 133.6h0M285.8 154.4h0M284.5 156.8h0M286.8 161.4h0M286.7 159.0h0M301.3 160.5h0M286.3 143.7h0M288.3 143.2h0M286.2 145.0h0M307.6 153.4h0M297.0 157.5h0M306.8 164.8h0M300.2 154.8h0M305.1 162.0h0M298.0 153.5h0M290.3 137.4h0M281.1 161.0h0M285.8 155.7h0M289.2 150.2h0M300.5 154.1h0M285.0 159.7h0M304.0 163.3h0M283.3 141.8h0M288.2 148.3h0M294.2 164.5h0M288.3 152.1h0M281.4 134.1h0M309.9 160.5h0M300.1 163.1h0M290.4 162.1h0M294.9 158.4h0M290.3 164.2h0M282.6 164.5h0M295.3 150.6h0M286.3 156.0h0M298.7 147.0h0M287.4 166.2h0M283.1 165.7h0M295.3 160.3h0M301.7 162.1h0M301.3 166.8h0M287.8 157.4h0M305.5 166.4h0M299.1 158.7h0M286.4 157.0h0M281.2 163.0h0M281.1 146.2h0M302.8 157.9h0M282.9 162.7h0M299.6 151.4h0M292.4 160.3h0M302.4 161.1h0M286.4 161.9h0M282.1 152.5h0M289.4 165.9h0M283.8 163.1h0M304.4 166.0h0M281.4 151.6h0M294.0 151.1h0M304.6 157.5h0M288.1 145.5h0M297.9 166.1h0M303.1 164.3h0M305.0 158.7h0M300.2 162.2h0M298.0 155.3h0M285.9 165.1h0M283.7 144.9h0M310.3 166.1h0M297.9 162.0h0M287.6 149.0h0M292.2 161.9h0M294.1 155.3h0M289.1 167.2h0M282.3 158.7h0M280.9 145.2h0M324.2 166.1h0M283.4 162.2h0M294.4 164.2h0M293.9 165.1h0M282.6 159.4h0M295.0 160.9h0M284.1 158.8h0M296.7 148.8h0M288.4 161.9h0M296.5 164.0h0M286.2 153.1h0M302.9 164.6h0M287.7 140.0h0M297.4 154.4h0M306.7 165.0h0M283.1 161.0h0M303.7 155.1h0M282.0 147.2h0M292.0 154.2h0M292.0 146.7h0M296.0 141.4h0M295.3 164.5h0M316.3 167.1h0M288.1 139.1h0M284.7 165.2h0M289.2 155.6h0M284.8 153.5h0M287.5 166.2h0M286.9 139.2h0M302.7 156.8h0M291.5 155.0h0M286.5 137.7h0M289.5 151.0h0M280.8 166.3h0M284.3 146.5h0M297.0 160.7h0M284.3 133.9h0M289.9 165.7h0M291.4 159.9h0M294.9 166.5h0M298.4 147.6h0M283.4 162.2h0M299.1 166.2h0M283.5 160.3h0M281.0 128.1h0M282.8 132.9h0M284.6 125.7h0M287.3 123.3h0M281.9 121.0h0M291.9 122.2h0M295.5 123.3h0M303.3 120.4h0M305.0 114.6h0M299.8 63.0h0M311.9 71.1h0M289.5 92.3h0M297.3 91.9h0M288.7 96.5h0M296.4 101.2h0M297.3 103.4h0M288.2 106.6h0M302.3 106.0h0M314.4 106.5h0M294.6 111.4h0M287.3 112.6h0M317.9 130.9h0M306.4 131.7h0M311.0 140.1h0M314.6 143.7h0M321.0 152.0h0M323.7 156.8h0M320.1 148.4h0M301.0 130.5h0M299.2 136.5h0M308.3 147.2h0M317.4 159.2h0M325.6 164.0h0M322.8 160.4h0" stroke="#d8344a" stroke-width="2.0" stroke-linecap="round" fill="none"/>
<path d="M269.6 161.0h0M268.3 155.2h0M263.1 159.3h0M267.1 165.8h0M269.5 166.2h0M270.8 151.6h0M270.3 143.4h0M268.1 150.0h0M260.6 163.7h0M264.0 157.7h0M266.9 162.1h0M263.9 156.9h0M271.4 165.2h0M270.1 149.3h0M264.2 155.2h0M265.8 162.0h0M269.3 152.3h0M269.9 152.0h0M269.5 142.8h0M268.8 162.4h0M267.2 162.7h0M269.1 153.2h0M270.3 148.4h0M264.5 156.9h0M268.0 160.6h0M265.7 159.8h0M268.2 164.2h0M270.9 166.8h0M269.0 151.0h0M267.7 150.3h0M268.9 161.2h0M257.1 165.7h0M270.9 141.5h0M264.2 151.8h0M261.8 159.8h0M271.2 164.7h0M261.3 165.0h0M270.5 154.9h0M269.8 167.0h0M265.2 155.9h0M265.6 160.2h0M269.2 166.7h0M268.7 149.1h0M263.9 152.0h0M262.4 157.7h0M262.1 158.8h0M264.1 165.4h0M267.5 147.8h0M257.0 167.0h0M268.0 164.5h0M260.3 164.2h0M270.1 155.4h0M257.1 166.4h0M263.3 160.9h0M270.4 149.1h0M262.8 160.1h0M269.2 148.3h0M270.7 147.5h0M265.4 151.3h0M267.0 151.8h0M266.1 153.7h0M268.3 144.9h0M270.1 162.7h0M270.1 152.3h0M268.4 160.6h0M268.8 159.6h0M263.5 165.7h0M268.6 150.7h0M262.6 164.3h0M268.0 145.3h0M270.5 161.4h0M269.5 159.0h0M270.5 160.0h0M270.1 160.6h0M262.6 159.4h0M270.0 162.0h0M264.8 162.9h0M269.6 150.0h0M267.2 154.3h0M271.3 152.4h0M265.2 166.7h0M270.6 154.0h0M270.4 167.0h0M269.3 159.2h0M262.1 164.9h0M270.5 143.1h0M268.2 157.9h0M265.2 154.6h0M267.6 153.1h0M266.0 154.2h0M270.5 162.3h0M267.7 165.1h0M263.9 160.1h0M269.2 143.2h0M265.2 153.6h0M264.4 162.3h0M264.7 159.5h0M269.6 149.8h0M265.5 161.8h0M269.3 158.9h0M268.4 163.0h0M267.4 148.2h0M267.6 164.6h0M269.0 158.7h0M270.5 156.7h0M262.0 158.4h0M265.7 148.8h0M271.1 151.2h0M267.6 157.8h0M266.9 162.3h0M269.5 164.0h0M265.5 159.3h0M268.9 161.7h0M270.1 153.4h0M267.1 154.2h0M266.1 160.9h0M269.6 163.6h0M270.9 152.7h0M271.0 162.7h0M262.5 158.4h0M266.0 164.6h0M267.3 161.9h0M263.9 152.7h0M270.8 152.1h0M270.1 148.4h0M265.1 159.2h0M270.4 145.3h0M267.8 147.0h0M268.7 154.8h0M269.8 161.7h0M270.8 148.1h0M262.9 153.7h0M268.9 159.3h0M266.2 150.2h0M270.3 164.1h0M268.4 150.6h0M270.3 141.0h0M266.0 152.3h0M269.2 153.7h0M268.5 162.5h0M269.9 159.3h0M270.6 141.6h0M263.1 156.9h0M270.2 157.2h0M262.6 155.4h0M268.5 158.4h0M266.9 163.3h0M265.3 160.3h0M262.0 160.1h0M267.2 158.1h0M267.8 160.2h0M268.6 165.1h0M263.1 154.0h0M270.4 143.6h0M269.9 160.0h0M269.0 144.7h0M268.9 156.1h0M270.5 149.5h0M270.2 158.1h0M269.3 157.2h0M270.2 145.1h0M261.4 162.2h0M270.3 145.8h0M262.0 163.3h0M268.7 159.4h0M269.5 146.8h0M270.2 151.3h0M263.4 159.1h0M271.2 154.0h0M269.7 151.2h0M269.1 147.8h0M269.4 160.4h0M268.6 157.9h0M268.9 160.1h0M267.5 163.2h0M269.3 159.1h0M270.0 147.4h0M265.0 161.2h0M268.7 161.8h0M261.9 160.5h0M262.4 161.9h0M262.0 156.8h0M266.9 155.7h0M264.0 152.6h0M269.6 163.9h0M269.7 153.8h0M268.2 161.1h0M262.9 162.6h0M256.7 166.5h0M268.4 161.3h0M268.8 151.4h0M271.3 141.4h0M265.6 149.4h0M268.5 153.0h0M270.8 165.0h0M268.8 147.6h0M266.6 148.6h0M263.4 161.9h0M267.0 156.5h0M265.0 150.1h0M262.5 157.2h0M267.6 162.9h0M269.1 165.5h0M267.5 146.2h0M267.8 146.7h0M269.6 163.7h0M269.2 146.5h0M263.2 159.6h0M271.1 145.4h0M268.7 160.1h0M271.1 165.0h0M269.6 143.0h0M270.1 166.7h0M266.9 157.9h0M267.9 163.3h0M260.8 165.0h0M267.8 155.2h0M264.2 155.4h0M269.2 147.3h0M271.1 163.4h0M268.2 156.9h0M266.7 148.1h0M270.3 162.9h0M259.2 163.7h0M269.0 148.9h0M267.9 147.5h0M267.9 151.9h0M271.1 153.6h0M266.0 163.2h0M263.7 158.6h0M223.7 155.5h0M235.3 160.7h0M255.7 164.9h0M233.1 159.5h0M238.7 164.4h0M239.5 160.4h0M225.0 164.0h0M249.7 164.7h0M256.6 155.1h0M235.6 165.3h0M237.8 161.1h0M225.2 159.9h0M223.7 165.2h0M255.5 163.4h0M231.7 163.0h0M242.3 164.1h0M234.5 166.3h0M223.4 166.4h0M236.7 166.6h0M238.0 165.6h0M253.7 162.7h0M242.8 161.6h0M245.3 158.1h0M255.6 164.6h0M226.7 166.5h0M242.1 161.3h0M246.5 163.4h0M238.2 158.2h0M253.5 162.2h0M249.8 166.4h0M229.4 161.7h0M243.1 162.5h0M255.6 163.6h0M232.8 162.1h0M241.1 158.9h0M251.6 166.1h0M238.7 161.8h0M244.2 164.1h0M228.1 166.8h0M226.0 161.3h0M247.5 163.7h0M231.2 166.0h0M241.7 166.1h0M250.8 160.0h0M225.8 166.0h0M246.5 166.1h0M236.2 162.9h0M249.3 165.2h0M228.0 164.9h0M239.7 164.2h0M256.9 162.5h0M236.2 157.0h0M238.8 165.1h0M240.4 154.0h0M240.4 164.3h0M231.1 166.6h0M242.0 164.0h0M234.0 160.6h0M245.1 162.1h0M238.1 166.4h0M189.1 162.2h0M230.0 123.3h0M224.5 131.7h0M257.8 91.3h0M260.7 94.7h0M261.2 104.2h0M260.5 106.6h0M263.0 111.4h0M262.3 117.4h0M262.3 125.7h0M264.9 126.9h0M260.9 129.3h0M263.7 131.7h0M264.6 135.3h0M266.4 138.9h0M257.3 140.1h0M267.3 141.3h0M225.4 149.6h0M236.4 153.2h0M248.2 156.8h0M221.8 155.6h0M243.7 159.2h0M259.1 143.7h0" stroke="#2c62b2" stroke-width="2.0" stroke-linecap="round" fill="none"/>
</g>
<line x1="182.60" y1="167.56" x2="339.00" y2="167.56" stroke="#222" stroke-width="0.7" stroke-dasharray="1.6,1.2"/>
<line x1="275.50" y1="56.50" x2="275.50" y2="189.00" stroke="#222" stroke-width="0.7" stroke-dasharray="1.6,1.2"/>
<rect x="182.6" y="56.5" width="156.4" height="132.5" fill="none" stroke="#333" stroke-width="1"/>
<line x1="181.10" y1="183.10" x2="182.60" y2="183.10" stroke="#333" stroke-width="0.6" />
<text x="179.30" y="184.40" font-size="3.8" font-weight="normal" text-anchor="end" font-family="'Liberation Sans', sans-serif" fill="#333" >0.0</text>
<line x1="181.10" y1="153.22" x2="182.60" y2="153.22" stroke="#333" stroke-width="0.6" />
<text x="179.30" y="154.53" font-size="3.8" font-weight="normal" text-anchor="end" font-family="'Liberation Sans', sans-serif" fill="#333" >2.5</text>
<line x1="181.10" y1="123.35" x2="182.60" y2="123.35" stroke="#333" stroke-width="0.6" />
<text x="179.30" y="124.65" font-size="3.8" font-weight="normal" text-anchor="end" font-family="'Liberation Sans', sans-serif" fill="#333" >5.0</text>
<line x1="181.10" y1="93.47" x2="182.60" y2="93.47" stroke="#333" stroke-width="0.6" />
<text x="179.30" y="94.77" font-size="3.8" font-weight="normal" text-anchor="end" font-family="'Liberation Sans', sans-serif" fill="#333" >7.5</text>
<line x1="181.10" y1="63.60" x2="182.60" y2="63.60" stroke="#333" stroke-width="0.6" />
<text x="179.30" y="64.90" font-size="3.8" font-weight="normal" text-anchor="end" font-family="'Liberation Sans', sans-serif" fill="#333" >10.0</text>
<line x1="184.50" y1="189.00" x2="184.50" y2="190.50" stroke="#333" stroke-width="0.6" />
<text x="184.50" y="194.50" font-size="3.8" font-weight="normal" text-anchor="middle" font-family="'Liberation Sans', sans-serif" fill="#333" >-10</text>
<line x1="230.00" y1="189.00" x2="230.00" y2="190.50" stroke="#333" stroke-width="0.6" />
<text x="230.00" y="194.50" font-size="3.8" font-weight="normal" text-anchor="middle" font-family="'Liberation Sans', sans-serif" fill="#333" >-5</text>
<line x1="275.50" y1="189.00" x2="275.50" y2="190.50" stroke="#333" stroke-width="0.6" />
<text x="275.50" y="194.50" font-size="3.8" font-weight="normal" text-anchor="middle" font-family="'Liberation Sans', sans-serif" fill="#333" >0</text>
<line x1="321.00" y1="189.00" x2="321.00" y2="190.50" stroke="#333" stroke-width="0.6" />
<text x="321.00" y="194.50" font-size="3.8" font-weight="normal" text-anchor="middle" font-family="'Liberation Sans', sans-serif" fill="#333" >5</text>
<text x="260.80" y="203.40" font-size="6.0" font-weight="bold" text-anchor="middle" font-family="'Liberation Sans', sans-serif" fill="#111" >log2(FC)</text>
<text x="0.00" y="0.00" font-size="6.0" font-weight="bold" text-anchor="middle" font-family="'Liberation Sans', sans-serif" fill="#111" transform="translate(165.00,122.75) rotate(-90)">-log10(pVal)</text>
<text x="447.50" y="19.50" font-size="12.1" font-weight="normal" text-anchor="middle" font-family="'Liberation Sans', sans-serif" fill="#1a1a1a" >Vit+MT vs Vit</text>
<text x="454.20" y="40.10" font-size="5.9" font-weight="normal" text-anchor="middle" font-family="'Liberation Sans', sans-serif" fill="#222" >Total Genes: 21,948</text>
<circle cx="396.50" cy="48.9" r="1.2" fill="#d6303f"/>
<text x="401.00" y="50.60" font-size="4.6" font-weight="normal" text-anchor="start" font-family="'Liberation Sans', sans-serif" fill="#333" >Sig_Up (173)</text>
<circle cx="437.40" cy="48.9" r="1.2" fill="#999"/>
<text x="441.90" y="50.60" font-size="4.6" font-weight="normal" text-anchor="start" font-family="'Liberation Sans', sans-serif" fill="#333" >NoDiff (21687)</text>
<circle cx="479.40" cy="48.9" r="1.2" fill="#2c64b4"/>
<text x="483.90" y="50.60" font-size="4.6" font-weight="normal" text-anchor="start" font-family="'Liberation Sans', sans-serif" fill="#333" >Sig_Down (88)</text>
<clipPath id="clipc"><rect x="373.6" y="57.2" width="161.39999999999998" height="131.8"/></clipPath>
<g clip-path="url(#clipc)">
<path d="M412.90,146.51 L413.43,148.04 L413.98,149.56 L414.53,151.08 L415.11,152.60 L415.69,154.12 L416.30,155.64 L416.92,157.16 L417.57,158.68 L418.24,160.20 L418.93,161.72 L419.65,163.24 L420.40,164.76 L421.19,166.28 L422.02,167.80 L422.89,169.32 L423.82,170.84 L424.82,172.36 L425.90,173.88 L427.08,175.40 L428.40,176.92 L429.92,178.44 L431.75,179.96 L434.20,181.48 L440.90,183.00 L440.90,183.00 L447.60,181.48 L450.05,179.96 L451.88,178.44 L453.40,176.92 L454.72,175.40 L455.90,173.88 L456.98,172.36 L457.98,170.84 L458.91,169.32 L459.78,167.80 L460.61,166.28 L461.40,164.76 L462.15,163.24 L462.87,161.72 L463.56,160.20 L464.23,158.68 L464.88,157.16 L465.50,155.64 L466.11,154.12 L466.69,152.60 L467.27,151.08 L467.82,149.56 L468.37,148.04 L468.90,146.51 L445.70,146.51 L440.90,177.53 L436.10,146.51Z" fill="#9a9a9a"/>
<path d="M456.5 176.3h0M399.9 157.3h0M402.5 161.8h0M441.6 183.4h0M435.8 177.7h0M475.7 156.7h0M464.4 171.7h0M455.2 179.6h0M416.3 162.8h0M431.4 176.3h0M437.6 172.4h0M423.7 155.4h0M486.5 147.3h0M434.7 177.7h0M463.4 155.6h0M438.5 171.8h0M432.4 170.1h0M430.1 153.9h0M459.0 160.7h0M423.2 176.4h0M436.3 177.8h0M477.1 164.4h0M484.2 158.8h0M424.1 176.9h0M444.9 164.8h0M431.2 178.4h0M437.1 164.4h0M433.6 178.2h0M448.7 161.4h0M455.6 165.2h0M391.7 147.0h0M412.3 154.6h0M450.3 154.8h0M429.0 159.6h0M458.5 160.6h0M458.2 165.3h0M448.4 164.8h0M445.5 166.0h0M423.3 169.3h0M466.9 174.1h0M421.2 163.0h0M413.9 147.4h0M459.3 152.8h0M408.9 149.2h0M444.5 165.2h0M463.1 154.2h0M423.6 153.9h0M436.6 181.0h0M393.8 146.8h0M449.2 162.1h0M430.7 179.4h0M464.6 161.3h0M458.9 174.6h0M478.9 161.0h0M437.5 179.0h0M402.4 160.0h0M401.8 163.0h0M428.2 180.4h0M430.2 181.6h0M416.0 176.1h0M446.8 180.8h0M428.9 181.6h0M431.4 153.5h0M421.9 172.9h0M431.3 162.4h0M432.1 175.7h0M426.9 149.3h0M445.2 165.2h0M463.0 167.6h0M475.4 158.4h0M438.6 164.1h0M468.7 159.4h0M445.5 181.8h0M420.4 170.8h0M395.6 148.1h0M473.6 153.5h0M416.8 177.0h0M486.3 147.4h0M448.5 156.5h0M438.1 182.5h0M424.9 167.8h0M442.0 183.1h0M449.2 176.4h0M425.0 170.8h0M422.4 168.3h0M448.1 159.0h0M460.3 150.1h0M458.8 165.9h0M400.7 156.2h0M406.8 167.3h0M451.0 182.0h0M425.1 149.2h0M460.5 160.7h0M439.6 179.6h0M454.6 180.1h0M456.0 154.5h0M428.9 181.9h0M444.9 162.3h0M446.2 170.6h0M404.3 153.8h0M436.5 158.7h0M460.5 172.7h0M426.1 180.1h0M434.7 164.6h0M460.8 173.5h0M464.8 161.9h0M408.9 163.6h0M446.3 167.5h0M396.2 157.7h0M412.6 163.6h0M433.6 173.8h0M443.8 168.8h0M447.7 150.6h0M438.8 173.5h0M444.8 181.8h0M412.7 169.9h0M428.0 181.3h0M459.1 150.6h0M474.7 152.5h0M460.6 166.5h0M469.9 164.3h0M438.4 176.0h0M468.0 161.5h0M409.4 159.2h0M418.8 161.6h0M445.7 171.8h0M453.5 172.8h0M413.4 158.0h0M449.5 165.7h0M436.6 163.7h0M469.7 156.9h0M425.4 150.3h0M463.3 152.3h0M454.6 164.9h0M437.5 164.7h0M427.3 163.5h0M455.7 160.1h0M465.5 164.7h0M450.5 176.2h0M441.9 182.7h0M448.8 174.7h0M443.1 177.2h0M421.1 176.8h0M419.4 177.9h0M451.5 180.5h0M399.9 159.2h0M449.9 147.2h0M473.8 152.1h0M452.2 168.7h0M436.2 176.2h0M416.1 151.4h0M438.2 173.3h0M435.3 174.5h0M473.4 167.4h0M453.1 163.7h0M424.0 149.4h0M475.2 165.3h0M438.7 183.0h0M464.2 151.2h0M407.3 157.8h0M446.6 158.3h0M474.7 161.4h0M406.1 159.0h0M431.3 152.5h0M419.1 174.8h0M470.7 160.0h0M425.0 166.5h0M429.3 169.0h0M432.5 174.4h0M416.6 151.6h0M445.8 173.6h0M426.2 153.3h0M442.6 178.1h0M475.7 148.3h0M433.5 180.9h0M445.0 175.0h0M412.4 167.7h0M444.7 182.6h0M421.2 167.3h0M405.6 168.2h0M448.3 159.4h0M399.5 148.4h0M434.5 175.9h0M459.6 162.4h0M447.6 182.0h0M437.3 181.1h0M435.8 147.8h0M432.3 154.6h0M438.7 174.8h0M464.0 147.6h0M424.9 147.3h0M447.2 175.5h0M454.7 181.1h0M418.6 148.9h0M433.2 155.0h0M455.9 169.5h0M467.1 171.5h0M456.0 175.5h0M427.7 169.3h0M441.6 183.2h0M435.1 176.0h0M440.2 182.5h0M444.2 163.7h0M439.8 183.4h0M456.4 179.5h0M450.1 154.1h0M422.0 172.8h0M444.0 180.2h0M419.9 174.3h0M393.2 147.1h0M456.7 153.4h0M445.5 155.7h0M415.1 158.5h0M426.7 173.7h0M477.3 155.1h0M414.2 164.1h0M466.8 156.9h0M433.5 166.3h0M444.9 170.8h0M451.3 150.6h0M432.7 149.8h0M453.7 147.6h0M466.8 164.5h0M417.1 172.2h0M417.9 146.9h0M464.0 163.7h0M437.4 170.5h0M409.4 154.6h0M430.7 178.3h0M444.3 175.5h0M462.6 168.6h0M442.7 177.5h0M432.6 179.7h0M459.7 168.5h0M422.3 171.9h0M445.2 174.2h0M404.3 157.6h0M437.6 177.8h0M421.1 166.5h0M445.9 167.1h0M416.1 176.2h0M438.4 166.9h0M470.6 162.7h0M420.2 147.4h0M446.1 182.7h0M455.7 160.9h0M469.0 152.9h0M453.3 178.2h0M459.6 153.6h0M451.1 173.5h0M464.0 171.9h0M403.4 165.9h0M408.3 148.5h0M456.0 149.5h0M471.0 171.9h0M422.3 155.7h0M457.3 170.7h0M465.1 156.3h0M458.0 160.2h0M417.8 154.5h0M431.1 154.0h0M448.1 178.1h0M430.2 180.5h0M478.2 160.7h0M404.7 156.1h0M427.6 172.0h0M429.0 176.1h0M416.8 170.8h0M466.1 169.7h0M411.2 151.2h0M444.8 182.9h0M437.9 177.8h0M414.6 149.1h0M397.9 153.0h0M433.0 150.4h0M442.4 175.5h0M428.6 181.5h0M448.0 174.2h0M439.9 178.0h0M455.0 180.2h0M455.2 153.1h0M438.7 178.2h0M410.1 153.0h0M441.3 181.2h0M416.5 154.5h0M447.0 170.8h0M472.3 162.2h0M407.5 162.6h0M426.3 149.6h0M471.9 151.2h0M463.5 163.7h0M431.8 176.2h0M425.9 159.9h0M438.3 163.7h0M437.2 158.7h0M481.0 154.4h0M434.0 154.1h0M468.4 152.1h0M449.4 180.1h0M472.2 166.8h0M470.0 159.3h0M468.2 161.7h0M417.8 170.8h0M435.3 182.7h0M395.9 147.4h0M469.3 163.8h0M461.3 174.0h0M447.7 176.1h0M423.7 172.5h0M435.7 181.3h0M427.1 163.5h0M467.0 158.4h0M473.8 150.9h0M435.9 160.3h0M461.9 162.2h0M465.9 152.6h0M416.1 166.5h0M450.2 169.3h0M453.1 160.3h0M438.7 180.5h0M406.3 164.2h0M425.8 177.5h0M435.1 171.5h0M413.5 167.5h0M451.0 166.0h0M433.8 182.5h0M436.8 179.5h0M445.5 170.1h0M453.9 177.1h0M438.0 180.3h0M444.2 182.3h0M435.9 169.0h0M467.0 152.4h0M429.0 162.9h0M460.8 169.7h0M445.6 178.3h0M465.8 165.6h0M449.7 174.0h0M435.6 159.9h0M405.6 150.8h0M458.1 161.7h0M424.4 173.1h0M437.2 175.1h0M407.0 162.3h0M405.0 148.5h0M415.7 161.4h0M479.3 156.1h0M410.8 165.0h0M480.3 157.0h0M438.6 165.5h0M438.6 171.3h0M449.6 172.9h0M428.9 180.1h0M451.7 167.1h0M449.4 162.0h0M468.8 174.5h0M440.8 183.3h0M438.1 164.9h0M434.4 171.0h0M434.0 181.7h0M413.3 154.1h0M478.4 161.6h0M425.3 166.0h0M451.6 182.0h0M429.9 158.6h0M455.8 174.4h0M446.6 182.1h0M461.7 154.3h0M443.7 167.9h0M441.1 180.3h0M453.4 176.3h0M427.4 152.0h0M396.6 151.6h0M449.2 156.1h0M445.4 174.6h0M433.0 177.0h0M453.4 163.7h0M468.5 160.5h0M450.1 158.5h0M454.9 174.3h0M461.6 161.6h0M435.7 159.7h0M445.2 170.6h0M402.9 162.6h0M408.5 151.1h0M453.4 175.8h0M417.3 153.1h0M394.2 151.7h0M439.5 183.4h0M452.9 181.0h0M459.7 163.9h0M445.6 160.8h0M427.0 178.8h0M425.0 165.0h0M405.8 147.1h0M471.3 165.2h0M490.2 148.4h0M464.4 154.0h0M478.8 162.1h0M448.0 150.3h0M407.3 160.0h0M438.2 182.7h0M471.9 169.5h0M452.3 174.5h0M434.6 182.5h0M438.3 176.0h0M453.5 153.7h0M434.6 175.7h0M463.3 157.4h0M480.4 148.7h0M424.1 167.4h0M414.4 159.5h0M436.3 162.0h0M446.6 178.9h0M471.2 161.9h0M454.6 167.2h0M417.3 160.2h0M415.8 167.4h0M435.5 166.9h0M432.5 168.1h0M426.4 169.6h0M442.4 179.0h0M435.7 179.1h0M420.0 154.7h0M479.8 156.8h0M434.0 177.0h0M406.6 147.7h0M411.5 171.0h0M428.9 175.5h0M439.6 183.2h0M414.3 172.6h0M453.5 148.4h0M423.2 176.4h0M447.0 172.8h0M429.4 157.0h0M438.0 165.6h0M434.1 163.5h0M444.0 180.5h0M450.7 156.6h0M484.6 147.4h0M450.9 153.5h0M460.8 172.1h0M458.5 147.9h0M412.8 159.5h0M466.6 171.7h0M461.1 150.2h0M424.5 148.5h0M412.7 156.0h0M425.5 159.3h0M452.1 162.6h0M471.5 148.4h0M440.7 179.3h0M420.6 154.4h0M411.2 147.5h0M394.4 155.6h0M445.6 182.5h0M414.7 153.1h0M453.0 147.1h0M461.1 167.1h0M402.4 149.0h0M465.5 171.1h0M428.3 153.7h0M465.3 157.3h0M431.0 174.8h0M439.0 172.0h0M466.4 168.2h0M450.1 180.2h0M439.4 181.2h0M437.5 172.2h0M428.3 157.6h0M410.1 148.6h0M437.8 169.0h0M421.4 171.3h0M458.3 153.4h0M432.2 169.4h0M453.0 177.6h0M445.7 182.8h0M427.9 175.9h0M435.1 171.1h0M418.8 149.9h0M453.5 179.1h0M421.1 164.0h0M445.9 180.5h0M457.2 164.7h0M458.2 158.1h0M431.8 165.8h0M454.4 161.5h0M420.3 167.6h0M407.6 163.1h0M461.0 154.6h0M425.2 149.3h0M408.7 169.1h0M425.1 158.5h0M459.9 173.7h0M417.0 149.0h0M445.7 149.8h0M470.8 161.6h0M434.3 146.9h0M425.0 175.6h0M445.2 151.9h0M442.0 183.3h0M449.5 149.8h0M425.1 167.9h0M435.9 170.9h0M415.9 175.1h0M399.9 158.3h0M423.2 177.3h0M459.5 157.9h0M458.9 162.0h0M410.5 147.7h0M448.3 167.1h0M458.7 157.2h0M472.7 149.0h0M464.9 155.8h0M456.6 163.8h0M452.2 162.4h0M478.4 147.1h0M434.1 174.8h0M438.9 180.6h0M439.1 167.3h0M422.5 158.1h0M445.4 180.4h0M449.8 178.1h0M431.8 149.9h0M412.1 165.5h0M453.0 175.6h0M418.0 163.0h0M435.7 181.5h0M439.9 173.3h0M468.1 163.8h0M420.9 167.2h0M399.7 151.6h0M465.8 158.7h0M438.8 173.4h0M461.6 176.8h0M421.2 174.1h0M416.8 168.1h0M432.3 178.4h0M432.8 172.1h0M421.2 159.4h0M453.0 177.4h0M431.1 171.5h0M416.8 151.6h0M480.8 153.6h0M430.6 169.4h0M442.0 182.1h0M395.9 151.9h0M438.5 169.1h0M449.0 167.9h0M423.1 169.8h0M419.4 160.6h0M452.4 180.4h0M416.6 172.2h0M461.7 165.1h0M430.4 179.9h0M429.9 179.7h0M432.6 182.1h0M436.7 157.4h0M449.5 164.9h0M422.0 149.2h0M438.2 163.5h0M422.4 161.0h0M433.5 180.1h0M412.0 169.3h0M402.5 162.3h0M450.8 173.8h0M453.6 174.5h0M462.1 150.9h0M435.1 180.2h0M428.9 150.1h0M420.4 167.9h0M432.4 180.6h0M449.1 165.5h0M469.3 158.5h0M456.8 167.8h0M429.2 181.2h0M424.3 173.8h0M449.3 167.7h0M425.0 173.9h0M415.7 164.1h0M458.9 173.9h0M428.6 175.9h0M431.5 179.6h0M477.2 148.6h0M465.2 155.3h0M472.3 157.0h0M450.7 177.4h0M444.0 180.6h0M433.9 170.1h0M452.6 176.3h0M448.4 181.4h0M423.9 179.8h0M437.8 173.3h0M445.8 156.0h0M474.7 164.9h0M448.7 173.2h0M445.2 178.0h0M439.5 178.2h0M462.2 159.7h0M448.9 182.3h0M457.4 176.0h0M441.6 178.1h0M450.5 151.8h0M391.5 148.6h0M432.9 167.1h0M459.4 163.6h0M447.7 165.7h0M422.5 173.6h0M426.7 166.3h0M421.2 159.2h0M428.5 162.4h0M467.1 159.5h0M450.7 162.9h0M433.5 164.6h0M462.5 160.3h0M454.2 181.0h0M420.3 176.9h0M402.0 156.3h0M452.0 155.4h0M454.8 150.6h0M435.0 182.8h0M462.1 175.5h0M402.6 160.8h0M445.5 180.4h0M430.0 149.9h0M449.5 148.5h0M446.9 167.0h0M451.0 160.7h0M458.4 158.4h0M430.0 164.3h0M455.7 181.2h0M451.2 176.5h0M425.5 150.7h0M416.4 169.5h0M434.1 180.5h0M443.3 178.9h0M463.2 171.3h0M425.3 171.4h0M468.9 149.3h0M410.6 165.2h0M444.9 180.6h0M446.8 175.6h0M427.0 154.8h0M413.8 169.3h0M483.6 155.5h0M433.4 158.3h0M438.6 183.0h0M425.1 163.4h0M446.8 170.3h0M445.1 171.5h0M483.1 148.5h0M437.2 181.9h0M427.8 167.6h0M458.7 172.4h0M441.3 183.4h0M447.7 159.9h0M434.6 177.5h0M425.2 158.8h0M488.5 154.2h0M430.4 155.4h0M452.2 168.3h0M472.3 153.3h0M466.0 172.0h0M474.3 156.4h0M400.8 151.5h0M422.1 171.3h0M466.1 170.5h0M412.4 159.3h0M426.5 164.0h0M464.7 165.6h0M456.8 176.5h0M429.3 175.7h0M436.5 179.3h0M438.8 182.2h0M403.3 165.4h0M429.6 181.4h0M464.1 173.0h0M437.0 182.6h0M454.2 156.5h0M412.9 162.9h0M459.4 176.3h0M437.2 183.0h0M427.5 176.3h0M461.4 150.9h0M467.2 166.1h0M394.0 148.1h0M463.7 148.7h0M433.9 182.5h0M437.3 161.7h0M457.5 165.6h0M474.8 150.1h0M454.3 180.9h0M469.9 150.5h0M457.2 148.3h0M457.7 165.5h0M439.7 178.9h0M434.6 182.5h0M433.1 169.7h0M460.9 148.9h0M460.8 172.4h0M444.2 182.6h0M455.1 178.6h0M437.6 162.0h0M414.4 164.8h0M483.7 151.9h0M449.6 148.0h0M436.4 158.6h0M440.7 182.1h0M430.9 160.0h0M423.1 168.7h0M474.0 148.7h0M456.3 159.8h0M413.4 163.2h0M400.2 159.5h0M460.6 171.8h0M418.3 177.4h0M431.7 168.3h0M419.1 176.5h0M398.0 149.4h0M453.5 174.2h0M416.0 165.8h0M462.4 165.7h0M393.4 148.5h0M446.6 169.3h0M482.1 159.4h0M446.8 182.3h0M458.7 170.4h0M435.3 158.8h0M427.9 174.7h0M433.1 165.2h0M407.1 155.0h0M434.6 181.9h0M418.2 174.1h0M469.5 168.9h0M451.1 153.3h0M403.4 159.5h0M412.2 170.5h0M437.0 158.4h0M441.1 182.9h0M447.6 181.7h0M465.5 157.5h0M464.3 166.3h0M464.3 166.7h0M416.9 165.5h0M442.8 168.9h0M429.9 164.1h0M453.0 171.3h0M454.4 180.7h0M447.9 176.1h0M426.6 159.4h0M436.8 181.2h0M420.5 174.7h0M474.3 158.0h0M467.5 165.6h0M424.1 161.8h0M450.3 181.5h0M395.7 152.8h0M467.2 155.8h0M423.1 155.0h0M445.5 181.5h0M424.3 165.9h0M431.1 177.4h0M403.9 149.2h0M423.4 160.1h0M444.7 166.6h0M436.9 171.0h0M438.1 170.3h0M436.1 182.4h0M441.5 175.0h0M446.2 182.4h0M487.1 149.5h0M425.8 153.3h0M425.1 165.8h0M450.5 155.7h0M449.4 154.7h0M411.9 153.5h0M426.5 148.8h0M445.0 182.5h0M451.9 163.2h0M434.5 175.1h0M437.4 172.2h0M460.0 152.2h0M406.5 155.0h0M419.3 173.1h0M425.5 169.7h0M449.3 168.7h0M421.7 161.8h0M435.8 161.1h0M484.2 148.2h0M444.3 161.3h0M444.8 166.3h0M460.4 150.8h0M485.3 150.9h0M476.5 151.8h0M432.8 164.5h0M392.8 147.9h0M445.5 168.9h0M419.5 160.1h0M421.7 165.4h0M419.8 149.0h0M409.2 160.0h0M444.5 170.8h0M425.4 179.6h0M423.1 150.5h0M454.2 168.2h0M417.0 164.1h0M432.2 175.4h0M442.4 180.1h0M439.7 182.0h0M483.4 158.8h0M466.2 154.9h0M443.3 166.1h0M424.1 159.3h0M419.8 176.5h0M426.4 172.3h0M454.0 177.8h0M420.8 163.5h0M431.9 158.4h0M463.9 155.5h0M445.6 149.8h0M404.1 159.2h0M429.9 163.8h0M435.6 179.0h0M456.8 172.9h0M470.2 165.5h0M444.6 172.3h0M425.8 157.2h0M462.9 176.5h0M411.3 167.8h0M464.6 160.2h0M405.1 158.3h0M460.4 177.1h0M416.7 151.3h0M422.0 177.7h0M409.0 160.8h0M474.5 150.4h0M411.6 157.6h0M433.7 156.6h0M426.1 178.6h0M439.6 176.8h0M480.3 155.6h0M462.8 146.9h0M432.0 164.2h0M460.4 153.4h0M459.9 161.4h0M446.0 181.1h0M429.1 147.2h0M467.1 150.4h0M446.5 179.9h0M430.6 168.5h0M438.9 179.1h0M402.2 148.3h0M460.8 164.5h0M456.0 171.1h0M441.3 183.0h0M427.4 165.9h0M411.7 150.2h0M456.0 161.2h0M427.9 165.4h0M454.4 170.9h0M443.9 177.9h0M462.1 155.6h0M415.2 174.9h0M419.2 164.3h0M466.8 155.4h0M483.9 152.5h0M443.1 179.0h0M456.0 164.0h0M450.7 167.2h0M454.3 170.2h0M416.8 160.5h0M460.7 157.8h0M418.2 173.7h0M439.7 172.4h0M418.4 150.1h0M453.5 157.8h0M445.1 182.0h0M427.6 149.9h0M440.9 179.4h0M399.9 147.6h0M422.4 168.1h0M464.6 159.5h0M419.9 168.0h0M482.8 149.0h0M478.6 147.6h0M472.7 150.8h0M424.3 149.8h0M479.8 153.3h0M401.7 153.6h0M407.7 161.2h0M449.0 148.1h0M407.1 163.9h0M462.8 157.8h0M415.3 172.4h0M431.0 159.7h0M461.4 153.2h0M409.9 168.3h0M448.6 153.2h0M409.2 158.5h0M414.0 152.4h0M425.6 154.3h0M453.8 178.4h0M417.9 163.8h0M453.1 181.0h0M415.0 151.6h0M447.3 179.6h0M444.6 168.9h0M428.7 156.2h0M469.6 155.0h0M471.6 151.5h0M464.5 172.4h0M406.2 154.9h0M447.1 152.7h0M452.9 177.8h0M426.3 166.7h0M423.9 155.7h0M415.2 168.8h0M439.8 180.5h0M447.4 169.3h0M436.9 175.7h0M434.2 173.8h0M461.9 177.4h0M434.5 158.9h0M414.5 154.2h0M393.8 151.9h0M453.4 164.5h0M446.3 180.6h0M412.6 158.0h0M400.4 155.7h0M449.4 177.9h0M395.1 150.4h0M433.7 162.5h0M476.0 165.1h0M455.7 164.4h0M425.2 165.2h0M457.9 156.5h0M465.2 150.2h0M458.1 152.8h0M451.9 173.7h0M459.2 164.5h0M408.8 153.6h0M449.2 156.3h0M425.1 166.5h0M434.8 178.9h0M445.2 155.7h0M437.7 161.9h0M421.4 174.0h0M422.8 163.2h0M443.3 172.1h0M465.9 171.8h0M431.7 182.3h0M455.1 179.7h0M425.4 178.3h0M422.9 164.5h0M442.4 179.4h0M420.0 170.8h0M447.5 150.5h0M460.7 150.1h0M422.8 177.7h0M440.6 182.9h0M447.8 181.9h0M468.8 160.5h0M442.7 178.2h0M418.8 163.5h0M454.4 151.4h0M461.9 162.4h0M417.1 160.7h0M426.4 154.2h0M476.2 156.5h0M442.4 177.9h0M444.8 179.6h0M419.0 147.4h0M451.4 176.7h0M475.3 152.3h0M403.8 155.6h0M405.1 155.5h0M457.3 150.8h0M446.9 177.0h0M414.6 164.9h0M490.2 149.7h0M435.1 181.1h0M440.0 180.6h0M472.0 154.4h0M396.0 149.4h0M452.8 148.3h0M426.7 169.3h0M416.0 168.8h0M437.6 168.7h0M427.0 174.2h0M456.1 172.4h0M459.0 177.2h0M438.5 177.9h0M468.3 173.1h0M428.7 171.5h0M400.9 156.8h0M455.2 166.7h0M424.3 154.1h0M455.7 163.2h0M464.8 159.2h0M419.5 156.6h0M396.8 152.9h0M448.0 174.3h0M426.5 178.3h0M434.0 177.5h0M445.9 173.8h0M428.6 181.2h0M401.2 153.2h0M471.3 169.2h0M428.1 171.5h0M462.6 164.0h0M457.8 152.4h0M432.9 159.6h0M430.6 170.4h0M431.6 157.2h0M421.2 156.0h0M448.3 163.2h0M468.5 171.2h0M448.6 156.9h0M414.0 155.4h0M420.2 163.2h0M428.9 158.1h0M448.6 174.6h0M455.5 173.6h0M473.1 148.5h0M390.6 147.1h0M438.2 181.8h0M401.7 158.7h0M419.3 151.2h0M395.2 147.4h0M426.2 175.6h0M449.5 181.7h0M466.8 153.8h0M419.2 150.1h0M458.7 179.2h0M408.0 159.3h0M444.0 182.0h0M439.4 172.0h0M399.2 148.4h0M459.0 150.4h0M431.1 153.6h0M405.9 147.6h0M471.6 163.4h0M440.1 175.2h0M456.5 176.5h0M451.8 167.4h0M422.7 175.9h0M433.1 151.5h0M444.6 159.8h0M444.7 177.2h0M418.4 154.8h0M444.0 165.5h0M420.5 151.6h0M410.5 153.3h0M455.4 181.2h0M425.7 161.0h0M451.9 156.8h0M456.4 167.9h0M439.5 178.0h0M464.0 151.8h0M411.2 149.8h0M433.9 181.9h0M402.5 159.0h0M459.0 169.6h0M447.7 155.6h0M433.8 153.9h0M434.6 166.9h0M486.2 151.9h0M470.7 152.8h0M449.8 177.8h0M425.2 169.0h0M435.7 170.9h0M419.8 161.5h0M427.6 147.5h0M453.9 159.8h0M419.9 174.4h0M472.9 148.5h0M446.6 171.6h0M422.6 164.1h0M450.1 177.5h0M435.9 177.7h0M428.3 168.0h0M462.4 169.9h0M430.8 181.8h0M443.9 182.2h0M447.3 174.0h0M406.5 164.1h0M409.0 170.1h0M484.0 151.4h0M444.1 183.3h0M454.5 162.3h0M419.5 152.4h0M467.8 166.5h0M482.7 161.5h0M450.9 165.1h0M404.2 163.5h0M417.7 160.2h0M445.5 163.6h0M427.3 179.6h0M417.6 150.9h0M426.9 166.6h0M415.3 162.0h0M419.8 154.5h0M430.3 180.1h0M419.6 175.0h0M416.8 167.4h0M434.7 156.5h0M445.7 173.9h0M435.0 183.0h0M425.8 155.9h0M418.2 164.9h0M426.3 155.9h0M424.6 153.2h0M414.4 174.2h0M456.9 165.9h0M476.4 157.2h0M427.5 179.7h0M432.5 160.1h0M443.4 168.5h0M413.0 163.2h0M450.2 150.1h0M454.4 179.7h0M414.3 164.4h0M447.6 161.8h0M477.7 166.0h0M399.3 156.3h0M443.8 175.4h0M432.7 177.9h0M482.5 148.3h0M419.7 172.2h0M442.9 176.2h0M444.8 182.9h0M479.9 157.0h0M415.4 174.1h0M416.0 154.9h0M450.3 168.2h0M424.5 165.9h0M423.5 154.2h0M465.2 164.8h0M474.1 151.0h0M424.4 175.4h0M421.5 153.2h0M444.5 173.9h0M429.0 178.6h0M448.7 165.8h0M459.2 166.6h0M430.2 174.2h0M453.8 173.0h0M464.6 151.7h0M447.3 166.8h0M472.0 164.4h0M423.7 170.2h0M436.5 182.4h0M457.0 156.6h0M448.0 166.3h0M447.8 177.6h0M448.5 176.8h0M453.3 151.5h0M421.8 162.3h0M436.9 182.5h0M441.4 182.2h0M428.1 156.9h0M428.2 154.2h0M452.2 180.1h0M415.3 154.0h0M454.8 158.9h0M471.0 162.9h0M417.8 168.1h0M420.8 159.2h0M432.5 157.8h0M447.3 147.9h0M429.8 163.4h0M423.8 163.3h0M454.0 180.5h0M442.9 183.4h0M468.6 159.7h0M481.2 153.5h0M473.7 158.0h0M432.2 170.8h0M476.3 164.0h0M405.4 157.9h0M418.0 174.4h0M430.0 178.7h0M433.3 177.8h0M441.8 178.2h0M449.6 153.0h0M429.5 172.8h0M459.2 147.3h0M466.4 169.9h0M468.0 152.2h0M402.4 163.4h0M436.5 176.2h0M445.6 177.6h0M463.0 177.0h0M437.6 157.6h0M426.0 149.4h0M449.9 180.5h0M410.5 168.6h0M429.6 164.9h0M479.0 151.2h0M429.3 154.1h0M449.7 162.6h0M438.4 172.0h0M444.1 181.3h0M477.9 156.4h0M459.7 166.9h0M468.3 158.8h0M432.9 152.6h0M436.5 183.0h0M440.8 183.3h0M426.2 147.1h0M444.7 169.7h0M447.5 175.2h0M446.9 170.9h0M430.3 174.8h0M456.3 171.3h0M460.9 152.4h0M430.4 180.1h0M448.8 165.8h0M433.9 170.5h0M468.0 162.4h0M485.0 157.6h0M414.8 164.4h0M430.0 166.8h0M430.6 149.0h0M428.0 155.4h0M436.6 177.3h0M423.3 170.5h0M452.6 174.9h0M450.0 149.8h0M449.9 180.4h0M467.2 166.8h0M472.2 163.6h0M472.0 153.0h0M450.1 168.1h0M458.6 151.3h0M419.5 172.4h0M452.3 164.8h0M440.0 175.3h0M416.7 157.4h0M415.7 161.7h0M419.0 175.8h0M468.1 173.0h0M462.1 161.9h0M395.2 151.2h0M471.8 164.4h0M477.9 155.8h0M450.5 150.0h0M434.1 157.1h0M459.1 149.9h0M447.6 172.3h0M419.8 169.9h0M486.4 149.1h0M411.8 172.2h0M417.0 156.5h0M419.4 163.4h0M446.4 157.8h0M445.1 182.3h0M422.8 162.0h0M462.8 158.0h0M488.6 150.6h0M455.6 147.3h0M464.5 155.5h0M459.6 154.8h0M439.6 175.6h0M434.6 180.4h0M421.0 150.0h0M427.2 175.2h0M455.0 178.6h0M448.8 175.0h0M477.0 147.4h0M467.3 153.1h0M475.9 151.6h0M476.7 151.3h0M478.6 155.1h0M453.8 176.0h0M467.1 169.0h0M468.5 160.8h0M453.2 158.3h0M437.3 158.1h0M458.9 171.6h0M414.5 168.4h0M429.6 152.5h0M448.3 159.0h0M466.2 171.5h0M403.8 148.7h0M437.7 168.9h0M423.4 165.5h0M447.1 164.1h0M415.1 167.9h0M446.2 169.3h0M459.0 168.5h0M431.3 170.0h0M429.4 177.4h0M427.2 161.8h0M439.1 183.3h0M475.4 150.9h0M469.2 151.3h0M474.5 163.1h0M447.2 175.8h0M428.9 160.8h0M420.6 178.3h0M425.3 158.3h0M429.9 147.8h0M446.9 177.5h0M391.3 147.3h0M427.9 157.7h0M441.1 181.6h0M464.9 176.6h0M446.4 162.1h0M460.6 156.2h0M461.1 153.6h0M469.9 156.5h0M473.6 169.9h0M451.8 161.1h0M412.6 167.6h0M461.0 170.3h0M442.7 168.9h0M432.7 173.5h0M439.7 173.2h0M411.6 169.2h0M414.7 156.7h0M430.3 155.7h0M414.5 165.8h0M441.5 182.9h0M452.4 163.6h0M454.3 161.1h0M425.2 166.9h0M460.9 153.7h0M461.4 178.1h0M447.3 173.1h0M425.2 165.0h0M450.6 148.8h0M461.7 160.7h0M448.3 181.6h0M452.2 178.4h0M435.3 161.2h0M447.2 170.0h0M423.1 152.1h0M445.7 153.2h0M432.3 166.3h0M445.9 156.0h0M415.0 167.9h0M469.8 151.5h0M441.7 179.7h0M444.2 167.5h0M432.6 180.3h0M449.7 148.7h0M442.4 182.9h0M466.5 163.5h0M452.9 149.3h0M456.5 175.5h0M424.1 177.0h0M448.7 176.5h0M437.3 165.4h0M406.9 147.2h0M425.2 176.0h0M456.2 159.6h0M436.9 182.4h0M423.5 158.8h0M457.6 159.4h0M448.2 153.4h0M456.6 152.9h0M488.6 147.5h0M425.4 157.7h0M436.1 156.2h0M452.9 179.3h0M460.2 175.6h0M412.4 154.0h0M416.8 158.7h0M420.1 175.4h0M409.2 147.0h0M446.9 161.8h0M469.8 156.5h0M426.4 158.0h0M434.6 178.7h0M408.9 166.2h0M424.8 151.3h0M454.2 166.2h0M424.2 166.4h0M427.0 180.1h0M434.2 180.1h0M437.3 171.3h0M420.4 158.1h0M448.3 155.3h0M420.0 159.7h0M462.2 165.2h0M452.9 173.4h0M466.2 153.6h0M470.0 163.8h0M436.2 179.3h0M462.5 156.1h0M436.7 167.2h0M466.7 175.6h0M445.3 182.5h0M439.4 182.5h0M422.1 173.7h0M451.4 153.9h0M449.8 171.6h0M432.9 173.0h0M429.3 148.0h0M438.5 170.4h0M444.6 163.6h0M458.9 169.5h0M424.5 179.0h0M458.2 161.6h0M453.7 152.9h0M407.3 162.9h0M432.1 181.0h0M402.0 149.7h0M468.7 169.2h0M451.0 162.4h0M443.1 177.4h0M449.0 173.8h0M462.8 172.6h0M451.3 158.9h0M447.9 175.5h0M472.7 149.1h0M417.2 162.9h0M421.5 148.8h0M432.7 152.8h0M452.3 179.2h0M450.8 163.6h0M454.2 171.7h0M443.0 180.2h0M424.7 174.8h0M428.4 171.1h0M449.7 177.2h0M412.1 147.3h0M431.5 176.7h0M453.6 159.6h0M448.7 162.3h0M421.4 167.9h0M405.1 154.0h0M456.4 152.7h0M448.0 166.2h0M431.8 176.7h0M469.7 166.4h0M411.5 168.3h0M428.8 180.9h0M427.8 173.9h0M449.8 177.7h0M428.5 154.5h0M459.1 160.5h0M433.2 163.3h0M420.8 158.7h0M422.9 179.3h0M389.6 148.0h0M431.1 181.8h0M434.7 174.6h0M442.8 178.6h0M411.5 168.7h0M473.7 152.1h0M476.8 148.8h0M413.4 172.1h0M442.7 183.0h0M451.6 173.2h0M425.5 158.5h0M459.5 174.4h0M419.6 175.8h0M431.2 160.4h0M471.9 157.6h0M477.0 165.5h0M429.3 149.1h0M451.7 181.7h0M417.3 151.6h0M407.1 162.6h0M418.3 147.1h0M437.3 167.8h0M458.3 172.7h0M423.7 167.3h0M444.2 173.2h0M423.4 154.7h0M410.3 151.4h0M411.1 169.9h0M473.9 157.2h0M457.5 162.2h0M435.4 166.3h0M447.8 181.0h0M422.2 161.1h0M482.9 159.7h0M433.6 181.7h0M429.2 162.3h0M432.7 178.0h0M454.7 174.5h0M445.1 176.7h0M417.1 152.9h0M440.5 178.2h0M444.3 178.1h0M473.7 153.4h0M477.7 160.5h0M432.4 182.5h0M448.6 166.8h0M437.8 178.9h0M460.9 171.1h0M448.9 156.8h0M418.7 170.6h0M420.0 152.3h0M456.8 170.1h0M467.8 159.1h0M439.8 179.2h0M446.9 182.0h0M416.1 167.9h0M444.9 180.0h0M423.8 172.1h0M415.7 163.2h0M412.2 171.5h0M425.3 165.0h0M423.7 155.6h0M415.5 162.4h0M424.9 176.9h0M469.5 167.0h0M440.6 178.6h0M454.5 150.7h0M415.6 147.3h0M443.4 183.1h0M437.2 182.9h0M477.1 158.0h0M471.4 172.0h0M403.2 149.6h0M425.4 168.2h0M424.5 150.1h0M449.5 181.2h0M444.2 163.2h0M430.1 178.6h0M471.5 158.2h0M411.6 162.4h0M445.0 173.0h0M435.2 179.3h0M458.5 176.7h0M445.7 181.8h0M433.3 165.3h0M423.6 163.1h0M445.1 172.2h0M427.3 178.4h0M439.4 175.1h0M426.7 152.9h0M452.4 161.8h0M451.0 169.5h0M428.1 174.2h0M450.2 171.4h0M451.2 172.8h0M466.2 155.4h0M475.4 158.6h0M422.8 178.9h0M452.0 148.2h0M414.6 158.5h0M429.0 162.5h0M473.7 151.2h0M418.6 153.1h0M456.3 156.6h0M403.4 165.1h0M432.1 176.1h0M432.4 154.5h0M442.9 171.7h0M449.9 172.3h0M446.0 181.1h0M420.4 171.0h0M407.8 166.2h0M445.2 155.9h0M460.2 175.3h0M447.8 151.3h0M449.2 175.9h0M422.0 167.2h0M442.0 181.3h0M436.3 152.2h0M474.3 159.0h0M439.8 172.0h0M431.2 179.0h0M411.5 151.5h0M457.0 159.4h0M405.4 157.8h0M467.0 172.8h0M426.5 174.7h0M425.1 168.0h0M457.8 155.2h0M425.6 160.6h0M419.6 177.6h0M404.8 157.1h0M451.1 181.0h0M471.5 160.6h0M445.7 153.2h0M439.3 183.2h0M447.3 179.6h0M459.6 157.4h0M464.3 160.0h0M433.1 169.8h0M450.7 163.1h0M444.3 178.5h0M443.9 162.6h0M442.5 183.3h0M410.8 147.6h0M434.7 163.3h0M446.6 149.8h0M430.4 171.9h0M436.8 179.9h0M436.8 158.8h0M454.5 179.5h0M407.7 160.9h0M456.9 155.1h0M445.0 155.2h0M451.0 178.6h0M445.5 149.9h0M402.5 164.2h0M427.3 151.5h0M439.1 182.5h0M465.1 173.4h0M443.8 180.7h0M427.1 168.8h0M456.6 158.4h0M424.8 177.0h0M448.3 170.9h0M438.8 175.4h0M453.9 158.5h0M450.8 178.0h0M408.6 165.0h0M440.4 182.2h0M442.8 169.7h0M422.3 154.0h0M436.9 162.9h0M482.5 151.4h0M429.0 158.8h0M462.3 152.1h0M440.7 183.3h0M463.2 158.7h0M432.3 156.3h0M429.8 165.7h0M440.6 182.4h0M450.8 176.7h0M466.6 164.2h0M481.7 160.3h0M425.9 175.2h0M426.6 160.6h0M425.3 178.3h0M415.9 169.5h0M465.3 169.9h0M434.9 179.6h0M440.5 183.0h0M451.6 180.7h0M452.9 170.1h0M421.6 177.0h0M448.7 169.9h0M461.0 151.2h0M465.7 154.7h0M442.2 176.1h0M443.4 182.4h0M425.4 160.5h0M433.4 181.7h0M443.9 170.4h0M454.8 160.8h0M440.6 183.0h0M434.6 174.8h0M407.0 166.2h0M413.1 174.4h0M442.7 177.7h0M462.1 156.5h0M433.4 174.9h0M434.0 180.5h0M422.5 149.1h0M434.0 178.2h0M423.7 170.0h0M411.6 167.1h0M456.9 163.0h0M426.7 151.9h0M423.4 149.2h0M458.3 177.6h0M438.5 168.2h0M466.9 165.0h0M435.5 177.2h0M428.6 152.5h0M473.7 160.6h0M455.1 173.7h0M440.8 181.0h0M421.5 174.3h0M428.4 181.6h0M460.0 175.7h0M421.6 171.5h0M414.6 153.1h0M472.9 152.4h0M414.8 172.3h0M456.5 169.2h0M427.8 146.8h0M419.3 164.3h0M458.6 147.6h0M434.1 178.1h0M484.0 149.0h0M436.8 169.7h0M449.7 160.1h0M487.3 153.5h0M467.0 148.6h0M449.4 181.5h0M424.8 148.3h0M458.7 170.7h0M445.1 176.4h0M441.1 181.5h0M434.5 180.4h0M405.6 155.7h0M441.8 173.2h0M457.5 176.0h0M434.1 174.9h0M432.2 161.9h0" stroke="#9a9a9a" stroke-width="1.7" stroke-linecap="round" fill="none"/>
<path d="M455.5 144.6h0M466.2 144.4h0M460.6 132.7h0M462.9 138.0h0M470.3 138.9h0M468.6 139.5h0M459.0 123.4h0M465.9 126.7h0M458.0 143.1h0M450.3 143.1h0M451.3 142.8h0M459.3 143.9h0M466.3 145.3h0M462.3 140.5h0M452.1 127.6h0M455.4 141.2h0M458.7 143.6h0M451.6 133.6h0M451.9 143.6h0M452.2 133.2h0M466.4 130.5h0M467.6 143.0h0M451.6 118.2h0M448.4 142.7h0M465.2 127.5h0M468.0 140.9h0M461.2 136.4h0M458.2 135.6h0M459.2 141.1h0M448.1 135.1h0M465.4 138.1h0M467.7 142.3h0M458.3 130.6h0M467.0 143.2h0M457.0 142.7h0M459.6 136.0h0M449.6 133.0h0M461.9 143.2h0M452.2 135.0h0M463.0 122.6h0M451.4 132.0h0M464.5 132.2h0M468.7 136.5h0M447.8 128.8h0M458.9 138.7h0M447.8 133.1h0M448.3 126.4h0M450.5 142.9h0M452.1 137.0h0M459.9 144.0h0M458.0 145.1h0M463.8 132.7h0M463.2 143.7h0M451.9 137.1h0M452.1 144.6h0M450.6 141.6h0M450.0 136.8h0M448.2 131.2h0M459.2 130.1h0M448.3 141.3h0M462.1 135.4h0M450.6 142.5h0M470.6 139.2h0M461.7 133.2h0M463.9 138.5h0M450.1 140.9h0M457.1 140.3h0M469.1 138.7h0M463.1 141.1h0M460.7 145.8h0M453.8 135.2h0M457.3 130.4h0M469.8 139.5h0M463.2 140.6h0M457.0 132.9h0M462.9 124.8h0M456.2 132.6h0M454.5 130.2h0M459.8 128.7h0M451.3 131.2h0M450.4 141.1h0M450.7 118.7h0M451.3 129.7h0M453.2 131.3h0M466.4 138.4h0M456.7 145.2h0M449.5 119.0h0M468.8 126.0h0M468.4 139.0h0M462.9 143.1h0M470.4 132.8h0M468.0 137.0h0M465.8 145.2h0M454.5 144.3h0M456.5 140.8h0M487.3 140.7h0M492.1 141.8h0M488.1 143.7h0M489.5 139.2h0M494.8 141.2h0M494.7 138.5h0M492.4 145.3h0M491.6 145.9h0M489.7 142.8h0M485.8 144.5h0M500.2 144.2h0M500.0 127.6h0M498.7 136.4h0M497.5 143.3h0M485.2 142.0h0M494.6 140.7h0M491.2 138.6h0M498.6 141.5h0M493.3 137.6h0M488.6 145.5h0M486.7 137.2h0M497.7 136.4h0M498.2 136.5h0M488.4 144.9h0M485.3 145.6h0M498.2 144.8h0M494.1 143.5h0M493.3 141.7h0M496.1 132.6h0M489.9 140.5h0M496.6 139.2h0M486.5 145.1h0M493.8 140.1h0M485.4 144.7h0M498.8 140.9h0M494.4 144.6h0M490.3 136.5h0M490.9 139.9h0M496.1 142.6h0M491.3 140.2h0M488.2 139.8h0M496.1 144.8h0M497.0 132.0h0M488.8 144.1h0M497.1 139.6h0M497.5 143.0h0M499.3 136.8h0M486.0 145.2h0M497.6 137.7h0M489.7 145.7h0M497.2 128.1h0M487.9 143.0h0M493.0 145.9h0M499.9 139.8h0M496.4 140.1h0M472.4 124.2h0M479.3 122.7h0M479.5 134.6h0M478.7 133.0h0M473.1 130.7h0M476.5 129.3h0M485.5 140.9h0M473.6 136.9h0M488.5 126.9h0M475.5 140.5h0M478.8 128.4h0M480.8 143.6h0M486.3 139.1h0M480.6 122.4h0M485.7 143.1h0M473.0 134.5h0M470.1 137.7h0M488.6 143.5h0M483.4 134.4h0M471.0 141.9h0M488.1 136.1h0M484.4 122.2h0M478.1 140.7h0M478.4 129.3h0M484.5 121.7h0M454.6 62.0h0M461.5 87.6h0M453.5 97.3h0M526.5 83.9h0M506.0 105.0h0M504.9 108.1h0M503.7 111.0h0M472.9 112.4h0M490.0 118.1h0M493.4 118.1h0M500.3 120.9h0M502.6 115.2h0" stroke="#d8344a" stroke-width="2.0" stroke-linecap="round" fill="none"/>
<path d="M423.5 145.4h0M423.4 137.3h0M427.6 135.7h0M424.5 144.7h0M420.4 140.2h0M422.0 140.2h0M432.8 138.2h0M426.0 138.9h0M433.8 135.9h0M427.0 144.8h0M432.6 138.6h0M430.2 144.2h0M420.6 144.4h0M428.9 139.6h0M424.3 137.2h0M426.5 141.1h0M417.3 141.9h0M431.3 140.7h0M420.3 133.8h0M433.4 141.7h0M432.2 137.4h0M420.9 140.1h0M429.3 137.4h0M433.5 138.7h0M433.6 140.4h0M430.7 138.3h0M423.6 145.0h0M433.1 141.0h0M422.9 143.5h0M423.4 139.5h0M422.6 144.3h0M426.7 145.6h0M420.8 140.9h0M430.9 138.7h0M418.7 144.9h0M420.7 136.4h0M427.9 139.2h0M429.3 141.5h0M422.3 140.3h0M419.9 140.7h0M427.6 140.3h0M428.6 136.7h0M423.3 142.2h0M428.7 144.2h0M427.9 141.5h0M414.9 133.6h0M416.7 135.3h0M395.8 140.1h0M391.9 139.3h0M396.1 140.4h0M411.6 142.1h0M395.2 143.6h0M408.8 143.3h0M401.1 137.2h0M402.8 140.6h0M400.7 142.4h0M401.1 139.2h0M392.2 141.2h0M395.2 141.9h0M404.5 134.9h0M408.7 140.0h0M406.2 133.1h0M399.9 138.9h0M400.6 145.7h0M401.2 138.0h0M400.4 135.9h0M385.9 143.5h0M388.4 144.3h0M404.8 142.8h0M397.8 140.2h0M411.7 136.2h0M405.9 143.8h0M392.9 99.3h0M413.5 97.3h0M410.1 110.7h0M427.2 123.8h0M422.6 125.2h0M388.4 132.3h0M404.4 135.1h0M384.9 129.4h0" stroke="#2c62b2" stroke-width="2.0" stroke-linecap="round" fill="none"/>
</g>
<line x1="373.60" y1="146.51" x2="535.00" y2="146.51" stroke="#222" stroke-width="0.7" stroke-dasharray="1.6,1.2"/>
<line x1="440.90" y1="57.20" x2="440.90" y2="189.00" stroke="#222" stroke-width="0.7" stroke-dasharray="1.6,1.2"/>
<rect x="373.6" y="57.2" width="161.39999999999998" height="131.8" fill="none" stroke="#333" stroke-width="1"/>
<line x1="372.10" y1="183.50" x2="373.60" y2="183.50" stroke="#333" stroke-width="0.6" />
<text x="370.30" y="184.80" font-size="3.8" font-weight="normal" text-anchor="end" font-family="'Liberation Sans', sans-serif" fill="#333" >0</text>
<line x1="372.10" y1="155.05" x2="373.60" y2="155.05" stroke="#333" stroke-width="0.6" />
<text x="370.30" y="156.35" font-size="3.8" font-weight="normal" text-anchor="end" font-family="'Liberation Sans', sans-serif" fill="#333" >1</text>
<line x1="372.10" y1="126.60" x2="373.60" y2="126.60" stroke="#333" stroke-width="0.6" />
<text x="370.30" y="127.90" font-size="3.8" font-weight="normal" text-anchor="end" font-family="'Liberation Sans', sans-serif" fill="#333" >2</text>
<line x1="372.10" y1="98.15" x2="373.60" y2="98.15" stroke="#333" stroke-width="0.6" />
<text x="370.30" y="99.45" font-size="3.8" font-weight="normal" text-anchor="end" font-family="'Liberation Sans', sans-serif" fill="#333" >3</text>
<line x1="372.10" y1="69.70" x2="373.60" y2="69.70" stroke="#333" stroke-width="0.6" />
<text x="370.30" y="71.00" font-size="3.8" font-weight="normal" text-anchor="end" font-family="'Liberation Sans', sans-serif" fill="#333" >4</text>
<line x1="383.80" y1="189.00" x2="383.80" y2="190.50" stroke="#333" stroke-width="0.6" />
<text x="383.80" y="194.50" font-size="3.8" font-weight="normal" text-anchor="middle" font-family="'Liberation Sans', sans-serif" fill="#333" >-5</text>
<line x1="440.90" y1="189.00" x2="440.90" y2="190.50" stroke="#333" stroke-width="0.6" />
<text x="440.90" y="194.50" font-size="3.8" font-weight="normal" text-anchor="middle" font-family="'Liberation Sans', sans-serif" fill="#333" >0</text>
<line x1="498.00" y1="189.00" x2="498.00" y2="190.50" stroke="#333" stroke-width="0.6" />
<text x="498.00" y="194.50" font-size="3.8" font-weight="normal" text-anchor="middle" font-family="'Liberation Sans', sans-serif" fill="#333" >5</text>
<text x="454.30" y="203.40" font-size="6.0" font-weight="bold" text-anchor="middle" font-family="'Liberation Sans', sans-serif" fill="#111" >log2(FC)</text>
<text x="0.00" y="0.00" font-size="6.0" font-weight="bold" text-anchor="middle" font-family="'Liberation Sans', sans-serif" fill="#111" transform="translate(360.60,123.10) rotate(-90)">-log10(pVal)</text>
<text x="41.00" y="231.80" font-size="12.1" font-weight="normal" text-anchor="middle" font-family="'Liberation Sans', sans-serif" fill="#1a1a1a" >Vit vs Fresh</text>
<text x="160.00" y="231.80" font-size="12.5" font-weight="normal" text-anchor="middle" font-family="'Liberation Sans', sans-serif" fill="#1a1a1a" >Vit+MT vs Vit</text>
<circle cx="71.5" cy="286.7" r="52.3" fill="#fdd390"/>
<circle cx="124.5" cy="286.6" r="52.4" fill="#dd9ef8"/>
<clipPath id="vl"><circle cx="71.5" cy="286.7" r="52.3"/></clipPath>
<circle cx="124.5" cy="286.6" r="52.4" fill="#d492ce" clip-path="url(#vl)"/>
<text x="45.70" y="291.10" font-size="12.5" font-weight="normal" text-anchor="middle" font-family="'Liberation Serif', serif" fill="#1a1a1a" >1013</text>
<text x="97.40" y="291.10" font-size="12.5" font-weight="normal" text-anchor="middle" font-family="'Liberation Serif', serif" fill="#1a1a1a" >41</text>
<text x="151.00" y="291.10" font-size="12.5" font-weight="normal" text-anchor="middle" font-family="'Liberation Serif', serif" fill="#1a1a1a" >220</text>
<polyline points="97.4,320.5 97.4,347.8 201,347.8" fill="none" stroke="#222" stroke-width="1"/>
<rect x="201.00" y="215.80" width="333.60" height="13.30" fill="#fab50c" />
<rect x="201.00" y="229.10" width="333.60" height="14.86" fill="#fce5d1" />
<text x="230.50" y="240.23" font-size="7.1" font-weight="normal" text-anchor="middle" font-family="'Liberation Serif', serif" fill="#0d0d0d" >ATP8</text>
<text x="289.25" y="240.23" font-size="7.1" font-weight="normal" text-anchor="middle" font-family="'Liberation Serif', serif" fill="#0d0d0d" >808253</text>
<text x="426.55" y="240.23" font-size="7.1" font-weight="normal" text-anchor="middle" font-family="'Liberation Serif', serif" fill="#0d0d0d" >ATP synthase F0 subunit 8</text>
<rect x="201.00" y="243.96" width="333.60" height="14.86" fill="#fef3ea" />
<text x="230.50" y="255.09" font-size="7.1" font-weight="normal" text-anchor="middle" font-family="'Liberation Serif', serif" fill="#0d0d0d" >FAU</text>
<text x="289.25" y="255.09" font-size="7.1" font-weight="normal" text-anchor="middle" font-family="'Liberation Serif', serif" fill="#0d0d0d" >101106472</text>
<text x="426.55" y="255.09" font-size="7.1" font-weight="normal" text-anchor="middle" font-family="'Liberation Serif', serif" fill="#0d0d0d" >FAU ubiquitin like and ribosomal protein S30 fusion</text>
<rect x="201.00" y="258.82" width="333.60" height="14.86" fill="#fce5d1" />
<text x="230.50" y="269.95" font-size="7.1" font-weight="normal" text-anchor="middle" font-family="'Liberation Serif', serif" fill="#0d0d0d" >FST</text>
<text x="289.25" y="269.95" font-size="7.1" font-weight="normal" text-anchor="middle" font-family="'Liberation Serif', serif" fill="#0d0d0d" >443323</text>
<text x="426.55" y="269.95" font-size="7.1" font-weight="normal" text-anchor="middle" font-family="'Liberation Serif', serif" fill="#0d0d0d" >Follistatin</text>
<rect x="201.00" y="273.68" width="333.60" height="14.86" fill="#fef3ea" />
<text x="230.50" y="284.81" font-size="7.1" font-weight="normal" text-anchor="middle" font-family="'Liberation Serif', serif" fill="#0d0d0d" >NACA</text>
<text x="289.25" y="284.81" font-size="7.1" font-weight="normal" text-anchor="middle" font-family="'Liberation Serif', serif" fill="#0d0d0d" >101105899</text>
<text x="426.55" y="284.81" font-size="7.1" font-weight="normal" text-anchor="middle" font-family="'Liberation Serif', serif" fill="#0d0d0d" >Nascent polypeptide associated complex subunit alpha</text>
<rect x="201.00" y="288.54" width="333.60" height="14.86" fill="#fce5d1" />
<text x="230.50" y="299.67" font-size="7.1" font-weight="normal" text-anchor="middle" font-family="'Liberation Serif', serif" fill="#0d0d0d" >LAMTOR2</text>
<text x="289.25" y="299.67" font-size="7.1" font-weight="normal" text-anchor="middle" font-family="'Liberation Serif', serif" fill="#0d0d0d" >101122907</text>
<text x="426.55" y="299.67" font-size="7.1" font-weight="normal" text-anchor="middle" font-family="'Liberation Serif', serif" fill="#0d0d0d" >Late endosomal/lysosomal adaptor, MAPK and MTOR activator 2</text>
<rect x="201.00" y="303.40" width="333.60" height="14.86" fill="#fef3ea" />
<text x="230.50" y="314.53" font-size="7.1" font-weight="normal" text-anchor="middle" font-family="'Liberation Serif', serif" fill="#0d0d0d" >ND4L</text>
<text x="289.25" y="314.53" font-size="7.1" font-weight="normal" text-anchor="middle" font-family="'Liberation Serif', serif" fill="#0d0d0d" >808256</text>
<text x="426.55" y="314.53" font-size="7.1" font-weight="normal" text-anchor="middle" font-family="'Liberation Serif', serif" fill="#0d0d0d" >NADH dehydrogenase subunit 4L</text>
<rect x="201.00" y="318.26" width="333.60" height="14.86" fill="#fce5d1" />
<text x="230.50" y="329.39" font-size="7.1" font-weight="normal" text-anchor="middle" font-family="'Liberation Serif', serif" fill="#0d0d0d" >SPP1</text>
<text x="289.25" y="329.39" font-size="7.1" font-weight="normal" text-anchor="middle" font-family="'Liberation Serif', serif" fill="#0d0d0d" >443058</text>
<text x="426.55" y="329.39" font-size="7.1" font-weight="normal" text-anchor="middle" font-family="'Liberation Serif', serif" fill="#0d0d0d" >Secreted phosphoprotein 1</text>
<rect x="201.00" y="333.12" width="333.60" height="14.86" fill="#fef3ea" />
<text x="230.50" y="344.25" font-size="7.1" font-weight="normal" text-anchor="middle" font-family="'Liberation Serif', serif" fill="#0d0d0d" >EMD</text>
<text x="289.25" y="344.25" font-size="7.1" font-weight="normal" text-anchor="middle" font-family="'Liberation Serif', serif" fill="#0d0d0d" >101109247</text>
<text x="426.55" y="344.25" font-size="7.1" font-weight="normal" text-anchor="middle" font-family="'Liberation Serif', serif" fill="#0d0d0d" >Emerin</text>
<line x1="201.00" y1="243.96" x2="534.60" y2="243.96" stroke="#ffffff" stroke-width="0.6" />
<line x1="201.00" y1="258.82" x2="534.60" y2="258.82" stroke="#ffffff" stroke-width="0.6" />
<line x1="201.00" y1="273.68" x2="534.60" y2="273.68" stroke="#ffffff" stroke-width="0.6" />
<line x1="201.00" y1="288.54" x2="534.60" y2="288.54" stroke="#ffffff" stroke-width="0.6" />
<line x1="201.00" y1="303.40" x2="534.60" y2="303.40" stroke="#ffffff" stroke-width="0.6" />
<line x1="201.00" y1="318.26" x2="534.60" y2="318.26" stroke="#ffffff" stroke-width="0.6" />
<line x1="201.00" y1="333.12" x2="534.60" y2="333.12" stroke="#ffffff" stroke-width="0.6" />
<line x1="201.00" y1="347.98" x2="534.60" y2="347.98" stroke="#ffffff" stroke-width="0.6" />
<line x1="260.00" y1="215.80" x2="260.00" y2="347.98" stroke="#ffffff" stroke-width="0.8" />
<line x1="318.50" y1="215.80" x2="318.50" y2="347.98" stroke="#ffffff" stroke-width="0.8" />
<text x="230.50" y="226.05" font-size="6.0" font-weight="bold" text-anchor="middle" font-family="'Liberation Sans', sans-serif" fill="#2a1e05" >Gene Name</text>
<text x="289.25" y="226.05" font-size="6.0" font-weight="bold" text-anchor="middle" font-family="'Liberation Sans', sans-serif" fill="#2a1e05" >Gene ID</text>
<text x="426.55" y="226.05" font-size="6.0" font-weight="bold" text-anchor="middle" font-family="'Liberation Sans', sans-serif" fill="#2a1e05" >Description</text>
<rect x="201.0" y="215.8" width="333.6" height="132.18" fill="none" stroke="#4a4a4a" stroke-width="1.1"/>
<text x="80.65" y="367.80" font-size="7.5" font-weight="bold" text-anchor="middle" font-family="'Liberation Sans', sans-serif" fill="#000" >ATP8</text>
<rect x="34.15" y="432.60" width="10.90" height="79.90" fill="#0a0a0a" />
<line x1="56.08" y1="458.50" x2="56.08" y2="464.00" stroke="#1a1a1a" stroke-width="0.95" />
<line x1="53.08" y1="458.50" x2="59.08" y2="458.50" stroke="#1a1a1a" stroke-width="1.0" />
<rect x="50.63" y="464.00" width="10.90" height="48.50" fill="#f9b62d" />
<line x1="72.56" y1="391.30" x2="72.56" y2="406.90" stroke="#1a1a1a" stroke-width="0.95" />
<line x1="69.56" y1="391.30" x2="75.56" y2="391.30" stroke="#1a1a1a" stroke-width="1.0" />
<rect x="67.11" y="406.90" width="10.90" height="105.60" fill="#d42a1f" />
<rect x="83.59" y="432.60" width="10.90" height="79.90" fill="#0a0a0a" />
<line x1="105.52" y1="464.20" x2="105.52" y2="464.60" stroke="#1a1a1a" stroke-width="0.95" />
<line x1="102.52" y1="464.20" x2="108.52" y2="464.20" stroke="#1a1a1a" stroke-width="1.0" />
<rect x="100.07" y="464.60" width="10.90" height="47.90" fill="#f9b62d" />
<line x1="122.00" y1="405.60" x2="122.00" y2="417.50" stroke="#1a1a1a" stroke-width="0.95" />
<line x1="119.00" y1="405.60" x2="125.00" y2="405.60" stroke="#1a1a1a" stroke-width="1.0" />
<rect x="116.55" y="417.50" width="10.90" height="95.00" fill="#d42a1f" />
<line x1="80.90" y1="372.20" x2="80.90" y2="512.50" stroke="#3a3a3a" stroke-width="0.85" stroke-dasharray="0.75,0.75"/>
<line x1="28.30" y1="371.70" x2="28.30" y2="513.00" stroke="#111" stroke-width="1.1" />
<line x1="133.00" y1="371.70" x2="133.00" y2="513.00" stroke="#111" stroke-width="1.1" />
<line x1="27.80" y1="512.50" x2="133.50" y2="512.50" stroke="#111" stroke-width="1.1" />
<line x1="27.80" y1="372.20" x2="133.50" y2="372.20" stroke="#222" stroke-width="1.1" />
<line x1="26.30" y1="502.50" x2="28.30" y2="502.50" stroke="#222" stroke-width="0.8" />
<line x1="133.00" y1="502.50" x2="135.00" y2="502.50" stroke="#222" stroke-width="0.8" />
<line x1="26.30" y1="492.50" x2="28.30" y2="492.50" stroke="#222" stroke-width="0.8" />
<line x1="133.00" y1="492.50" x2="135.00" y2="492.50" stroke="#222" stroke-width="0.8" />
<line x1="26.30" y1="482.50" x2="28.30" y2="482.50" stroke="#222" stroke-width="0.8" />
<line x1="133.00" y1="482.50" x2="135.00" y2="482.50" stroke="#222" stroke-width="0.8" />
<line x1="26.30" y1="472.50" x2="28.30" y2="472.50" stroke="#222" stroke-width="0.8" />
<line x1="133.00" y1="472.50" x2="135.00" y2="472.50" stroke="#222" stroke-width="0.8" />
<line x1="26.30" y1="462.50" x2="28.30" y2="462.50" stroke="#222" stroke-width="0.8" />
<line x1="133.00" y1="462.50" x2="135.00" y2="462.50" stroke="#222" stroke-width="0.8" />
<line x1="26.30" y1="452.50" x2="28.30" y2="452.50" stroke="#222" stroke-width="0.8" />
<line x1="133.00" y1="452.50" x2="135.00" y2="452.50" stroke="#222" stroke-width="0.8" />
<line x1="26.30" y1="442.50" x2="28.30" y2="442.50" stroke="#222" stroke-width="0.8" />
<line x1="133.00" y1="442.50" x2="135.00" y2="442.50" stroke="#222" stroke-width="0.8" />
<line x1="26.30" y1="432.50" x2="28.30" y2="432.50" stroke="#222" stroke-width="0.8" />
<line x1="133.00" y1="432.50" x2="135.00" y2="432.50" stroke="#222" stroke-width="0.8" />
<line x1="26.30" y1="422.50" x2="28.30" y2="422.50" stroke="#222" stroke-width="0.8" />
<line x1="133.00" y1="422.50" x2="135.00" y2="422.50" stroke="#222" stroke-width="0.8" />
<line x1="26.30" y1="412.50" x2="28.30" y2="412.50" stroke="#222" stroke-width="0.8" />
<line x1="133.00" y1="412.50" x2="135.00" y2="412.50" stroke="#222" stroke-width="0.8" />
<line x1="26.30" y1="402.50" x2="28.30" y2="402.50" stroke="#222" stroke-width="0.8" />
<line x1="133.00" y1="402.50" x2="135.00" y2="402.50" stroke="#222" stroke-width="0.8" />
<line x1="26.30" y1="392.50" x2="28.30" y2="392.50" stroke="#222" stroke-width="0.8" />
<line x1="133.00" y1="392.50" x2="135.00" y2="392.50" stroke="#222" stroke-width="0.8" />
<line x1="26.30" y1="382.50" x2="28.30" y2="382.50" stroke="#222" stroke-width="0.8" />
<line x1="133.00" y1="382.50" x2="135.00" y2="382.50" stroke="#222" stroke-width="0.8" />
<line x1="25.30" y1="512.50" x2="28.30" y2="512.50" stroke="#111" stroke-width="0.9" />
<line x1="133.00" y1="512.50" x2="136.00" y2="512.50" stroke="#111" stroke-width="0.9" />
<text x="24.30" y="514.30" font-size="5.0" font-weight="bold" text-anchor="end" font-family="'Liberation Sans', sans-serif" fill="#222" >0.0</text>
<text x="137.00" y="514.30" font-size="5.0" font-weight="bold" text-anchor="start" font-family="'Liberation Sans', sans-serif" fill="#222" >0.0</text>
<line x1="25.30" y1="472.50" x2="28.30" y2="472.50" stroke="#111" stroke-width="0.9" />
<line x1="133.00" y1="472.50" x2="136.00" y2="472.50" stroke="#111" stroke-width="0.9" />
<text x="24.30" y="474.30" font-size="5.0" font-weight="bold" text-anchor="end" font-family="'Liberation Sans', sans-serif" fill="#222" >0.5</text>
<text x="137.00" y="474.30" font-size="5.0" font-weight="bold" text-anchor="start" font-family="'Liberation Sans', sans-serif" fill="#222" >0.5</text>
<line x1="25.30" y1="432.50" x2="28.30" y2="432.50" stroke="#111" stroke-width="0.9" />
<line x1="133.00" y1="432.50" x2="136.00" y2="432.50" stroke="#111" stroke-width="0.9" />
<text x="24.30" y="434.30" font-size="5.0" font-weight="bold" text-anchor="end" font-family="'Liberation Sans', sans-serif" fill="#222" >1.0</text>
<text x="137.00" y="434.30" font-size="5.0" font-weight="bold" text-anchor="start" font-family="'Liberation Sans', sans-serif" fill="#222" >1.0</text>
<line x1="25.30" y1="392.50" x2="28.30" y2="392.50" stroke="#111" stroke-width="0.9" />
<line x1="133.00" y1="392.50" x2="136.00" y2="392.50" stroke="#111" stroke-width="0.9" />
<text x="24.30" y="394.30" font-size="5.0" font-weight="bold" text-anchor="end" font-family="'Liberation Sans', sans-serif" fill="#222" >1.5</text>
<text x="137.00" y="394.30" font-size="5.0" font-weight="bold" text-anchor="start" font-family="'Liberation Sans', sans-serif" fill="#222" >1.5</text>
<line x1="39.60" y1="512.50" x2="39.60" y2="514.50" stroke="#111" stroke-width="0.8" />
<text x="39.60" y="521.50" font-size="5.1" font-weight="bold" text-anchor="middle" font-family="'Liberation Sans', sans-serif" fill="#222" >Fresh</text>
<line x1="56.08" y1="512.50" x2="56.08" y2="514.50" stroke="#111" stroke-width="0.8" />
<text x="56.08" y="521.50" font-size="5.1" font-weight="bold" text-anchor="middle" font-family="'Liberation Sans', sans-serif" fill="#222" >Vit</text>
<line x1="72.56" y1="512.50" x2="72.56" y2="514.50" stroke="#111" stroke-width="0.8" />
<text x="72.56" y="521.50" font-size="5.1" font-weight="bold" text-anchor="middle" font-family="'Liberation Sans', sans-serif" fill="#222" >Vit+MT</text>
<line x1="89.04" y1="512.50" x2="89.04" y2="514.50" stroke="#111" stroke-width="0.8" />
<text x="89.04" y="521.50" font-size="5.1" font-weight="bold" text-anchor="middle" font-family="'Liberation Sans', sans-serif" fill="#222" >Fresh</text>
<line x1="105.52" y1="512.50" x2="105.52" y2="514.50" stroke="#111" stroke-width="0.8" />
<text x="105.52" y="521.50" font-size="5.1" font-weight="bold" text-anchor="middle" font-family="'Liberation Sans', sans-serif" fill="#222" >Vit</text>
<line x1="122.00" y1="512.50" x2="122.00" y2="514.50" stroke="#111" stroke-width="0.8" />
<text x="122.00" y="521.50" font-size="5.1" font-weight="bold" text-anchor="middle" font-family="'Liberation Sans', sans-serif" fill="#222" >Vit+MT</text>
<polyline points="39.60,429.30 39.60,425.70 56.08,425.70 56.08,453.10" fill="none" stroke="#1a1a1a" stroke-width="0.95"/>
<text x="47.84" y="425.10" font-size="9.5" font-weight="bold" text-anchor="middle" font-family="'Liberation Sans', sans-serif" fill="#111" >*</text>
<polyline points="56.08,421.20 56.08,384.80 72.56,384.80 72.56,388.30" fill="none" stroke="#1a1a1a" stroke-width="0.95"/>
<text x="64.32" y="384.20" font-size="9.5" font-weight="bold" text-anchor="middle" font-family="'Liberation Sans', sans-serif" fill="#111" >*</text>
<polyline points="89.04,428.60 89.04,424.80 105.52,424.80 105.52,457.80" fill="none" stroke="#1a1a1a" stroke-width="0.95"/>
<text x="95.08" y="424.20" font-size="9.5" font-weight="bold" text-anchor="middle" font-family="'Liberation Sans', sans-serif" fill="#111" >*</text>
<text x="99.48" y="424.20" font-size="9.5" font-weight="bold" text-anchor="middle" font-family="'Liberation Sans', sans-serif" fill="#111" >*</text>
<polyline points="105.52,419.80 105.52,397.40 122.00,397.40 122.00,401.50" fill="none" stroke="#1a1a1a" stroke-width="0.95"/>
<text x="113.76" y="396.80" font-size="9.5" font-weight="bold" text-anchor="middle" font-family="'Liberation Sans', sans-serif" fill="#111" >*</text>
<text x="0.00" y="0.00" font-size="7.8" font-weight="bold" text-anchor="middle" font-family="'Liberation Sans', sans-serif" fill="#111" transform="translate(12.70,442.35) rotate(-90)">The  RNA-seq</text>
<text x="213.55" y="367.80" font-size="7.5" font-weight="bold" text-anchor="middle" font-family="'Liberation Sans', sans-serif" fill="#000" >FAU</text>
<rect x="167.05" y="400.60" width="10.90" height="111.90" fill="#0a0a0a" />
<line x1="188.98" y1="431.40" x2="188.98" y2="441.70" stroke="#1a1a1a" stroke-width="0.95" />
<line x1="185.98" y1="431.40" x2="191.98" y2="431.40" stroke="#1a1a1a" stroke-width="1.0" />
<rect x="183.53" y="441.70" width="10.90" height="70.80" fill="#f9b62d" />
<line x1="205.46" y1="395.10" x2="205.46" y2="402.60" stroke="#1a1a1a" stroke-width="0.95" />
<line x1="202.46" y1="395.10" x2="208.46" y2="395.10" stroke="#1a1a1a" stroke-width="1.0" />
<rect x="200.01" y="402.60" width="10.90" height="109.90" fill="#d42a1f" />
<rect x="216.49" y="400.60" width="10.90" height="111.90" fill="#0a0a0a" />
<line x1="238.42" y1="447.70" x2="238.42" y2="457.60" stroke="#1a1a1a" stroke-width="0.95" />
<line x1="235.42" y1="447.70" x2="241.42" y2="447.70" stroke="#1a1a1a" stroke-width="1.0" />
<rect x="232.97" y="457.60" width="10.90" height="54.90" fill="#f9b62d" />
<line x1="254.90" y1="410.00" x2="254.90" y2="416.40" stroke="#1a1a1a" stroke-width="0.95" />
<line x1="251.90" y1="410.00" x2="257.90" y2="410.00" stroke="#1a1a1a" stroke-width="1.0" />
<rect x="249.45" y="416.40" width="10.90" height="96.10" fill="#d42a1f" />
<line x1="213.80" y1="372.20" x2="213.80" y2="512.50" stroke="#3a3a3a" stroke-width="0.85" stroke-dasharray="0.75,0.75"/>
<line x1="161.20" y1="371.70" x2="161.20" y2="513.00" stroke="#111" stroke-width="1.1" />
<line x1="265.90" y1="371.70" x2="265.90" y2="513.00" stroke="#111" stroke-width="1.1" />
<line x1="160.70" y1="512.50" x2="266.40" y2="512.50" stroke="#111" stroke-width="1.1" />
<line x1="160.70" y1="372.20" x2="266.40" y2="372.20" stroke="#222" stroke-width="1.1" />
<line x1="159.20" y1="498.50" x2="161.20" y2="498.50" stroke="#222" stroke-width="0.8" />
<line x1="265.90" y1="498.50" x2="267.90" y2="498.50" stroke="#222" stroke-width="0.8" />
<line x1="159.20" y1="484.50" x2="161.20" y2="484.50" stroke="#222" stroke-width="0.8" />
<line x1="265.90" y1="484.50" x2="267.90" y2="484.50" stroke="#222" stroke-width="0.8" />
<line x1="159.20" y1="470.50" x2="161.20" y2="470.50" stroke="#222" stroke-width="0.8" />
<line x1="265.90" y1="470.50" x2="267.90" y2="470.50" stroke="#222" stroke-width="0.8" />
<line x1="159.20" y1="456.50" x2="161.20" y2="456.50" stroke="#222" stroke-width="0.8" />
<line x1="265.90" y1="456.50" x2="267.90" y2="456.50" stroke="#222" stroke-width="0.8" />
<line x1="159.20" y1="442.50" x2="161.20" y2="442.50" stroke="#222" stroke-width="0.8" />
<line x1="265.90" y1="442.50" x2="267.90" y2="442.50" stroke="#222" stroke-width="0.8" />
<line x1="159.20" y1="428.50" x2="161.20" y2="428.50" stroke="#222" stroke-width="0.8" />
<line x1="265.90" y1="428.50" x2="267.90" y2="428.50" stroke="#222" stroke-width="0.8" />
<line x1="159.20" y1="414.50" x2="161.20" y2="414.50" stroke="#222" stroke-width="0.8" />
<line x1="265.90" y1="414.50" x2="267.90" y2="414.50" stroke="#222" stroke-width="0.8" />
<line x1="159.20" y1="400.50" x2="161.20" y2="400.50" stroke="#222" stroke-width="0.8" />
<line x1="265.90" y1="400.50" x2="267.90" y2="400.50" stroke="#222" stroke-width="0.8" />
<line x1="159.20" y1="386.50" x2="161.20" y2="386.50" stroke="#222" stroke-width="0.8" />
<line x1="265.90" y1="386.50" x2="267.90" y2="386.50" stroke="#222" stroke-width="0.8" />
<line x1="158.20" y1="512.50" x2="161.20" y2="512.50" stroke="#111" stroke-width="0.9" />
<line x1="265.90" y1="512.50" x2="268.90" y2="512.50" stroke="#111" stroke-width="0.9" />
<text x="157.20" y="514.30" font-size="5.0" font-weight="bold" text-anchor="end" font-family="'Liberation Sans', sans-serif" fill="#222" >0.0</text>
<text x="269.90" y="514.30" font-size="5.0" font-weight="bold" text-anchor="start" font-family="'Liberation Sans', sans-serif" fill="#222" >0.0</text>
<line x1="158.20" y1="456.50" x2="161.20" y2="456.50" stroke="#111" stroke-width="0.9" />
<line x1="265.90" y1="456.50" x2="268.90" y2="456.50" stroke="#111" stroke-width="0.9" />
<text x="157.20" y="458.30" font-size="5.0" font-weight="bold" text-anchor="end" font-family="'Liberation Sans', sans-serif" fill="#222" >0.5</text>
<text x="269.90" y="458.30" font-size="5.0" font-weight="bold" text-anchor="start" font-family="'Liberation Sans', sans-serif" fill="#222" >0.5</text>
<line x1="158.20" y1="400.50" x2="161.20" y2="400.50" stroke="#111" stroke-width="0.9" />
<line x1="265.90" y1="400.50" x2="268.90" y2="400.50" stroke="#111" stroke-width="0.9" />
<text x="157.20" y="402.30" font-size="5.0" font-weight="bold" text-anchor="end" font-family="'Liberation Sans', sans-serif" fill="#222" >1.0</text>
<text x="269.90" y="402.30" font-size="5.0" font-weight="bold" text-anchor="start" font-family="'Liberation Sans', sans-serif" fill="#222" >1.0</text>
<line x1="172.50" y1="512.50" x2="172.50" y2="514.50" stroke="#111" stroke-width="0.8" />
<text x="172.50" y="521.50" font-size="5.1" font-weight="bold" text-anchor="middle" font-family="'Liberation Sans', sans-serif" fill="#222" >Fresh</text>
<line x1="188.98" y1="512.50" x2="188.98" y2="514.50" stroke="#111" stroke-width="0.8" />
<text x="188.98" y="521.50" font-size="5.1" font-weight="bold" text-anchor="middle" font-family="'Liberation Sans', sans-serif" fill="#222" >Vit</text>
<line x1="205.46" y1="512.50" x2="205.46" y2="514.50" stroke="#111" stroke-width="0.8" />
<text x="205.46" y="521.50" font-size="5.1" font-weight="bold" text-anchor="middle" font-family="'Liberation Sans', sans-serif" fill="#222" >Vit+MT</text>
<line x1="221.94" y1="512.50" x2="221.94" y2="514.50" stroke="#111" stroke-width="0.8" />
<text x="221.94" y="521.50" font-size="5.1" font-weight="bold" text-anchor="middle" font-family="'Liberation Sans', sans-serif" fill="#222" >Fresh</text>
<line x1="238.42" y1="512.50" x2="238.42" y2="514.50" stroke="#111" stroke-width="0.8" />
<text x="238.42" y="521.50" font-size="5.1" font-weight="bold" text-anchor="middle" font-family="'Liberation Sans', sans-serif" fill="#222" >Vit</text>
<line x1="254.90" y1="512.50" x2="254.90" y2="514.50" stroke="#111" stroke-width="0.8" />
<text x="254.90" y="521.50" font-size="5.1" font-weight="bold" text-anchor="middle" font-family="'Liberation Sans', sans-serif" fill="#222" >Vit+MT</text>
<polyline points="172.50,395.50 172.50,390.60 188.98,390.60 188.98,426.40" fill="none" stroke="#1a1a1a" stroke-width="0.95"/>
<text x="180.74" y="390.00" font-size="9.5" font-weight="bold" text-anchor="middle" font-family="'Liberation Sans', sans-serif" fill="#111" >*</text>
<polyline points="188.98,386.30 188.98,382.00 205.46,382.00 205.46,391.00" fill="none" stroke="#1a1a1a" stroke-width="0.95"/>
<text x="197.22" y="381.40" font-size="9.5" font-weight="bold" text-anchor="middle" font-family="'Liberation Sans', sans-serif" fill="#111" >*</text>
<polyline points="221.94,395.50 221.94,391.00 238.42,391.00 238.42,397.20" fill="none" stroke="#1a1a1a" stroke-width="0.95"/>
<text x="230.18" y="390.40" font-size="9.5" font-weight="bold" text-anchor="middle" font-family="'Liberation Sans', sans-serif" fill="#111" >*</text>
<polyline points="238.42,442.70 238.42,401.50 254.90,401.50 254.90,405.60" fill="none" stroke="#1a1a1a" stroke-width="0.95"/>
<text x="246.66" y="400.90" font-size="9.5" font-weight="bold" text-anchor="middle" font-family="'Liberation Sans', sans-serif" fill="#111" >*</text>
<text x="344.55" y="367.80" font-size="7.5" font-weight="bold" text-anchor="middle" font-family="'Liberation Sans', sans-serif" fill="#000" >FST</text>
<rect x="298.05" y="506.30" width="10.90" height="6.20" fill="#0a0a0a" />
<line x1="319.98" y1="403.00" x2="319.98" y2="421.30" stroke="#1a1a1a" stroke-width="0.95" />
<line x1="316.98" y1="403.00" x2="322.98" y2="403.00" stroke="#1a1a1a" stroke-width="1.0" />
<rect x="314.53" y="421.30" width="10.90" height="91.20" fill="#f9b62d" />
<line x1="336.46" y1="439.90" x2="336.46" y2="448.80" stroke="#1a1a1a" stroke-width="0.95" />
<line x1="333.46" y1="439.90" x2="339.46" y2="439.90" stroke="#1a1a1a" stroke-width="1.0" />
<rect x="331.01" y="448.80" width="10.90" height="63.70" fill="#d42a1f" />
<rect x="347.49" y="506.30" width="10.90" height="6.20" fill="#0a0a0a" />
<line x1="369.42" y1="399.40" x2="369.42" y2="408.00" stroke="#1a1a1a" stroke-width="0.95" />
<line x1="366.42" y1="399.40" x2="372.42" y2="399.40" stroke="#1a1a1a" stroke-width="1.0" />
<rect x="363.97" y="408.00" width="10.90" height="104.50" fill="#f9b62d" />
<line x1="385.90" y1="461.10" x2="385.90" y2="471.40" stroke="#1a1a1a" stroke-width="0.95" />
<line x1="382.90" y1="461.10" x2="388.90" y2="461.10" stroke="#1a1a1a" stroke-width="1.0" />
<rect x="380.45" y="471.40" width="10.90" height="41.10" fill="#d42a1f" />
<line x1="344.80" y1="372.20" x2="344.80" y2="512.50" stroke="#3a3a3a" stroke-width="0.85" stroke-dasharray="0.75,0.75"/>
<line x1="292.20" y1="371.70" x2="292.20" y2="513.00" stroke="#111" stroke-width="1.1" />
<line x1="396.90" y1="371.70" x2="396.90" y2="513.00" stroke="#111" stroke-width="1.1" />
<line x1="291.70" y1="512.50" x2="397.40" y2="512.50" stroke="#111" stroke-width="1.1" />
<line x1="291.70" y1="372.20" x2="397.40" y2="372.20" stroke="#222" stroke-width="1.1" />
<line x1="290.20" y1="506.27" x2="292.20" y2="506.27" stroke="#222" stroke-width="0.8" />
<line x1="396.90" y1="506.27" x2="398.90" y2="506.27" stroke="#222" stroke-width="0.8" />
<line x1="290.20" y1="500.04" x2="292.20" y2="500.04" stroke="#222" stroke-width="0.8" />
<line x1="396.90" y1="500.04" x2="398.90" y2="500.04" stroke="#222" stroke-width="0.8" />
<line x1="290.20" y1="493.81" x2="292.20" y2="493.81" stroke="#222" stroke-width="0.8" />
<line x1="396.90" y1="493.81" x2="398.90" y2="493.81" stroke="#222" stroke-width="0.8" />
<line x1="290.20" y1="487.58" x2="292.20" y2="487.58" stroke="#222" stroke-width="0.8" />
<line x1="396.90" y1="487.58" x2="398.90" y2="487.58" stroke="#222" stroke-width="0.8" />
<line x1="290.20" y1="481.35" x2="292.20" y2="481.35" stroke="#222" stroke-width="0.8" />
<line x1="396.90" y1="481.35" x2="398.90" y2="481.35" stroke="#222" stroke-width="0.8" />
<line x1="290.20" y1="475.12" x2="292.20" y2="475.12" stroke="#222" stroke-width="0.8" />
<line x1="396.90" y1="475.12" x2="398.90" y2="475.12" stroke="#222" stroke-width="0.8" />
<line x1="290.20" y1="468.89" x2="292.20" y2="468.89" stroke="#222" stroke-width="0.8" />
<line x1="396.90" y1="468.89" x2="398.90" y2="468.89" stroke="#222" stroke-width="0.8" />
<line x1="290.20" y1="462.66" x2="292.20" y2="462.66" stroke="#222" stroke-width="0.8" />
<line x1="396.90" y1="462.66" x2="398.90" y2="462.66" stroke="#222" stroke-width="0.8" />
<line x1="290.20" y1="456.43" x2="292.20" y2="456.43" stroke="#222" stroke-width="0.8" />
<line x1="396.90" y1="456.43" x2="398.90" y2="456.43" stroke="#222" stroke-width="0.8" />
<line x1="290.20" y1="450.20" x2="292.20" y2="450.20" stroke="#222" stroke-width="0.8" />
<line x1="396.90" y1="450.20" x2="398.90" y2="450.20" stroke="#222" stroke-width="0.8" />
<line x1="290.20" y1="443.97" x2="292.20" y2="443.97" stroke="#222" stroke-width="0.8" />
<line x1="396.90" y1="443.97" x2="398.90" y2="443.97" stroke="#222" stroke-width="0.8" />
<line x1="290.20" y1="437.74" x2="292.20" y2="437.74" stroke="#222" stroke-width="0.8" />
<line x1="396.90" y1="437.74" x2="398.90" y2="437.74" stroke="#222" stroke-width="0.8" />
<line x1="290.20" y1="431.51" x2="292.20" y2="431.51" stroke="#222" stroke-width="0.8" />
<line x1="396.90" y1="431.51" x2="398.90" y2="431.51" stroke="#222" stroke-width="0.8" />
<line x1="290.20" y1="425.28" x2="292.20" y2="425.28" stroke="#222" stroke-width="0.8" />
<line x1="396.90" y1="425.28" x2="398.90" y2="425.28" stroke="#222" stroke-width="0.8" />
<line x1="290.20" y1="419.05" x2="292.20" y2="419.05" stroke="#222" stroke-width="0.8" />
<line x1="396.90" y1="419.05" x2="398.90" y2="419.05" stroke="#222" stroke-width="0.8" />
<line x1="290.20" y1="412.82" x2="292.20" y2="412.82" stroke="#222" stroke-width="0.8" />
<line x1="396.90" y1="412.82" x2="398.90" y2="412.82" stroke="#222" stroke-width="0.8" />
<line x1="290.20" y1="406.59" x2="292.20" y2="406.59" stroke="#222" stroke-width="0.8" />
<line x1="396.90" y1="406.59" x2="398.90" y2="406.59" stroke="#222" stroke-width="0.8" />
<line x1="290.20" y1="400.36" x2="292.20" y2="400.36" stroke="#222" stroke-width="0.8" />
<line x1="396.90" y1="400.36" x2="398.90" y2="400.36" stroke="#222" stroke-width="0.8" />
<line x1="290.20" y1="394.13" x2="292.20" y2="394.13" stroke="#222" stroke-width="0.8" />
<line x1="396.90" y1="394.13" x2="398.90" y2="394.13" stroke="#222" stroke-width="0.8" />
<line x1="290.20" y1="387.90" x2="292.20" y2="387.90" stroke="#222" stroke-width="0.8" />
<line x1="396.90" y1="387.90" x2="398.90" y2="387.90" stroke="#222" stroke-width="0.8" />
<line x1="290.20" y1="381.67" x2="292.20" y2="381.67" stroke="#222" stroke-width="0.8" />
<line x1="396.90" y1="381.67" x2="398.90" y2="381.67" stroke="#222" stroke-width="0.8" />
<line x1="290.20" y1="375.44" x2="292.20" y2="375.44" stroke="#222" stroke-width="0.8" />
<line x1="396.90" y1="375.44" x2="398.90" y2="375.44" stroke="#222" stroke-width="0.8" />
<line x1="289.20" y1="512.50" x2="292.20" y2="512.50" stroke="#111" stroke-width="0.9" />
<line x1="396.90" y1="512.50" x2="399.90" y2="512.50" stroke="#111" stroke-width="0.9" />
<text x="288.20" y="514.30" font-size="5.0" font-weight="bold" text-anchor="end" font-family="'Liberation Sans', sans-serif" fill="#222" >0</text>
<text x="400.90" y="514.30" font-size="5.0" font-weight="bold" text-anchor="start" font-family="'Liberation Sans', sans-serif" fill="#222" >0</text>
<line x1="289.20" y1="481.35" x2="292.20" y2="481.35" stroke="#111" stroke-width="0.9" />
<line x1="396.90" y1="481.35" x2="399.90" y2="481.35" stroke="#111" stroke-width="0.9" />
<text x="288.20" y="483.15" font-size="5.0" font-weight="bold" text-anchor="end" font-family="'Liberation Sans', sans-serif" fill="#222" >5</text>
<text x="400.90" y="483.15" font-size="5.0" font-weight="bold" text-anchor="start" font-family="'Liberation Sans', sans-serif" fill="#222" >5</text>
<line x1="289.20" y1="450.20" x2="292.20" y2="450.20" stroke="#111" stroke-width="0.9" />
<line x1="396.90" y1="450.20" x2="399.90" y2="450.20" stroke="#111" stroke-width="0.9" />
<text x="288.20" y="452.00" font-size="5.0" font-weight="bold" text-anchor="end" font-family="'Liberation Sans', sans-serif" fill="#222" >10</text>
<text x="400.90" y="452.00" font-size="5.0" font-weight="bold" text-anchor="start" font-family="'Liberation Sans', sans-serif" fill="#222" >10</text>
<line x1="289.20" y1="419.05" x2="292.20" y2="419.05" stroke="#111" stroke-width="0.9" />
<line x1="396.90" y1="419.05" x2="399.90" y2="419.05" stroke="#111" stroke-width="0.9" />
<text x="288.20" y="420.85" font-size="5.0" font-weight="bold" text-anchor="end" font-family="'Liberation Sans', sans-serif" fill="#222" >15</text>
<text x="400.90" y="420.85" font-size="5.0" font-weight="bold" text-anchor="start" font-family="'Liberation Sans', sans-serif" fill="#222" >15</text>
<line x1="289.20" y1="387.90" x2="292.20" y2="387.90" stroke="#111" stroke-width="0.9" />
<line x1="396.90" y1="387.90" x2="399.90" y2="387.90" stroke="#111" stroke-width="0.9" />
<text x="288.20" y="389.70" font-size="5.0" font-weight="bold" text-anchor="end" font-family="'Liberation Sans', sans-serif" fill="#222" >20</text>
<text x="400.90" y="389.70" font-size="5.0" font-weight="bold" text-anchor="start" font-family="'Liberation Sans', sans-serif" fill="#222" >20</text>
<line x1="303.50" y1="512.50" x2="303.50" y2="514.50" stroke="#111" stroke-width="0.8" />
<text x="303.50" y="521.50" font-size="5.1" font-weight="bold" text-anchor="middle" font-family="'Liberation Sans', sans-serif" fill="#222" >Fresh</text>
<line x1="319.98" y1="512.50" x2="319.98" y2="514.50" stroke="#111" stroke-width="0.8" />
<text x="319.98" y="521.50" font-size="5.1" font-weight="bold" text-anchor="middle" font-family="'Liberation Sans', sans-serif" fill="#222" >Vit</text>
<line x1="336.46" y1="512.50" x2="336.46" y2="514.50" stroke="#111" stroke-width="0.8" />
<text x="336.46" y="521.50" font-size="5.1" font-weight="bold" text-anchor="middle" font-family="'Liberation Sans', sans-serif" fill="#222" >Vit+MT</text>
<line x1="352.94" y1="512.50" x2="352.94" y2="514.50" stroke="#111" stroke-width="0.8" />
<text x="352.94" y="521.50" font-size="5.1" font-weight="bold" text-anchor="middle" font-family="'Liberation Sans', sans-serif" fill="#222" >Fresh</text>
<line x1="369.42" y1="512.50" x2="369.42" y2="514.50" stroke="#111" stroke-width="0.8" />
<text x="369.42" y="521.50" font-size="5.1" font-weight="bold" text-anchor="middle" font-family="'Liberation Sans', sans-serif" fill="#222" >Vit</text>
<line x1="385.90" y1="512.50" x2="385.90" y2="514.50" stroke="#111" stroke-width="0.8" />
<text x="385.90" y="521.50" font-size="5.1" font-weight="bold" text-anchor="middle" font-family="'Liberation Sans', sans-serif" fill="#222" >Vit+MT</text>
<polyline points="303.50,502.00 303.50,392.80 319.98,392.80 319.98,397.20" fill="none" stroke="#1a1a1a" stroke-width="0.95"/>
<text x="307.34" y="392.20" font-size="9.5" font-weight="bold" text-anchor="middle" font-family="'Liberation Sans', sans-serif" fill="#111" >*</text>
<text x="311.74" y="392.20" font-size="9.5" font-weight="bold" text-anchor="middle" font-family="'Liberation Sans', sans-serif" fill="#111" >*</text>
<text x="316.14" y="392.20" font-size="9.5" font-weight="bold" text-anchor="middle" font-family="'Liberation Sans', sans-serif" fill="#111" >*</text>
<polyline points="319.98,387.70 319.98,383.30 336.46,383.30 336.46,433.80" fill="none" stroke="#1a1a1a" stroke-width="0.95"/>
<text x="328.22" y="382.70" font-size="9.5" font-weight="bold" text-anchor="middle" font-family="'Liberation Sans', sans-serif" fill="#111" >*</text>
<polyline points="352.94,502.00 352.94,390.40 369.42,390.40 369.42,394.80" fill="none" stroke="#1a1a1a" stroke-width="0.95"/>
<text x="356.78" y="389.80" font-size="9.5" font-weight="bold" text-anchor="middle" font-family="'Liberation Sans', sans-serif" fill="#111" >*</text>
<text x="361.18" y="389.80" font-size="9.5" font-weight="bold" text-anchor="middle" font-family="'Liberation Sans', sans-serif" fill="#111" >*</text>
<text x="365.58" y="389.80" font-size="9.5" font-weight="bold" text-anchor="middle" font-family="'Liberation Sans', sans-serif" fill="#111" >*</text>
<polyline points="369.42,385.70 369.42,381.30 385.90,381.30 385.90,455.60" fill="none" stroke="#1a1a1a" stroke-width="0.95"/>
<text x="375.46" y="380.70" font-size="9.5" font-weight="bold" text-anchor="middle" font-family="'Liberation Sans', sans-serif" fill="#111" >*</text>
<text x="379.86" y="380.70" font-size="9.5" font-weight="bold" text-anchor="middle" font-family="'Liberation Sans', sans-serif" fill="#111" >*</text>
<text x="474.55" y="367.80" font-size="7.5" font-weight="bold" text-anchor="middle" font-family="'Liberation Sans', sans-serif" fill="#000" >EMD</text>
<rect x="428.05" y="498.60" width="10.90" height="13.90" fill="#0a0a0a" />
<line x1="449.98" y1="460.50" x2="449.98" y2="471.70" stroke="#1a1a1a" stroke-width="0.95" />
<line x1="446.98" y1="460.50" x2="452.98" y2="460.50" stroke="#1a1a1a" stroke-width="1.0" />
<rect x="444.53" y="471.70" width="10.90" height="40.80" fill="#f9b62d" />
<line x1="466.46" y1="489.50" x2="466.46" y2="494.40" stroke="#1a1a1a" stroke-width="0.95" />
<line x1="463.46" y1="489.50" x2="469.46" y2="489.50" stroke="#1a1a1a" stroke-width="1.0" />
<rect x="461.01" y="494.40" width="10.90" height="18.10" fill="#d42a1f" />
<rect x="477.49" y="498.40" width="10.90" height="14.10" fill="#0a0a0a" />
<line x1="499.42" y1="404.00" x2="499.42" y2="415.10" stroke="#1a1a1a" stroke-width="0.95" />
<line x1="496.42" y1="404.00" x2="502.42" y2="404.00" stroke="#1a1a1a" stroke-width="1.0" />
<rect x="493.97" y="415.10" width="10.90" height="97.40" fill="#f9b62d" />
<line x1="515.90" y1="477.40" x2="515.90" y2="481.10" stroke="#1a1a1a" stroke-width="0.95" />
<line x1="512.90" y1="477.40" x2="518.90" y2="477.40" stroke="#1a1a1a" stroke-width="1.0" />
<rect x="510.45" y="481.10" width="10.90" height="31.40" fill="#d42a1f" />
<line x1="474.80" y1="372.20" x2="474.80" y2="512.50" stroke="#3a3a3a" stroke-width="0.85" stroke-dasharray="0.75,0.75"/>
<line x1="422.20" y1="371.70" x2="422.20" y2="513.00" stroke="#111" stroke-width="1.1" />
<line x1="526.90" y1="371.70" x2="526.90" y2="513.00" stroke="#111" stroke-width="1.1" />
<line x1="421.70" y1="512.50" x2="527.40" y2="512.50" stroke="#111" stroke-width="1.1" />
<line x1="421.70" y1="372.20" x2="527.40" y2="372.20" stroke="#222" stroke-width="1.1" />
<line x1="419.20" y1="512.50" x2="422.20" y2="512.50" stroke="#111" stroke-width="0.9" />
<line x1="526.90" y1="512.50" x2="529.90" y2="512.50" stroke="#111" stroke-width="0.9" />
<text x="418.20" y="514.30" font-size="5.0" font-weight="bold" text-anchor="end" font-family="'Liberation Sans', sans-serif" fill="#222" >0</text>
<text x="530.90" y="514.30" font-size="5.0" font-weight="bold" text-anchor="start" font-family="'Liberation Sans', sans-serif" fill="#222" >0</text>
<line x1="419.20" y1="484.50" x2="422.20" y2="484.50" stroke="#111" stroke-width="0.9" />
<line x1="526.90" y1="484.50" x2="529.90" y2="484.50" stroke="#111" stroke-width="0.9" />
<text x="418.20" y="486.30" font-size="5.0" font-weight="bold" text-anchor="end" font-family="'Liberation Sans', sans-serif" fill="#222" >2</text>
<text x="530.90" y="486.30" font-size="5.0" font-weight="bold" text-anchor="start" font-family="'Liberation Sans', sans-serif" fill="#222" >2</text>
<line x1="419.20" y1="456.50" x2="422.20" y2="456.50" stroke="#111" stroke-width="0.9" />
<line x1="526.90" y1="456.50" x2="529.90" y2="456.50" stroke="#111" stroke-width="0.9" />
<text x="418.20" y="458.30" font-size="5.0" font-weight="bold" text-anchor="end" font-family="'Liberation Sans', sans-serif" fill="#222" >4</text>
<text x="530.90" y="458.30" font-size="5.0" font-weight="bold" text-anchor="start" font-family="'Liberation Sans', sans-serif" fill="#222" >4</text>
<line x1="419.20" y1="428.50" x2="422.20" y2="428.50" stroke="#111" stroke-width="0.9" />
<line x1="526.90" y1="428.50" x2="529.90" y2="428.50" stroke="#111" stroke-width="0.9" />
<text x="418.20" y="430.30" font-size="5.0" font-weight="bold" text-anchor="end" font-family="'Liberation Sans', sans-serif" fill="#222" >6</text>
<text x="530.90" y="430.30" font-size="5.0" font-weight="bold" text-anchor="start" font-family="'Liberation Sans', sans-serif" fill="#222" >6</text>
<line x1="419.20" y1="400.50" x2="422.20" y2="400.50" stroke="#111" stroke-width="0.9" />
<line x1="526.90" y1="400.50" x2="529.90" y2="400.50" stroke="#111" stroke-width="0.9" />
<text x="418.20" y="402.30" font-size="5.0" font-weight="bold" text-anchor="end" font-family="'Liberation Sans', sans-serif" fill="#222" >8</text>
<text x="530.90" y="402.30" font-size="5.0" font-weight="bold" text-anchor="start" font-family="'Liberation Sans', sans-serif" fill="#222" >8</text>
<line x1="419.20" y1="372.50" x2="422.20" y2="372.50" stroke="#111" stroke-width="0.9" />
<line x1="526.90" y1="372.50" x2="529.90" y2="372.50" stroke="#111" stroke-width="0.9" />
<text x="418.20" y="374.30" font-size="5.0" font-weight="bold" text-anchor="end" font-family="'Liberation Sans', sans-serif" fill="#222" >10</text>
<text x="530.90" y="374.30" font-size="5.0" font-weight="bold" text-anchor="start" font-family="'Liberation Sans', sans-serif" fill="#222" >10</text>
<line x1="433.50" y1="512.50" x2="433.50" y2="514.50" stroke="#111" stroke-width="0.8" />
<text x="433.50" y="521.50" font-size="5.1" font-weight="bold" text-anchor="middle" font-family="'Liberation Sans', sans-serif" fill="#222" >Fresh</text>
<line x1="449.98" y1="512.50" x2="449.98" y2="514.50" stroke="#111" stroke-width="0.8" />
<text x="449.98" y="521.50" font-size="5.1" font-weight="bold" text-anchor="middle" font-family="'Liberation Sans', sans-serif" fill="#222" >Vit</text>
<line x1="466.46" y1="512.50" x2="466.46" y2="514.50" stroke="#111" stroke-width="0.8" />
<text x="466.46" y="521.50" font-size="5.1" font-weight="bold" text-anchor="middle" font-family="'Liberation Sans', sans-serif" fill="#222" >Vit+MT</text>
<line x1="482.94" y1="512.50" x2="482.94" y2="514.50" stroke="#111" stroke-width="0.8" />
<text x="482.94" y="521.50" font-size="5.1" font-weight="bold" text-anchor="middle" font-family="'Liberation Sans', sans-serif" fill="#222" >Fresh</text>
<line x1="499.42" y1="512.50" x2="499.42" y2="514.50" stroke="#111" stroke-width="0.8" />
<text x="499.42" y="521.50" font-size="5.1" font-weight="bold" text-anchor="middle" font-family="'Liberation Sans', sans-serif" fill="#222" >Vit</text>
<line x1="515.90" y1="512.50" x2="515.90" y2="514.50" stroke="#111" stroke-width="0.8" />
<text x="515.90" y="521.50" font-size="5.1" font-weight="bold" text-anchor="middle" font-family="'Liberation Sans', sans-serif" fill="#222" >Vit+MT</text>
<polyline points="433.50,494.70 433.50,451.40 449.98,451.40 449.98,455.50" fill="none" stroke="#1a1a1a" stroke-width="0.95"/>
<text x="441.74" y="450.80" font-size="9.5" font-weight="bold" text-anchor="middle" font-family="'Liberation Sans', sans-serif" fill="#111" >*</text>
<polyline points="449.98,447.40 449.98,443.00 466.46,443.00 466.46,486.00" fill="none" stroke="#1a1a1a" stroke-width="0.95"/>
<text x="458.22" y="442.40" font-size="9.5" font-weight="bold" text-anchor="middle" font-family="'Liberation Sans', sans-serif" fill="#111" >*</text>
<polyline points="482.94,494.40 482.94,396.10 499.42,396.10 499.42,400.40" fill="none" stroke="#1a1a1a" stroke-width="0.95"/>
<text x="488.98" y="395.50" font-size="9.5" font-weight="bold" text-anchor="middle" font-family="'Liberation Sans', sans-serif" fill="#111" >*</text>
<text x="493.38" y="395.50" font-size="9.5" font-weight="bold" text-anchor="middle" font-family="'Liberation Sans', sans-serif" fill="#111" >*</text>
<polyline points="499.42,393.00 499.42,387.70 515.90,387.70 515.90,471.90" fill="none" stroke="#1a1a1a" stroke-width="0.95"/>
<text x="505.46" y="387.10" font-size="9.5" font-weight="bold" text-anchor="middle" font-family="'Liberation Sans', sans-serif" fill="#111" >*</text>
<text x="509.86" y="387.10" font-size="9.5" font-weight="bold" text-anchor="middle" font-family="'Liberation Sans', sans-serif" fill="#111" >*</text>
<text x="0.00" y="0.00" font-size="7.35" font-weight="bold" text-anchor="middle" font-family="'Liberation Sans', sans-serif" fill="#111" transform="translate(542.30,440.85) rotate(90)">The  relative mRNA level</text>
<text x="82.75" y="541.40" font-size="7.5" font-weight="bold" text-anchor="middle" font-family="'Liberation Sans', sans-serif" fill="#000" >LAMTOR2</text>
<rect x="36.25" y="605.90" width="10.90" height="79.70" fill="#0a0a0a" />
<line x1="58.18" y1="637.40" x2="58.18" y2="642.70" stroke="#1a1a1a" stroke-width="0.95" />
<line x1="55.18" y1="637.40" x2="61.18" y2="637.40" stroke="#1a1a1a" stroke-width="1.0" />
<rect x="52.73" y="642.70" width="10.90" height="42.90" fill="#f9b62d" />
<line x1="74.66" y1="578.40" x2="74.66" y2="600.30" stroke="#1a1a1a" stroke-width="0.95" />
<line x1="71.66" y1="578.40" x2="77.66" y2="578.40" stroke="#1a1a1a" stroke-width="1.0" />
<rect x="69.21" y="600.30" width="10.90" height="85.30" fill="#d42a1f" />
<rect x="85.69" y="605.90" width="10.90" height="79.70" fill="#0a0a0a" />
<line x1="107.62" y1="618.90" x2="107.62" y2="623.90" stroke="#1a1a1a" stroke-width="0.95" />
<line x1="104.62" y1="618.90" x2="110.62" y2="618.90" stroke="#1a1a1a" stroke-width="1.0" />
<rect x="102.17" y="623.90" width="10.90" height="61.70" fill="#f9b62d" />
<line x1="124.10" y1="565.70" x2="124.10" y2="573.20" stroke="#1a1a1a" stroke-width="0.95" />
<line x1="121.10" y1="565.70" x2="127.10" y2="565.70" stroke="#1a1a1a" stroke-width="1.0" />
<rect x="118.65" y="573.20" width="10.90" height="112.40" fill="#d42a1f" />
<line x1="83.00" y1="545.80" x2="83.00" y2="685.60" stroke="#3a3a3a" stroke-width="0.85" stroke-dasharray="0.75,0.75"/>
<line x1="30.40" y1="545.30" x2="30.40" y2="686.10" stroke="#111" stroke-width="1.1" />
<line x1="135.10" y1="545.30" x2="135.10" y2="686.10" stroke="#111" stroke-width="1.1" />
<line x1="29.90" y1="685.60" x2="135.60" y2="685.60" stroke="#111" stroke-width="1.1" />
<line x1="29.90" y1="545.80" x2="135.60" y2="545.80" stroke="#222" stroke-width="1.1" />
<line x1="28.40" y1="675.60" x2="30.40" y2="675.60" stroke="#222" stroke-width="0.8" />
<line x1="135.10" y1="675.60" x2="137.10" y2="675.60" stroke="#222" stroke-width="0.8" />
<line x1="28.40" y1="665.60" x2="30.40" y2="665.60" stroke="#222" stroke-width="0.8" />
<line x1="135.10" y1="665.60" x2="137.10" y2="665.60" stroke="#222" stroke-width="0.8" />
<line x1="28.40" y1="655.60" x2="30.40" y2="655.60" stroke="#222" stroke-width="0.8" />
<line x1="135.10" y1="655.60" x2="137.10" y2="655.60" stroke="#222" stroke-width="0.8" />
<line x1="28.40" y1="645.60" x2="30.40" y2="645.60" stroke="#222" stroke-width="0.8" />
<line x1="135.10" y1="645.60" x2="137.10" y2="645.60" stroke="#222" stroke-width="0.8" />
<line x1="28.40" y1="635.60" x2="30.40" y2="635.60" stroke="#222" stroke-width="0.8" />
<line x1="135.10" y1="635.60" x2="137.10" y2="635.60" stroke="#222" stroke-width="0.8" />
<line x1="28.40" y1="625.60" x2="30.40" y2="625.60" stroke="#222" stroke-width="0.8" />
<line x1="135.10" y1="625.60" x2="137.10" y2="625.60" stroke="#222" stroke-width="0.8" />
<line x1="28.40" y1="615.60" x2="30.40" y2="615.60" stroke="#222" stroke-width="0.8" />
<line x1="135.10" y1="615.60" x2="137.10" y2="615.60" stroke="#222" stroke-width="0.8" />
<line x1="28.40" y1="605.60" x2="30.40" y2="605.60" stroke="#222" stroke-width="0.8" />
<line x1="135.10" y1="605.60" x2="137.10" y2="605.60" stroke="#222" stroke-width="0.8" />
<line x1="28.40" y1="595.60" x2="30.40" y2="595.60" stroke="#222" stroke-width="0.8" />
<line x1="135.10" y1="595.60" x2="137.10" y2="595.60" stroke="#222" stroke-width="0.8" />
<line x1="28.40" y1="585.60" x2="30.40" y2="585.60" stroke="#222" stroke-width="0.8" />
<line x1="135.10" y1="585.60" x2="137.10" y2="585.60" stroke="#222" stroke-width="0.8" />
<line x1="28.40" y1="575.60" x2="30.40" y2="575.60" stroke="#222" stroke-width="0.8" />
<line x1="135.10" y1="575.60" x2="137.10" y2="575.60" stroke="#222" stroke-width="0.8" />
<line x1="28.40" y1="565.60" x2="30.40" y2="565.60" stroke="#222" stroke-width="0.8" />
<line x1="135.10" y1="565.60" x2="137.10" y2="565.60" stroke="#222" stroke-width="0.8" />
<line x1="28.40" y1="555.60" x2="30.40" y2="555.60" stroke="#222" stroke-width="0.8" />
<line x1="135.10" y1="555.60" x2="137.10" y2="555.60" stroke="#222" stroke-width="0.8" />
<line x1="27.40" y1="685.60" x2="30.40" y2="685.60" stroke="#111" stroke-width="0.9" />
<line x1="135.10" y1="685.60" x2="138.10" y2="685.60" stroke="#111" stroke-width="0.9" />
<text x="26.40" y="687.40" font-size="5.0" font-weight="bold" text-anchor="end" font-family="'Liberation Sans', sans-serif" fill="#222" >0.0</text>
<text x="139.10" y="687.40" font-size="5.0" font-weight="bold" text-anchor="start" font-family="'Liberation Sans', sans-serif" fill="#222" >0.0</text>
<line x1="27.40" y1="645.60" x2="30.40" y2="645.60" stroke="#111" stroke-width="0.9" />
<line x1="135.10" y1="645.60" x2="138.10" y2="645.60" stroke="#111" stroke-width="0.9" />
<text x="26.40" y="647.40" font-size="5.0" font-weight="bold" text-anchor="end" font-family="'Liberation Sans', sans-serif" fill="#222" >0.5</text>
<text x="139.10" y="647.40" font-size="5.0" font-weight="bold" text-anchor="start" font-family="'Liberation Sans', sans-serif" fill="#222" >0.5</text>
<line x1="27.40" y1="605.60" x2="30.40" y2="605.60" stroke="#111" stroke-width="0.9" />
<line x1="135.10" y1="605.60" x2="138.10" y2="605.60" stroke="#111" stroke-width="0.9" />
<text x="26.40" y="607.40" font-size="5.0" font-weight="bold" text-anchor="end" font-family="'Liberation Sans', sans-serif" fill="#222" >1.0</text>
<text x="139.10" y="607.40" font-size="5.0" font-weight="bold" text-anchor="start" font-family="'Liberation Sans', sans-serif" fill="#222" >1.0</text>
<line x1="27.40" y1="565.60" x2="30.40" y2="565.60" stroke="#111" stroke-width="0.9" />
<line x1="135.10" y1="565.60" x2="138.10" y2="565.60" stroke="#111" stroke-width="0.9" />
<text x="26.40" y="567.40" font-size="5.0" font-weight="bold" text-anchor="end" font-family="'Liberation Sans', sans-serif" fill="#222" >1.5</text>
<text x="139.10" y="567.40" font-size="5.0" font-weight="bold" text-anchor="start" font-family="'Liberation Sans', sans-serif" fill="#222" >1.5</text>
<line x1="41.70" y1="685.60" x2="41.70" y2="687.60" stroke="#111" stroke-width="0.8" />
<text x="41.70" y="694.60" font-size="5.1" font-weight="bold" text-anchor="middle" font-family="'Liberation Sans', sans-serif" fill="#222" >Fresh</text>
<line x1="58.18" y1="685.60" x2="58.18" y2="687.60" stroke="#111" stroke-width="0.8" />
<text x="58.18" y="694.60" font-size="5.1" font-weight="bold" text-anchor="middle" font-family="'Liberation Sans', sans-serif" fill="#222" >Vit</text>
<line x1="74.66" y1="685.60" x2="74.66" y2="687.60" stroke="#111" stroke-width="0.8" />
<text x="74.66" y="694.60" font-size="5.1" font-weight="bold" text-anchor="middle" font-family="'Liberation Sans', sans-serif" fill="#222" >Vit+MT</text>
<line x1="91.14" y1="685.60" x2="91.14" y2="687.60" stroke="#111" stroke-width="0.8" />
<text x="91.14" y="694.60" font-size="5.1" font-weight="bold" text-anchor="middle" font-family="'Liberation Sans', sans-serif" fill="#222" >Fresh</text>
<line x1="107.62" y1="685.60" x2="107.62" y2="687.60" stroke="#111" stroke-width="0.8" />
<text x="107.62" y="694.60" font-size="5.1" font-weight="bold" text-anchor="middle" font-family="'Liberation Sans', sans-serif" fill="#222" >Vit</text>
<line x1="124.10" y1="685.60" x2="124.10" y2="687.60" stroke="#111" stroke-width="0.8" />
<text x="124.10" y="694.60" font-size="5.1" font-weight="bold" text-anchor="middle" font-family="'Liberation Sans', sans-serif" fill="#222" >Vit+MT</text>
<polyline points="41.70,601.80 41.70,597.10 58.18,597.10 58.18,632.20" fill="none" stroke="#1a1a1a" stroke-width="0.95"/>
<text x="47.74" y="596.50" font-size="9.5" font-weight="bold" text-anchor="middle" font-family="'Liberation Sans', sans-serif" fill="#111" >*</text>
<text x="52.14" y="596.50" font-size="9.5" font-weight="bold" text-anchor="middle" font-family="'Liberation Sans', sans-serif" fill="#111" >*</text>
<polyline points="58.18,592.80 58.18,569.30 74.66,569.30 74.66,573.90" fill="none" stroke="#1a1a1a" stroke-width="0.95"/>
<text x="66.42" y="568.70" font-size="9.5" font-weight="bold" text-anchor="middle" font-family="'Liberation Sans', sans-serif" fill="#111" >*</text>
<polyline points="91.14,600.60 91.14,596.40 107.62,596.40 107.62,615.30" fill="none" stroke="#1a1a1a" stroke-width="0.95"/>
<text x="99.38" y="595.80" font-size="9.5" font-weight="bold" text-anchor="middle" font-family="'Liberation Sans', sans-serif" fill="#111" >*</text>
<polyline points="107.62,590.80 107.62,556.70 124.10,556.70 124.10,560.80" fill="none" stroke="#1a1a1a" stroke-width="0.95"/>
<text x="113.66" y="556.10" font-size="9.5" font-weight="bold" text-anchor="middle" font-family="'Liberation Sans', sans-serif" fill="#111" >*</text>
<text x="118.06" y="556.10" font-size="9.5" font-weight="bold" text-anchor="middle" font-family="'Liberation Sans', sans-serif" fill="#111" >*</text>
<text x="0.00" y="0.00" font-size="7.8" font-weight="bold" text-anchor="middle" font-family="'Liberation Sans', sans-serif" fill="#111" transform="translate(14.80,615.70) rotate(-90)">The RNA-seq</text>
<text x="213.45" y="541.40" font-size="7.5" font-weight="bold" text-anchor="middle" font-family="'Liberation Sans', sans-serif" fill="#000" >ND4L</text>
<rect x="166.95" y="634.70" width="10.90" height="50.90" fill="#0a0a0a" />
<line x1="188.88" y1="648.40" x2="188.88" y2="653.80" stroke="#1a1a1a" stroke-width="0.95" />
<line x1="185.88" y1="648.40" x2="191.88" y2="648.40" stroke="#1a1a1a" stroke-width="1.0" />
<rect x="183.43" y="653.80" width="10.90" height="31.80" fill="#f9b62d" />
<line x1="205.36" y1="604.90" x2="205.36" y2="616.90" stroke="#1a1a1a" stroke-width="0.95" />
<line x1="202.36" y1="604.90" x2="208.36" y2="604.90" stroke="#1a1a1a" stroke-width="1.0" />
<rect x="199.91" y="616.90" width="10.90" height="68.70" fill="#d42a1f" />
<rect x="216.39" y="634.60" width="10.90" height="51.00" fill="#0a0a0a" />
<line x1="238.32" y1="664.80" x2="238.32" y2="667.10" stroke="#1a1a1a" stroke-width="0.95" />
<line x1="235.32" y1="664.80" x2="241.32" y2="664.80" stroke="#1a1a1a" stroke-width="1.0" />
<rect x="232.87" y="667.10" width="10.90" height="18.50" fill="#f9b62d" />
<line x1="254.80" y1="571.90" x2="254.80" y2="592.70" stroke="#1a1a1a" stroke-width="0.95" />
<line x1="251.80" y1="571.90" x2="257.80" y2="571.90" stroke="#1a1a1a" stroke-width="1.0" />
<rect x="249.35" y="592.70" width="10.90" height="92.90" fill="#d42a1f" />
<line x1="213.70" y1="545.80" x2="213.70" y2="685.60" stroke="#3a3a3a" stroke-width="0.85" stroke-dasharray="0.75,0.75"/>
<line x1="161.10" y1="545.30" x2="161.10" y2="686.10" stroke="#111" stroke-width="1.1" />
<line x1="265.80" y1="545.30" x2="265.80" y2="686.10" stroke="#111" stroke-width="1.1" />
<line x1="160.60" y1="685.60" x2="266.30" y2="685.60" stroke="#111" stroke-width="1.1" />
<line x1="160.60" y1="545.80" x2="266.30" y2="545.80" stroke="#222" stroke-width="1.1" />
<line x1="159.10" y1="672.85" x2="161.10" y2="672.85" stroke="#222" stroke-width="0.8" />
<line x1="265.80" y1="672.85" x2="267.80" y2="672.85" stroke="#222" stroke-width="0.8" />
<line x1="159.10" y1="660.10" x2="161.10" y2="660.10" stroke="#222" stroke-width="0.8" />
<line x1="265.80" y1="660.10" x2="267.80" y2="660.10" stroke="#222" stroke-width="0.8" />
<line x1="159.10" y1="647.35" x2="161.10" y2="647.35" stroke="#222" stroke-width="0.8" />
<line x1="265.80" y1="647.35" x2="267.80" y2="647.35" stroke="#222" stroke-width="0.8" />
<line x1="159.10" y1="634.60" x2="161.10" y2="634.60" stroke="#222" stroke-width="0.8" />
<line x1="265.80" y1="634.60" x2="267.80" y2="634.60" stroke="#222" stroke-width="0.8" />
<line x1="159.10" y1="621.85" x2="161.10" y2="621.85" stroke="#222" stroke-width="0.8" />
<line x1="265.80" y1="621.85" x2="267.80" y2="621.85" stroke="#222" stroke-width="0.8" />
<line x1="159.10" y1="609.10" x2="161.10" y2="609.10" stroke="#222" stroke-width="0.8" />
<line x1="265.80" y1="609.10" x2="267.80" y2="609.10" stroke="#222" stroke-width="0.8" />
<line x1="159.10" y1="596.35" x2="161.10" y2="596.35" stroke="#222" stroke-width="0.8" />
<line x1="265.80" y1="596.35" x2="267.80" y2="596.35" stroke="#222" stroke-width="0.8" />
<line x1="159.10" y1="583.60" x2="161.10" y2="583.60" stroke="#222" stroke-width="0.8" />
<line x1="265.80" y1="583.60" x2="267.80" y2="583.60" stroke="#222" stroke-width="0.8" />
<line x1="159.10" y1="570.85" x2="161.10" y2="570.85" stroke="#222" stroke-width="0.8" />
<line x1="265.80" y1="570.85" x2="267.80" y2="570.85" stroke="#222" stroke-width="0.8" />
<line x1="159.10" y1="558.10" x2="161.10" y2="558.10" stroke="#222" stroke-width="0.8" />
<line x1="265.80" y1="558.10" x2="267.80" y2="558.10" stroke="#222" stroke-width="0.8" />
<line x1="158.10" y1="685.60" x2="161.10" y2="685.60" stroke="#111" stroke-width="0.9" />
<line x1="265.80" y1="685.60" x2="268.80" y2="685.60" stroke="#111" stroke-width="0.9" />
<text x="157.10" y="687.40" font-size="5.0" font-weight="bold" text-anchor="end" font-family="'Liberation Sans', sans-serif" fill="#222" >0</text>
<text x="269.80" y="687.40" font-size="5.0" font-weight="bold" text-anchor="start" font-family="'Liberation Sans', sans-serif" fill="#222" >0</text>
<line x1="158.10" y1="634.60" x2="161.10" y2="634.60" stroke="#111" stroke-width="0.9" />
<line x1="265.80" y1="634.60" x2="268.80" y2="634.60" stroke="#111" stroke-width="0.9" />
<text x="157.10" y="636.40" font-size="5.0" font-weight="bold" text-anchor="end" font-family="'Liberation Sans', sans-serif" fill="#222" >1</text>
<text x="269.80" y="636.40" font-size="5.0" font-weight="bold" text-anchor="start" font-family="'Liberation Sans', sans-serif" fill="#222" >1</text>
<line x1="158.10" y1="583.60" x2="161.10" y2="583.60" stroke="#111" stroke-width="0.9" />
<line x1="265.80" y1="583.60" x2="268.80" y2="583.60" stroke="#111" stroke-width="0.9" />
<text x="157.10" y="585.40" font-size="5.0" font-weight="bold" text-anchor="end" font-family="'Liberation Sans', sans-serif" fill="#222" >2</text>
<text x="269.80" y="585.40" font-size="5.0" font-weight="bold" text-anchor="start" font-family="'Liberation Sans', sans-serif" fill="#222" >2</text>
<line x1="172.40" y1="685.60" x2="172.40" y2="687.60" stroke="#111" stroke-width="0.8" />
<text x="172.40" y="694.60" font-size="5.1" font-weight="bold" text-anchor="middle" font-family="'Liberation Sans', sans-serif" fill="#222" >Fresh</text>
<line x1="188.88" y1="685.60" x2="188.88" y2="687.60" stroke="#111" stroke-width="0.8" />
<text x="188.88" y="694.60" font-size="5.1" font-weight="bold" text-anchor="middle" font-family="'Liberation Sans', sans-serif" fill="#222" >Vit</text>
<line x1="205.36" y1="685.60" x2="205.36" y2="687.60" stroke="#111" stroke-width="0.8" />
<text x="205.36" y="694.60" font-size="5.1" font-weight="bold" text-anchor="middle" font-family="'Liberation Sans', sans-serif" fill="#222" >Vit+MT</text>
<line x1="221.84" y1="685.60" x2="221.84" y2="687.60" stroke="#111" stroke-width="0.8" />
<text x="221.84" y="694.60" font-size="5.1" font-weight="bold" text-anchor="middle" font-family="'Liberation Sans', sans-serif" fill="#222" >Fresh</text>
<line x1="238.32" y1="685.60" x2="238.32" y2="687.60" stroke="#111" stroke-width="0.8" />
<text x="238.32" y="694.60" font-size="5.1" font-weight="bold" text-anchor="middle" font-family="'Liberation Sans', sans-serif" fill="#222" >Vit</text>
<line x1="254.80" y1="685.60" x2="254.80" y2="687.60" stroke="#111" stroke-width="0.8" />
<text x="254.80" y="694.60" font-size="5.1" font-weight="bold" text-anchor="middle" font-family="'Liberation Sans', sans-serif" fill="#222" >Vit+MT</text>
<polyline points="172.40,628.90 172.40,625.10 188.88,625.10 188.88,641.40" fill="none" stroke="#1a1a1a" stroke-width="0.95"/>
<text x="180.64" y="624.50" font-size="9.5" font-weight="bold" text-anchor="middle" font-family="'Liberation Sans', sans-serif" fill="#111" >*</text>
<polyline points="188.88,619.60 188.88,594.80 205.36,594.80 205.36,599.30" fill="none" stroke="#1a1a1a" stroke-width="0.95"/>
<text x="197.12" y="594.20" font-size="9.5" font-weight="bold" text-anchor="middle" font-family="'Liberation Sans', sans-serif" fill="#111" >*</text>
<polyline points="221.84,629.50 221.84,624.90 238.32,624.90 238.32,661.00" fill="none" stroke="#1a1a1a" stroke-width="0.95"/>
<text x="227.88" y="624.30" font-size="9.5" font-weight="bold" text-anchor="middle" font-family="'Liberation Sans', sans-serif" fill="#111" >*</text>
<text x="232.28" y="624.30" font-size="9.5" font-weight="bold" text-anchor="middle" font-family="'Liberation Sans', sans-serif" fill="#111" >*</text>
<polyline points="238.32,618.70 238.32,562.60 254.80,562.60 254.80,567.10" fill="none" stroke="#1a1a1a" stroke-width="0.95"/>
<text x="244.36" y="562.00" font-size="9.5" font-weight="bold" text-anchor="middle" font-family="'Liberation Sans', sans-serif" fill="#111" >*</text>
<text x="248.76" y="562.00" font-size="9.5" font-weight="bold" text-anchor="middle" font-family="'Liberation Sans', sans-serif" fill="#111" >*</text>
<text x="344.35" y="541.40" font-size="7.5" font-weight="bold" text-anchor="middle" font-family="'Liberation Sans', sans-serif" fill="#000" >SPP1</text>
<rect x="297.85" y="645.80" width="10.90" height="39.80" fill="#0a0a0a" />
<line x1="319.78" y1="661.70" x2="319.78" y2="667.50" stroke="#1a1a1a" stroke-width="0.95" />
<line x1="316.78" y1="661.70" x2="322.78" y2="661.70" stroke="#1a1a1a" stroke-width="1.0" />
<rect x="314.33" y="667.50" width="10.90" height="18.10" fill="#f9b62d" />
<line x1="336.26" y1="562.80" x2="336.26" y2="601.00" stroke="#1a1a1a" stroke-width="0.95" />
<line x1="333.26" y1="562.80" x2="339.26" y2="562.80" stroke="#1a1a1a" stroke-width="1.0" />
<rect x="330.81" y="601.00" width="10.90" height="84.60" fill="#d42a1f" />
<rect x="347.29" y="646.00" width="10.90" height="39.60" fill="#0a0a0a" />
<line x1="369.22" y1="673.50" x2="369.22" y2="673.90" stroke="#1a1a1a" stroke-width="0.95" />
<line x1="366.22" y1="673.50" x2="372.22" y2="673.50" stroke="#1a1a1a" stroke-width="1.0" />
<rect x="363.77" y="673.90" width="10.90" height="11.70" fill="#f9b62d" />
<line x1="385.70" y1="607.80" x2="385.70" y2="619.10" stroke="#1a1a1a" stroke-width="0.95" />
<line x1="382.70" y1="607.80" x2="388.70" y2="607.80" stroke="#1a1a1a" stroke-width="1.0" />
<rect x="380.25" y="619.10" width="10.90" height="66.50" fill="#d42a1f" />
<line x1="344.60" y1="545.80" x2="344.60" y2="685.60" stroke="#3a3a3a" stroke-width="0.85" stroke-dasharray="0.75,0.75"/>
<line x1="292.00" y1="545.30" x2="292.00" y2="686.10" stroke="#111" stroke-width="1.1" />
<line x1="396.70" y1="545.30" x2="396.70" y2="686.10" stroke="#111" stroke-width="1.1" />
<line x1="291.50" y1="685.60" x2="397.20" y2="685.60" stroke="#111" stroke-width="1.1" />
<line x1="291.50" y1="545.80" x2="397.20" y2="545.80" stroke="#222" stroke-width="1.1" />
<line x1="290.00" y1="675.60" x2="292.00" y2="675.60" stroke="#222" stroke-width="0.8" />
<line x1="396.70" y1="675.60" x2="398.70" y2="675.60" stroke="#222" stroke-width="0.8" />
<line x1="290.00" y1="665.60" x2="292.00" y2="665.60" stroke="#222" stroke-width="0.8" />
<line x1="396.70" y1="665.60" x2="398.70" y2="665.60" stroke="#222" stroke-width="0.8" />
<line x1="290.00" y1="655.60" x2="292.00" y2="655.60" stroke="#222" stroke-width="0.8" />
<line x1="396.70" y1="655.60" x2="398.70" y2="655.60" stroke="#222" stroke-width="0.8" />
<line x1="290.00" y1="645.60" x2="292.00" y2="645.60" stroke="#222" stroke-width="0.8" />
<line x1="396.70" y1="645.60" x2="398.70" y2="645.60" stroke="#222" stroke-width="0.8" />
<line x1="290.00" y1="635.60" x2="292.00" y2="635.60" stroke="#222" stroke-width="0.8" />
<line x1="396.70" y1="635.60" x2="398.70" y2="635.60" stroke="#222" stroke-width="0.8" />
<line x1="290.00" y1="625.60" x2="292.00" y2="625.60" stroke="#222" stroke-width="0.8" />
<line x1="396.70" y1="625.60" x2="398.70" y2="625.60" stroke="#222" stroke-width="0.8" />
<line x1="290.00" y1="615.60" x2="292.00" y2="615.60" stroke="#222" stroke-width="0.8" />
<line x1="396.70" y1="615.60" x2="398.70" y2="615.60" stroke="#222" stroke-width="0.8" />
<line x1="290.00" y1="605.60" x2="292.00" y2="605.60" stroke="#222" stroke-width="0.8" />
<line x1="396.70" y1="605.60" x2="398.70" y2="605.60" stroke="#222" stroke-width="0.8" />
<line x1="290.00" y1="595.60" x2="292.00" y2="595.60" stroke="#222" stroke-width="0.8" />
<line x1="396.70" y1="595.60" x2="398.70" y2="595.60" stroke="#222" stroke-width="0.8" />
<line x1="290.00" y1="585.60" x2="292.00" y2="585.60" stroke="#222" stroke-width="0.8" />
<line x1="396.70" y1="585.60" x2="398.70" y2="585.60" stroke="#222" stroke-width="0.8" />
<line x1="290.00" y1="575.60" x2="292.00" y2="575.60" stroke="#222" stroke-width="0.8" />
<line x1="396.70" y1="575.60" x2="398.70" y2="575.60" stroke="#222" stroke-width="0.8" />
<line x1="290.00" y1="565.60" x2="292.00" y2="565.60" stroke="#222" stroke-width="0.8" />
<line x1="396.70" y1="565.60" x2="398.70" y2="565.60" stroke="#222" stroke-width="0.8" />
<line x1="290.00" y1="555.60" x2="292.00" y2="555.60" stroke="#222" stroke-width="0.8" />
<line x1="396.70" y1="555.60" x2="398.70" y2="555.60" stroke="#222" stroke-width="0.8" />
<line x1="289.00" y1="685.60" x2="292.00" y2="685.60" stroke="#111" stroke-width="0.9" />
<line x1="396.70" y1="685.60" x2="399.70" y2="685.60" stroke="#111" stroke-width="0.9" />
<text x="288.00" y="687.40" font-size="5.0" font-weight="bold" text-anchor="end" font-family="'Liberation Sans', sans-serif" fill="#222" >0</text>
<text x="400.70" y="687.40" font-size="5.0" font-weight="bold" text-anchor="start" font-family="'Liberation Sans', sans-serif" fill="#222" >0</text>
<line x1="289.00" y1="645.60" x2="292.00" y2="645.60" stroke="#111" stroke-width="0.9" />
<line x1="396.70" y1="645.60" x2="399.70" y2="645.60" stroke="#111" stroke-width="0.9" />
<text x="288.00" y="647.40" font-size="5.0" font-weight="bold" text-anchor="end" font-family="'Liberation Sans', sans-serif" fill="#222" >1</text>
<text x="400.70" y="647.40" font-size="5.0" font-weight="bold" text-anchor="start" font-family="'Liberation Sans', sans-serif" fill="#222" >1</text>
<line x1="289.00" y1="605.60" x2="292.00" y2="605.60" stroke="#111" stroke-width="0.9" />
<line x1="396.70" y1="605.60" x2="399.70" y2="605.60" stroke="#111" stroke-width="0.9" />
<text x="288.00" y="607.40" font-size="5.0" font-weight="bold" text-anchor="end" font-family="'Liberation Sans', sans-serif" fill="#222" >2</text>
<text x="400.70" y="607.40" font-size="5.0" font-weight="bold" text-anchor="start" font-family="'Liberation Sans', sans-serif" fill="#222" >2</text>
<line x1="289.00" y1="565.60" x2="292.00" y2="565.60" stroke="#111" stroke-width="0.9" />
<line x1="396.70" y1="565.60" x2="399.70" y2="565.60" stroke="#111" stroke-width="0.9" />
<text x="288.00" y="567.40" font-size="5.0" font-weight="bold" text-anchor="end" font-family="'Liberation Sans', sans-serif" fill="#222" >3</text>
<text x="400.70" y="567.40" font-size="5.0" font-weight="bold" text-anchor="start" font-family="'Liberation Sans', sans-serif" fill="#222" >3</text>
<line x1="303.30" y1="685.60" x2="303.30" y2="687.60" stroke="#111" stroke-width="0.8" />
<text x="303.30" y="694.60" font-size="5.1" font-weight="bold" text-anchor="middle" font-family="'Liberation Sans', sans-serif" fill="#222" >Fresh</text>
<line x1="319.78" y1="685.60" x2="319.78" y2="687.60" stroke="#111" stroke-width="0.8" />
<text x="319.78" y="694.60" font-size="5.1" font-weight="bold" text-anchor="middle" font-family="'Liberation Sans', sans-serif" fill="#222" >Vit</text>
<line x1="336.26" y1="685.60" x2="336.26" y2="687.60" stroke="#111" stroke-width="0.8" />
<text x="336.26" y="694.60" font-size="5.1" font-weight="bold" text-anchor="middle" font-family="'Liberation Sans', sans-serif" fill="#222" >Vit+MT</text>
<line x1="352.74" y1="685.60" x2="352.74" y2="687.60" stroke="#111" stroke-width="0.8" />
<text x="352.74" y="694.60" font-size="5.1" font-weight="bold" text-anchor="middle" font-family="'Liberation Sans', sans-serif" fill="#222" >Fresh</text>
<line x1="369.22" y1="685.60" x2="369.22" y2="687.60" stroke="#111" stroke-width="0.8" />
<text x="369.22" y="694.60" font-size="5.1" font-weight="bold" text-anchor="middle" font-family="'Liberation Sans', sans-serif" fill="#222" >Vit</text>
<line x1="385.70" y1="685.60" x2="385.70" y2="687.60" stroke="#111" stroke-width="0.8" />
<text x="385.70" y="694.60" font-size="5.1" font-weight="bold" text-anchor="middle" font-family="'Liberation Sans', sans-serif" fill="#222" >Vit+MT</text>
<polyline points="303.30,641.10 303.30,637.20 319.78,637.20 319.78,658.90" fill="none" stroke="#1a1a1a" stroke-width="0.95"/>
<text x="311.54" y="636.60" font-size="9.5" font-weight="bold" text-anchor="middle" font-family="'Liberation Sans', sans-serif" fill="#111" >*</text>
<polyline points="319.78,632.20 319.78,555.00 336.26,555.00 336.26,558.90" fill="none" stroke="#1a1a1a" stroke-width="0.95"/>
<text x="328.02" y="554.40" font-size="9.5" font-weight="bold" text-anchor="middle" font-family="'Liberation Sans', sans-serif" fill="#111" >*</text>
<polyline points="352.74,640.90 352.74,637.10 369.22,637.10 369.22,669.50" fill="none" stroke="#1a1a1a" stroke-width="0.95"/>
<text x="358.78" y="636.50" font-size="9.5" font-weight="bold" text-anchor="middle" font-family="'Liberation Sans', sans-serif" fill="#111" >*</text>
<text x="363.18" y="636.50" font-size="9.5" font-weight="bold" text-anchor="middle" font-family="'Liberation Sans', sans-serif" fill="#111" >*</text>
<polyline points="369.22,633.30 369.22,598.80 385.70,598.80 385.70,602.50" fill="none" stroke="#1a1a1a" stroke-width="0.95"/>
<text x="373.06" y="598.20" font-size="9.5" font-weight="bold" text-anchor="middle" font-family="'Liberation Sans', sans-serif" fill="#111" >*</text>
<text x="377.46" y="598.20" font-size="9.5" font-weight="bold" text-anchor="middle" font-family="'Liberation Sans', sans-serif" fill="#111" >*</text>
<text x="381.86" y="598.20" font-size="9.5" font-weight="bold" text-anchor="middle" font-family="'Liberation Sans', sans-serif" fill="#111" >*</text>
<text x="474.95" y="541.40" font-size="7.5" font-weight="bold" text-anchor="middle" font-family="'Liberation Sans', sans-serif" fill="#000" >NACA</text>
<rect x="428.45" y="606.00" width="10.90" height="79.60" fill="#0a0a0a" />
<line x1="450.38" y1="625.30" x2="450.38" y2="635.70" stroke="#1a1a1a" stroke-width="0.95" />
<line x1="447.38" y1="625.30" x2="453.38" y2="625.30" stroke="#1a1a1a" stroke-width="1.0" />
<rect x="444.93" y="635.70" width="10.90" height="49.90" fill="#f9b62d" />
<line x1="466.86" y1="584.30" x2="466.86" y2="603.40" stroke="#1a1a1a" stroke-width="0.95" />
<line x1="463.86" y1="584.30" x2="469.86" y2="584.30" stroke="#1a1a1a" stroke-width="1.0" />
<rect x="461.41" y="603.40" width="10.90" height="82.20" fill="#d42a1f" />
<rect x="477.89" y="606.00" width="10.90" height="79.60" fill="#0a0a0a" />
<line x1="499.82" y1="633.40" x2="499.82" y2="644.90" stroke="#1a1a1a" stroke-width="0.95" />
<line x1="496.82" y1="633.40" x2="502.82" y2="633.40" stroke="#1a1a1a" stroke-width="1.0" />
<rect x="494.37" y="644.90" width="10.90" height="40.70" fill="#f9b62d" />
<line x1="516.30" y1="576.80" x2="516.30" y2="589.60" stroke="#1a1a1a" stroke-width="0.95" />
<line x1="513.30" y1="576.80" x2="519.30" y2="576.80" stroke="#1a1a1a" stroke-width="1.0" />
<rect x="510.85" y="589.60" width="10.90" height="96.00" fill="#d42a1f" />
<line x1="475.20" y1="545.80" x2="475.20" y2="685.60" stroke="#3a3a3a" stroke-width="0.85" stroke-dasharray="0.75,0.75"/>
<line x1="422.60" y1="545.30" x2="422.60" y2="686.10" stroke="#111" stroke-width="1.1" />
<line x1="527.30" y1="545.30" x2="527.30" y2="686.10" stroke="#111" stroke-width="1.1" />
<line x1="422.10" y1="685.60" x2="527.80" y2="685.60" stroke="#111" stroke-width="1.1" />
<line x1="422.10" y1="545.80" x2="527.80" y2="545.80" stroke="#222" stroke-width="1.1" />
<line x1="420.60" y1="675.60" x2="422.60" y2="675.60" stroke="#222" stroke-width="0.8" />
<line x1="527.30" y1="675.60" x2="529.30" y2="675.60" stroke="#222" stroke-width="0.8" />
<line x1="420.60" y1="665.60" x2="422.60" y2="665.60" stroke="#222" stroke-width="0.8" />
<line x1="527.30" y1="665.60" x2="529.30" y2="665.60" stroke="#222" stroke-width="0.8" />
<line x1="420.60" y1="655.60" x2="422.60" y2="655.60" stroke="#222" stroke-width="0.8" />
<line x1="527.30" y1="655.60" x2="529.30" y2="655.60" stroke="#222" stroke-width="0.8" />
<line x1="420.60" y1="645.60" x2="422.60" y2="645.60" stroke="#222" stroke-width="0.8" />
<line x1="527.30" y1="645.60" x2="529.30" y2="645.60" stroke="#222" stroke-width="0.8" />
<line x1="420.60" y1="635.60" x2="422.60" y2="635.60" stroke="#222" stroke-width="0.8" />
<line x1="527.30" y1="635.60" x2="529.30" y2="635.60" stroke="#222" stroke-width="0.8" />
<line x1="420.60" y1="625.60" x2="422.60" y2="625.60" stroke="#222" stroke-width="0.8" />
<line x1="527.30" y1="625.60" x2="529.30" y2="625.60" stroke="#222" stroke-width="0.8" />
<line x1="420.60" y1="615.60" x2="422.60" y2="615.60" stroke="#222" stroke-width="0.8" />
<line x1="527.30" y1="615.60" x2="529.30" y2="615.60" stroke="#222" stroke-width="0.8" />
<line x1="420.60" y1="605.60" x2="422.60" y2="605.60" stroke="#222" stroke-width="0.8" />
<line x1="527.30" y1="605.60" x2="529.30" y2="605.60" stroke="#222" stroke-width="0.8" />
<line x1="420.60" y1="595.60" x2="422.60" y2="595.60" stroke="#222" stroke-width="0.8" />
<line x1="527.30" y1="595.60" x2="529.30" y2="595.60" stroke="#222" stroke-width="0.8" />
<line x1="420.60" y1="585.60" x2="422.60" y2="585.60" stroke="#222" stroke-width="0.8" />
<line x1="527.30" y1="585.60" x2="529.30" y2="585.60" stroke="#222" stroke-width="0.8" />
<line x1="420.60" y1="575.60" x2="422.60" y2="575.60" stroke="#222" stroke-width="0.8" />
<line x1="527.30" y1="575.60" x2="529.30" y2="575.60" stroke="#222" stroke-width="0.8" />
<line x1="420.60" y1="565.60" x2="422.60" y2="565.60" stroke="#222" stroke-width="0.8" />
<line x1="527.30" y1="565.60" x2="529.30" y2="565.60" stroke="#222" stroke-width="0.8" />
<line x1="420.60" y1="555.60" x2="422.60" y2="555.60" stroke="#222" stroke-width="0.8" />
<line x1="527.30" y1="555.60" x2="529.30" y2="555.60" stroke="#222" stroke-width="0.8" />
<line x1="419.60" y1="685.60" x2="422.60" y2="685.60" stroke="#111" stroke-width="0.9" />
<line x1="527.30" y1="685.60" x2="530.30" y2="685.60" stroke="#111" stroke-width="0.9" />
<text x="418.60" y="687.40" font-size="5.0" font-weight="bold" text-anchor="end" font-family="'Liberation Sans', sans-serif" fill="#222" >0.0</text>
<text x="531.30" y="687.40" font-size="5.0" font-weight="bold" text-anchor="start" font-family="'Liberation Sans', sans-serif" fill="#222" >0.0</text>
<line x1="419.60" y1="645.60" x2="422.60" y2="645.60" stroke="#111" stroke-width="0.9" />
<line x1="527.30" y1="645.60" x2="530.30" y2="645.60" stroke="#111" stroke-width="0.9" />
<text x="418.60" y="647.40" font-size="5.0" font-weight="bold" text-anchor="end" font-family="'Liberation Sans', sans-serif" fill="#222" >0.5</text>
<text x="531.30" y="647.40" font-size="5.0" font-weight="bold" text-anchor="start" font-family="'Liberation Sans', sans-serif" fill="#222" >0.5</text>
<line x1="419.60" y1="605.60" x2="422.60" y2="605.60" stroke="#111" stroke-width="0.9" />
<line x1="527.30" y1="605.60" x2="530.30" y2="605.60" stroke="#111" stroke-width="0.9" />
<text x="418.60" y="607.40" font-size="5.0" font-weight="bold" text-anchor="end" font-family="'Liberation Sans', sans-serif" fill="#222" >1.0</text>
<text x="531.30" y="607.40" font-size="5.0" font-weight="bold" text-anchor="start" font-family="'Liberation Sans', sans-serif" fill="#222" >1.0</text>
<line x1="419.60" y1="565.60" x2="422.60" y2="565.60" stroke="#111" stroke-width="0.9" />
<line x1="527.30" y1="565.60" x2="530.30" y2="565.60" stroke="#111" stroke-width="0.9" />
<text x="418.60" y="567.40" font-size="5.0" font-weight="bold" text-anchor="end" font-family="'Liberation Sans', sans-serif" fill="#222" >1.5</text>
<text x="531.30" y="567.40" font-size="5.0" font-weight="bold" text-anchor="start" font-family="'Liberation Sans', sans-serif" fill="#222" >1.5</text>
<line x1="433.90" y1="685.60" x2="433.90" y2="687.60" stroke="#111" stroke-width="0.8" />
<text x="433.90" y="694.60" font-size="5.1" font-weight="bold" text-anchor="middle" font-family="'Liberation Sans', sans-serif" fill="#222" >Fresh</text>
<line x1="450.38" y1="685.60" x2="450.38" y2="687.60" stroke="#111" stroke-width="0.8" />
<text x="450.38" y="694.60" font-size="5.1" font-weight="bold" text-anchor="middle" font-family="'Liberation Sans', sans-serif" fill="#222" >Vit</text>
<line x1="466.86" y1="685.60" x2="466.86" y2="687.60" stroke="#111" stroke-width="0.8" />
<text x="466.86" y="694.60" font-size="5.1" font-weight="bold" text-anchor="middle" font-family="'Liberation Sans', sans-serif" fill="#222" >Vit+MT</text>
<line x1="483.34" y1="685.60" x2="483.34" y2="687.60" stroke="#111" stroke-width="0.8" />
<text x="483.34" y="694.60" font-size="5.1" font-weight="bold" text-anchor="middle" font-family="'Liberation Sans', sans-serif" fill="#222" >Fresh</text>
<line x1="499.82" y1="685.60" x2="499.82" y2="687.60" stroke="#111" stroke-width="0.8" />
<text x="499.82" y="694.60" font-size="5.1" font-weight="bold" text-anchor="middle" font-family="'Liberation Sans', sans-serif" fill="#222" >Vit</text>
<line x1="516.30" y1="685.60" x2="516.30" y2="687.60" stroke="#111" stroke-width="0.8" />
<text x="516.30" y="694.60" font-size="5.1" font-weight="bold" text-anchor="middle" font-family="'Liberation Sans', sans-serif" fill="#222" >Vit+MT</text>
<polyline points="433.90,599.60 433.90,595.60 450.38,595.60 450.38,618.10" fill="none" stroke="#1a1a1a" stroke-width="0.95"/>
<text x="442.14" y="595.00" font-size="9.5" font-weight="bold" text-anchor="middle" font-family="'Liberation Sans', sans-serif" fill="#111" >*</text>
<polyline points="450.38,590.80 450.38,575.30 466.86,575.30 466.86,578.70" fill="none" stroke="#1a1a1a" stroke-width="0.95"/>
<text x="458.62" y="574.70" font-size="9.5" font-weight="bold" text-anchor="middle" font-family="'Liberation Sans', sans-serif" fill="#111" >*</text>
<polyline points="483.34,600.10 483.34,595.90 499.82,595.90 499.82,627.90" fill="none" stroke="#1a1a1a" stroke-width="0.95"/>
<text x="491.58" y="595.30" font-size="9.5" font-weight="bold" text-anchor="middle" font-family="'Liberation Sans', sans-serif" fill="#111" >*</text>
<polyline points="499.82,591.10 499.82,568.50 516.30,568.50 516.30,572.30" fill="none" stroke="#1a1a1a" stroke-width="0.95"/>
<text x="508.06" y="567.90" font-size="9.5" font-weight="bold" text-anchor="middle" font-family="'Liberation Sans', sans-serif" fill="#111" >*</text>
<text x="0.00" y="0.00" font-size="7.35" font-weight="bold" text-anchor="middle" font-family="'Liberation Sans', sans-serif" fill="#111" transform="translate(542.70,614.20) rotate(90)">The  relative mRNA level</text>
</svg>
</body></html>
